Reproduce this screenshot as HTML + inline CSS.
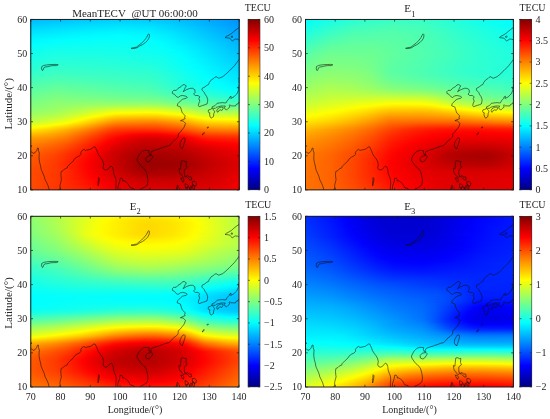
<!DOCTYPE html><html><head><meta charset="utf-8"><style>
html,body{margin:0;padding:0;background:#fff}
body{width:550px;height:419px;overflow:hidden;position:relative}
.f{position:absolute}.f i{display:block;height:1px}
svg{position:absolute;left:0;top:0}
text{font-family:"Liberation Serif","Times New Roman",serif;font-size:10px;fill:#262626}
</style></head><body>
<div class="f" style="left:30px;top:19px;width:210px;height:171px"><i style="background:linear-gradient(90deg,#00b8ff,#00c5ff 52px,#00ccff 91px,#00c9ff 120px,#00b3ff 165px,#0091ff)"></i><i style="background:linear-gradient(90deg,#00bcff,#00c9ff 52px,#00d0ff 91px,#00ccff 120px,#00c3ff 142px,#00adff 176px,#0092ff)"></i><i style="background:linear-gradient(90deg,#00bfff,#00cdff 52px,#00d4ff 91px,#00d0ff 120px,#00b8ff 165px,#0094ff)"></i><i style="background:linear-gradient(90deg,#00c3ff,#00d1ff 52px,#00d7ff 91px,#00d3ff 120px,#00c9ff 142px,#0095ff)"></i><i style="background:linear-gradient(90deg,#00c6ff,#00d4ff 52px,#00dbff 91px,#00d7ff 120px,#00bcff 165px,#0097ff)"></i><i style="background:linear-gradient(90deg,#00caff,#00d8ff 52px,#00deff 91px,#00daff 120px,#00cfff 142px,#0098ff)"></i><i style="background:linear-gradient(90deg,#00cdff,#00dbff 52px,#00e2ff 91px,#00ddff 120px,#00d2ff 142px,#009aff)"></i><i style="background:linear-gradient(90deg,#00d1ff,#00deff 52px,#00e5ff 91px,#00e1ff 120px,#00c3ff 165px,#009bff)"></i><i style="background:linear-gradient(90deg,#00d4ff,#00e2ff 52px,#00e8ff 91px,#00e4ff 120px,#00c5ff 165px,#009dff)"></i><i style="background:linear-gradient(90deg,#00d7ff,#00e5ff 52px,#00ebff 91px,#00e7ff 120px,#00c7ff 165px,#009eff)"></i><i style="background:linear-gradient(90deg,#00daff,#00e8ff 52px,#00eeff 91px,#00eaff 120px,#00c9ff 165px,#00a0ff)"></i><i style="background:linear-gradient(90deg,#00deff,#00ebff 52px,#00f1ff 91px,#00ecff 120px,#00dfff 142px,#00a1ff)"></i><i style="background:linear-gradient(90deg,#00e1ff,#00eeff 52px,#00f4ff 91px,#00efff 120px,#00e1ff 142px,#00a3ff)"></i><i style="background:linear-gradient(90deg,#00e3ff,#00f1ff 52px,#00f6ff 91px,#00f1ff 120px,#00e3ff 142px,#00a4ff)"></i><i style="background:linear-gradient(90deg,#00e6ff,#00f3ff 52px,#00f9ff 91px,#00f4ff 120px,#00e5ff 142px,#00a6ff)"></i><i style="background:linear-gradient(90deg,#00e9ff,#00f6ff 52px,#00fbff 91px,#00f6ff 120px,#00e8ff 142px,#00a7ff)"></i><i style="background:linear-gradient(90deg,#00ecff,#00f8ff 52px,#00fdff 91px,#00f8ff 120px,#00e9ff 142px,#00a9ff)"></i><i style="background:linear-gradient(90deg,#00eeff,#00faff 52px,#00ffff 91px,#00faff 120px,#00ebff 142px,#00aaff)"></i><i style="background:linear-gradient(90deg,#00f0ff,#00fdff 52px,#02fffd 91px,#00fbff 120px,#00edff 142px,#00acff)"></i><i style="background:linear-gradient(90deg,#00f3ff,#00ffff 52px,#03fffc 91px,#00fdff 120px,#00efff 142px,#00adff)"></i><i style="background:linear-gradient(90deg,#00f5ff,#00fdff 26px,#04fffb 72px,#03fffc 106px,#00ffff 119px,#00f1ff 141px,#00afff)"></i><i style="background:linear-gradient(90deg,#00f7ff,#00ffff 26px,#06fff9 72px,#04fffb 106px,#01fffe 119px,#00f3ff 141px,#00b0ff)"></i><i style="background:linear-gradient(90deg,#00f9ff,#02fffd 26px,#07fff8 72px,#06fff9 106px,#03fffc 119px,#00fdff 130px,#00daff 170px,#00b2ff)"></i><i style="background:linear-gradient(90deg,#00fbff,#04fffb 26px,#09fff6 72px,#07fff8 106px,#00fdff 132px,#00daff 171px,#00b3ff)"></i><i style="background:linear-gradient(90deg,#00fdff,#09fff6 52px,#0afff5 91px,#05fffa 120px,#00ffff 131px,#00ddff 170px,#00b5ff)"></i><i style="background:linear-gradient(90deg,#00ffff,#08fff7 26px,#0cfff3 72px,#09fff6 106px,#00ffff 132px,#00deff 171px,#00b6ff)"></i><i style="background:linear-gradient(90deg,#02fffd,#0afff5 26px,#0dfff2 72px,#0afff5 106px,#01fffe 132px,#00f3ff 151px,#00b8ff)"></i><i style="background:linear-gradient(90deg,#04fffb,#0cfff3 26px,#0ffff0 72px,#0cfff3 106px,#03fffc 132px,#00f4ff 151px,#00b9ff)"></i><i style="background:linear-gradient(90deg,#06fff9,#0efff1 26px,#10ffef 72px,#0dfff2 106px,#04fffb 132px,#00f6ff 151px,#00bbff)"></i><i style="background:linear-gradient(90deg,#08fff7,#10ffef 26px,#11ffee 72px,#0efff1 106px,#05fffa 132px,#00feff 141px,#00dfff 175px,#00bcff)"></i><i style="background:linear-gradient(90deg,#0afff5,#12ffed 26px,#13ffec 72px,#0ffff0 106px,#06fff9 132px,#01fffe 141px,#00e1ff 175px,#00beff)"></i><i style="background:linear-gradient(90deg,#0bfff4,#14ffeb 26px,#14ffeb 72px,#10ffef 106px,#08fff7 132px,#02fffd 141px,#00f4ff 158px,#00bfff)"></i><i style="background:linear-gradient(90deg,#0dfff2,#16ffe9 26px,#16ffe9 72px,#11ffee 106px,#09fff6 132px,#00fbff 151px,#00c1ff)"></i><i style="background:linear-gradient(90deg,#0ffff0,#17ffe8 26px,#17ffe8 72px,#12ffed 106px,#0afff5 132px,#00fcff 151px,#00c2ff)"></i><i style="background:linear-gradient(90deg,#11ffee,#19ffe6 26px,#19ffe6 72px,#14ffeb 106px,#0bfff4 132px,#00feff 151px,#00c3ff)"></i><i style="background:linear-gradient(90deg,#13ffec,#1bffe4 26px,#1affe5 72px,#15ffea 106px,#0dfff2 132px,#00ffff 151px,#00c5ff)"></i><i style="background:linear-gradient(90deg,#14ffeb,#1dffe2 26px,#1cffe3 72px,#16ffe9 106px,#0efff1 132px,#01fffe 151px,#00c6ff)"></i><i style="background:linear-gradient(90deg,#16ffe9,#1effe1 26px,#1dffe2 72px,#18ffe7 106px,#0ffff0 132px,#02fffd 151px,#00c7ff)"></i><i style="background:linear-gradient(90deg,#18ffe7,#20ffdf 26px,#1effe1 72px,#19ffe6 106px,#11ffee 132px,#03fffc 151px,#00f5ff 165px,#00c9ff)"></i><i style="background:linear-gradient(90deg,#19ffe6,#22ffdd 26px,#20ffdf 72px,#1affe5 106px,#12ffed 132px,#04fffb 151px,#00fdff 158px,#00caff)"></i><i style="background:linear-gradient(90deg,#1bffe4,#23ffdc 26px,#21ffde 72px,#1cffe3 106px,#13ffec 132px,#05fffa 151px,#00feff 158px,#00cbff)"></i><i style="background:linear-gradient(90deg,#1dffe2,#25ffda 26px,#23ffdc 72px,#1dffe2 106px,#15ffea 132px,#06fff9 151px,#00ffff 158px,#00ccff)"></i><i style="background:linear-gradient(90deg,#1effe1,#26ffd9 26px,#24ffdb 72px,#1fffe0 106px,#16ffe9 132px,#06fff9 151px,#01fffe 158px,#00ceff)"></i><i style="background:linear-gradient(90deg,#20ffdf,#28ffd7 26px,#26ffd9 72px,#20ffdf 106px,#17ffe8 132px,#07fff8 151px,#01fffe 158px,#00cfff)"></i><i style="background:linear-gradient(90deg,#22ffdd,#2affd5 26px,#27ffd8 72px,#21ffde 106px,#19ffe6 132px,#08fff7 151px,#00fbff 165px,#00d0ff)"></i><i style="background:linear-gradient(90deg,#23ffdc,#2bffd4 26px,#29ffd6 72px,#23ffdc 106px,#1affe5 132px,#09fff6 151px,#00fcff 165px,#00d1ff)"></i><i style="background:linear-gradient(90deg,#25ffda,#2dffd2 26px,#2affd5 72px,#24ffdb 106px,#23ffdc 119px,#00feff 164px,#00d3ff)"></i><i style="background:linear-gradient(90deg,#26ffd9,#2fffd0 26px,#2cffd3 72px,#26ffd9 106px,#24ffdb 119px,#14ffeb 141px,#05fffa 158px,#00f9ff 171px,#00d4ff)"></i><i style="background:linear-gradient(90deg,#28ffd7,#30ffcf 26px,#2dffd2 72px,#27ffd8 106px,#26ffd9 119px,#15ffea 141px,#06fff9 158px,#00faff 171px,#00d5ff)"></i><i style="background:linear-gradient(90deg,#2affd5,#32ffcd 26px,#2fffd0 72px,#29ffd6 106px,#27ffd8 119px,#16ffe9 141px,#07fff8 158px,#00fbff 171px,#00d7ff)"></i><i style="background:linear-gradient(90deg,#2cffd3,#34ffcb 26px,#30ffcf 72px,#2affd5 106px,#29ffd6 119px,#18ffe7 141px,#08fff7 158px,#00fcff 171px,#00d8ff)"></i><i style="background:linear-gradient(90deg,#2effd1,#36ffc9 26px,#32ffcd 72px,#2cffd3 106px,#2affd5 119px,#24ffdb 130px,#00feff 170px,#00d9ff)"></i><i style="background:linear-gradient(90deg,#30ffcf,#38ffc7 26px,#34ffcb 72px,#2effd1 106px,#2cffd3 119px,#1affe5 141px,#0bfff4 158px,#00ffff 171px,#00dbff)"></i><i style="background:linear-gradient(90deg,#32ffcd,#3affc5 26px,#36ffc9 72px,#2fffd0 106px,#2effd1 119px,#07fff8 164px,#00fcff 175px,#00dcff)"></i><i style="background:linear-gradient(90deg,#34ffcb,#3dffc2 26px,#2fffd0 118px,#29ffd6 129px,#04fffb 169px,#00faff 179px,#00deff)"></i><i style="background:linear-gradient(90deg,#36ffc9,#3fffc0 26px,#31ffce 118px,#2bffd4 129px,#05fffa 169px,#00fbff 179px,#00dfff)"></i><i style="background:linear-gradient(90deg,#38ffc7,#41ffbe 26px,#3bffc4 72px,#34ffcb 106px,#32ffcd 119px,#2bffd4 130px,#05fffa 170px,#00fcff 180px,#00e0ff)"></i><i style="background:linear-gradient(90deg,#3affc5,#44ffbb 26px,#34ffcb 118px,#2effd1 129px,#07fff8 169px,#00feff 179px,#00e2ff)"></i><i style="background:linear-gradient(90deg,#3dffc2,#47ffb8 26px,#36ffc9 118px,#22ffdd 141px,#04fffb 175px,#00fbff 183px,#00e3ff)"></i><i style="background:linear-gradient(90deg,#3fffc0,#49ffb6 26px,#37ffc8 118px,#31ffce 129px,#0afff5 169px,#01fffe 179px,#00e5ff)"></i><i style="background:linear-gradient(90deg,#41ffbe,#4cffb3 26px,#39ffc6 118px,#32ffcd 129px,#0bfff4 169px,#03fffc 179px,#00e6ff)"></i><i style="background:linear-gradient(90deg,#44ffbb,#4fffb0 26px,#3bffc4 118px,#34ffcb 129px,#1effe1 149px,#04fffb 179px,#00f6ff 194px,#00e8ff)"></i><i style="background:linear-gradient(90deg,#46ffb9,#51ffae 26px,#4effb1 49px,#42ffbd 89px,#3cffc3 119px,#12ffed 164px,#00fdff 187px,#00eaff)"></i><i style="background:linear-gradient(90deg,#49ffb6,#54ffab 26px,#3effc1 118px,#37ffc8 129px,#10ffef 169px,#00fdff 189px,#00ebff)"></i><i style="background:linear-gradient(90deg,#4bffb4,#57ffa8 26px,#40ffbf 118px,#39ffc6 129px,#11ffee 169px,#00ffff 189px,#00edff)"></i><i style="background:linear-gradient(90deg,#4dffb2,#5affa5 26px,#42ffbd 118px,#3bffc4 129px,#13ffec 169px,#02fffd 189px,#00efff)"></i><i style="background:linear-gradient(90deg,#50ffaf,#5dffa2 26px,#45ffba 118px,#19ffe6 164px,#05fffa 187px,#00fbff 198px,#00f1ff)"></i><i style="background:linear-gradient(90deg,#52ffad,#5fffa0 26px,#5bffa4 49px,#4dffb2 89px,#46ffb9 119px,#1bffe4 164px,#07fff8 187px,#00fdff 198px,#00f4ff)"></i><i style="background:linear-gradient(90deg,#55ffaa,#62ff9d 26px,#49ffb6 118px,#42ffbd 129px,#2affd5 149px,#11ffee 179px,#04fffb 194px,#00f6ff)"></i><i style="background:linear-gradient(90deg,#57ffa8,#65ff9a 26px,#4cffb3 118px,#20ffdf 164px,#0cfff3 187px,#03fffc 198px,#00f9ff)"></i><i style="background:linear-gradient(90deg,#5affa5,#67ff98 26px,#63ff9c 49px,#55ffaa 89px,#4effb1 119px,#22ffdd 164px,#0ffff0 187px,#06fff9 198px,#00fcff)"></i><i style="background:linear-gradient(90deg,#5cffa3,#6aff95 26px,#51ffae 118px,#4affb5 129px,#32ffcd 149px,#01fffe)"></i><i style="background:linear-gradient(90deg,#5effa1,#6dff92 26px,#54ffab 118px,#4dffb2 129px,#24ffdb 169px,#05fffa)"></i><i style="background:linear-gradient(90deg,#61ff9e,#70ff8f 26px,#58ffa7 118px,#2cffd3 164px,#09fff6)"></i><i style="background:linear-gradient(90deg,#63ff9c,#6dff92 13px,#72ff8d 37px,#63ff9c 80px,#5cffa3 112px,#58ffa7 124px,#2effd1 167px,#0efff1)"></i><i style="background:linear-gradient(90deg,#66ff99,#75ff8a 26px,#6aff95 72px,#61ff9e 106px,#5fffa0 119px,#35ffca 164px,#13ffec)"></i><i style="background:linear-gradient(90deg,#68ff97,#78ff87 26px,#6dff92 72px,#64ff9b 106px,#63ff9c 119px,#39ffc6 164px,#18ffe7)"></i><i style="background:linear-gradient(90deg,#6bff94,#7bff84 26px,#70ff8f 72px,#68ff97 106px,#67ff98 119px,#60ff9f 130px,#39ffc6 170px,#1effe1)"></i><i style="background:linear-gradient(90deg,#6eff91,#7dff82 26px,#74ff8b 72px,#6dff92 106px,#6bff94 119px,#65ff9a 130px,#3effc1 170px,#23ffdc)"></i><i style="background:linear-gradient(90deg,#70ff8f,#80ff7f 26px,#78ff87 72px,#71ff8e 106px,#70ff8f 119px,#6aff95 130px,#43ffbc 170px,#2affd5)"></i><i style="background:linear-gradient(90deg,#73ff8c,#83ff7c 26px,#7dff82 72px,#77ff88 89px,#75ff8a 119px,#70ff8f 130px,#49ffb6 170px,#30ffcf)"></i><i style="background:linear-gradient(90deg,#75ff8a,#86ff79 26px,#81ff7e 72px,#7bff84 106px,#7bff84 119px,#75ff8a 130px,#4fffb0 170px,#36ffc9)"></i><i style="background:linear-gradient(90deg,#78ff87,#88ff77 26px,#86ff79 72px,#81ff7e 89px,#81ff7e 119px,#7cff83 130px,#55ffaa 170px,#3dffc2)"></i><i style="background:linear-gradient(90deg,#7aff85,#8bff74 26px,#8cff73 72px,#88ff77 106px,#88ff77 119px,#83ff7c 130px,#5cffa3 170px,#4effb1 190px,#45ffba)"></i><i style="background:linear-gradient(90deg,#7cff83,#8dff72 26px,#93ff6c 72px,#91ff6e 106px,#91ff6e 119px,#8cff73 130px,#63ff9c 170px,#4dffb2)"></i><i style="background:linear-gradient(90deg,#7eff81,#8fff70 26px,#9aff65 72px,#9bff64 106px,#9cff63 119px,#97ff68 130px,#6cff93 170px,#5effa1 190px,#56ffa9)"></i><i style="background:linear-gradient(90deg,#81ff7e,#91ff6e 26px,#a2ff5d 72px,#a6ff59 106px,#a7ff58 119px,#a2ff5d 130px,#75ff8a 170px,#67ff98 190px,#60ff9f)"></i><i style="background:linear-gradient(90deg,#83ff7c,#a1ff5e 52px,#b1ff4e 91px,#b3ff4c 120px,#adff52 131px,#99ff66 150px,#76ff89 180px,#6bff94)"></i><i style="background:linear-gradient(90deg,#85ff7a,#a6ff59 52px,#b4ff4b 71px,#bcff43 88px,#c0ff3f 118px,#bcff43 129px,#a7ff58 149px,#92ff6d 164px,#84ff7b 175px,#75ff8a)"></i><i style="background:linear-gradient(90deg,#88ff77,#acff53 52px,#bdff42 71px,#c9ff36 88px,#cdff32 118px,#c9ff36 129px,#b4ff4b 149px,#9dff62 164px,#8eff71 175px,#85ff7a 192px,#81ff7e)"></i><i style="background:linear-gradient(90deg,#8aff75,#9bff64 26px,#c7ff38 72px,#d6ff29 89px,#daff25 119px,#d5ff2a 130px,#c0ff3f 150px,#a7ff58 165px,#97ff68 176px,#8cff73)"></i><i style="background:linear-gradient(90deg,#8dff72,#9eff61 26px,#b5ff4a 49px,#cdff32 69px,#e1ff1e 86px,#e7ff18 117px,#e4ff1b 128px,#cfff30 148px,#b6ff49 163px,#a4ff5b 174px,#9aff65 192px,#97ff68)"></i><i style="background:linear-gradient(90deg,#91ff6e,#a1ff5e 26px,#bbff44 49px,#d6ff29 69px,#ecff13 86px,#f3ff0c 117px,#f0ff0f 128px,#dbff24 148px,#c1ff3e 163px,#aeff51 174px,#a5ff5a 192px,#a2ff5d)"></i><i style="background:linear-gradient(90deg,#94ff6b,#a5ff5a 26px,#c1ff3e 49px,#dfff20 69px,#f8ff07 86px,#ffff00 117px,#fcff03 128px,#e7ff18 148px,#cdff32 163px,#b9ff46 174px,#afff50 192px,#acff53)"></i><i style="background:linear-gradient(90deg,#98ff67,#aaff55 26px,#c8ff37 49px,#e9ff16 69px,#f8ff07 77px,#fffb00 85px,#fff200 116px,#fff400 127px,#fffd00 137px,#e9ff16 155px,#ceff31 168px,#c0ff3f 178px,#b8ff47)"></i><i style="background:linear-gradient(90deg,#9cff63,#afff50 26px,#d0ff2f 49px,#f3ff0c 69px,#fffb00 77px,#ffef00 85px,#ffe500 116px,#ffe700 127px,#fffc00 147px,#f8ff07 154px,#daff25 168px,#cbff34 178px,#c3ff3c)"></i><i style="background:linear-gradient(90deg,#a0ff5f,#b4ff4b 26px,#d7ff28 49px,#feff01 69px,#ffe100 86px,#ffd800 117px,#ffdb00 128px,#fff000 148px,#fffb00 155px,#f6ff09 161px,#ddff22 173px,#d1ff2e 191px,#cfff30)"></i><i style="background:linear-gradient(90deg,#a5ff5a,#baff45 26px,#c9ff36 37px,#f1ff0e 58px,#f9ff06 62px,#fffc00 66px,#ffd700 84px,#ffce00 99px,#ffcc00 126px,#ffe200 147px,#ffec00 154px,#fffb00 161px,#f4ff0b 167px,#e3ff1c 177px,#daff25)"></i><i style="background:linear-gradient(90deg,#aaff55,#c1ff3e 26px,#d0ff2f 37px,#fbff04 58px,#fffb00 62px,#ffd100 80px,#ffc600 88px,#ffbd00 118px,#ffc100 129px,#ffd700 149px,#fff600 164px,#fcff03 169px,#eeff11 179px,#e6ff19)"></i><i style="background:linear-gradient(90deg,#b0ff4f,#c7ff38 26px,#d8ff27 37px,#edff12 47px,#f8ff07 52px,#fffd00 56px,#ffd000 75px,#ffbf00 83px,#ffb400 98px,#ffb200 126px,#ffc700 147px,#ffe400 162px,#ffff00 174px,#f5ff0a 192px,#f2ff0d)"></i><i style="background:linear-gradient(90deg,#b5ff4a,#bfff40 13px,#e0ff1f 37px,#f5ff0a 47px,#fffd00 52px,#ffcf00 71px,#ffbb00 79px,#ffad00 87px,#ffa300 117px,#ffa600 128px,#ffbc00 148px,#ffda00 163px,#fff300 174px,#fffd00 192px,#feff01)"></i><i style="background:linear-gradient(90deg,#bcff43,#c6ff39 13px,#e8ff17 37px,#ffff00 47px,#ffcf00 67px,#ffa500 84px,#ff9b00 99px,#ff9700 112px,#ff9800 124px,#ffab00 145px,#ffb600 153px,#ffd800 167px,#ffea00 177px,#fff400)"></i><i style="background:linear-gradient(90deg,#c2ff3d,#cdff32 13px,#f0ff0f 37px,#fcff03 42px,#fff600 47px,#ffc400 67px,#ff9900 84px,#ff8f00 99px,#ff8c00 126px,#ffa200 147px,#ffac00 154px,#ffce00 168px,#ffdf00 178px,#ffe800)"></i><i style="background:linear-gradient(90deg,#c9ff36,#d5ff2a 13px,#f9ff06 37px,#fff900 42px,#ffc400 63px,#ff9300 81px,#ff8800 89px,#ff7f00 119px,#ff8300 130px,#ff9a00 150px,#ffbb00 165px,#ffd100 176px,#ffda00 193px,#ffdc00)"></i><i style="background:linear-gradient(90deg,#d2ff2d,#deff21 13px,#efff10 25px,#fffc00 36px,#ffc800 57px,#ff9400 76px,#ff8200 84px,#ff7700 99px,#ff7500 126px,#ff8b00 147px,#ff9500 154px,#ffb700 168px,#ffc700 178px,#ffd000)"></i><i style="background:linear-gradient(90deg,#dbff24,#fbff04 26px,#fffb00 31px,#ffc600 53px,#ff9300 72px,#ff7e00 80px,#ff7100 88px,#ff6800 118px,#ff6c00 129px,#ff8200 149px,#ffa100 164px,#ffb800 175px,#ffc100 192px,#ffc400)"></i><i style="background:linear-gradient(90deg,#e6ff19,#f4ff0b 13px,#fcff03 19px,#fff000 30px,#ffbd00 52px,#ff8a00 71px,#ff7400 79px,#ff6600 87px,#ff5d00 117px,#ff6000 128px,#ff7600 148px,#ff8100 155px,#ff9f00 168px,#ffaf00 178px,#ffb800)"></i><i style="background:linear-gradient(90deg,#f1ff0e,#ffff00 13px,#ffd600 37px,#ffa200 58px,#ff6e00 77px,#ff5d00 85px,#ff5500 100px,#ff5500 127px,#ff6a00 147px,#ff7400 154px,#ff9400 168px,#ffa300 178px,#ffac00)"></i><i style="background:linear-gradient(90deg,#fcff03,#fff300 13px,#ffca00 37px,#ff9700 58px,#ff6300 77px,#ff5200 85px,#ff4a00 100px,#ff4a00 127px,#ff5f00 147px,#ff7a00 162px,#ff9300 174px,#ff9d00 192px,#ffa000)"></i><i style="background:linear-gradient(90deg,#fff700,#ffe800 13px,#ffbe00 37px,#ff8c00 58px,#ff5800 77px,#ff4800 85px,#ff4000 100px,#ff3f00 127px,#ff5400 147px,#ff6f00 162px,#ff8700 174px,#ff9100 192px,#ff9400)"></i><i style="background:linear-gradient(90deg,#ffed00,#ffc900 26px,#ff9800 49px,#ff6500 69px,#ff4f00 77px,#ff3e00 85px,#ff3600 100px,#ff3300 113px,#ff3400 125px,#ff4800 146px,#ff6400 162px,#ff7b00 174px,#ff8500 192px,#ff8800)"></i><i style="background:linear-gradient(90deg,#ffe300,#ffc000 26px,#ff8f00 49px,#ff5c00 69px,#ff4600 77px,#ff3600 85px,#ff2c00 100px,#ff2800 113px,#ff2900 125px,#ff3e00 146px,#ff4800 154px,#ff6500 168px,#ff7400 178px,#ff7d00)"></i><i style="background:linear-gradient(90deg,#ffd900,#ffcb00 13px,#ffa300 37px,#ff7100 58px,#ff3e00 77px,#ff2e00 85px,#ff2200 100px,#ff1d00 113px,#ff1e00 125px,#ff3200 146px,#ff3d00 154px,#ff5a00 168px,#ff6800 178px,#ff7100)"></i><i style="background:linear-gradient(90deg,#ffcf00,#ffc200 13px,#ff9c00 37px,#ff3000 80px,#ff2200 88px,#ff1700 103px,#ff1100 116px,#ff1300 127px,#ff2700 147px,#ff3000 154px,#ff4d00 168px,#ff5c00 178px,#ff6400)"></i><i style="background:linear-gradient(90deg,#ffc500,#ffb900 13px,#ff9500 37px,#ff2900 80px,#ff1b00 88px,#ff0d00 103px,#ff0600 116px,#ff0800 127px,#ff1a00 147px,#ff2300 154px,#ff4100 168px,#ff5000 178px,#ff5800)"></i><i style="background:linear-gradient(90deg,#ffbb00,#ffb100 13px,#ff8e00 37px,#ff2200 80px,#ff0a00 96px,#fc0000 110px,#f90000 122px,#ff0000 133px,#ff1400 152px,#ff3100 166px,#ff4300 177px,#ff4c00)"></i><i style="background:linear-gradient(90deg,#ffb200,#ffa900 13px,#ff9b00 25px,#ff8900 36px,#ff1e00 79px,#ff0400 95px,#fa0000 102px,#ef0000 115px,#f00000 126px,#ff0200 147px,#ff0b00 154px,#ff2a00 168px,#ff3800 178px,#ff4000)"></i><i style="background:linear-gradient(90deg,#ffa900,#ffa100 13px,#ff9400 25px,#ff8300 36px,#ff1800 79px,#ff0800 87px,#fd0000 94px,#eb0000 108px,#e40000 120px,#f10000 142px,#f90000 150px,#ff0400 156px,#ff2100 169px,#ff2e00 179px,#ff3600)"></i><i style="background:linear-gradient(90deg,#ffa100,#ff9a00 13px,#ff8d00 25px,#ff7d00 36px,#ff1300 79px,#ff0200 87px,#eb0000 102px,#dd0000 115px,#dd0000 126px,#ed0000 147px,#f50000 154px,#ff0300 160px,#ff1d00 172px,#ff2500 181px,#ff2c00)"></i><i style="background:linear-gradient(90deg,#ff9b00,#ff9400 13px,#ff8700 25px,#ff7700 36px,#ff0e00 79px,#fc0000 87px,#e50000 102px,#d70000 115px,#d70000 126px,#e50000 147px,#ee0000 154px,#fc0000 161px,#ff1500 173px,#ff2100 191px,#ff2400)"></i><i style="background:linear-gradient(90deg,#ff9500,#ff8e00 13px,#ff7000 37px,#ff0600 80px,#f90000 86px,#e10000 101px,#d30000 114px,#d20000 126px,#e00000 147px,#e70000 154px,#f50000 161px,#ff0300 167px,#ff1300 177px,#ff1d00)"></i><i style="background:linear-gradient(90deg,#ff9000,#ff8900 13px,#ff6a00 37px,#ff0200 80px,#e40000 96px,#d20000 110px,#ce0000 122px,#d80000 144px,#df0000 152px,#f90000 166px,#ff0300 171px,#ff0d00 180px,#ff1700)"></i><i style="background:linear-gradient(90deg,#ff8c00,#ff8400 13px,#ff6500 37px,#ff3300 58px,#ff0400 77px,#f10000 85px,#da0000 100px,#cc0000 113px,#cb0000 125px,#d60000 146px,#dd0000 154px,#f60000 168px,#ff0000 173px,#ff0c00 191px,#ff1100)"></i><i style="background:linear-gradient(90deg,#ff8800,#ff7f00 13px,#ff5f00 37px,#ff2f00 58px,#ff0000 77px,#e00000 93px,#ce0000 107px,#c70000 119px,#cf0000 141px,#de0000 158px,#f50000 171px,#ff0000 180px,#ff0b00)"></i><i style="background:linear-gradient(90deg,#ff8400,#ff6b00 26px,#ff5a00 37px,#ff2b00 58px,#ff1500 67px,#ff0000 75px,#df0000 91px,#cd0000 105px,#c50000 118px,#cb0000 141px,#da0000 158px,#ef0000 171px,#f90000 180px,#ff0200 195px,#ff0600)"></i><i style="background:linear-gradient(90deg,#ff8000,#ff6600 26px,#ff5500 37px,#ff2700 58px,#ff1200 67px,#fc0000 75px,#db0000 91px,#ca0000 105px,#c20000 118px,#c80000 141px,#d60000 158px,#ea0000 171px,#fa0000 190px,#ff0200)"></i><i style="background:linear-gradient(90deg,#ff7d00,#ff6200 26px,#ff5100 37px,#ff2300 58px,#ff0e00 67px,#fb0000 74px,#e70000 82px,#cf0000 98px,#c20000 112px,#c30000 136px,#cd0000 154px,#e10000 168px,#ed0000 178px,#f70000 194px,#fc0000)"></i><i style="background:linear-gradient(90deg,#ff7a00,#ff5e00 26px,#ff4d00 37px,#ff2000 58px,#ff0b00 67px,#fd0000 72px,#e80000 80px,#d90000 88px,#c70000 103px,#be0000 116px,#c20000 139px,#cc0000 156px,#de0000 169px,#f00000 189px,#f90000)"></i><i style="background:linear-gradient(90deg,#ff7600,#ff5a00 26px,#ff4900 37px,#ff1d00 58px,#ff0800 67px,#fc0000 71px,#d60000 88px,#c40000 103px,#bb0000 116px,#bf0000 139px,#c80000 156px,#da0000 169px,#ec0000 189px,#f60000)"></i><i style="background:linear-gradient(90deg,#ff7300,#ff5600 26px,#ff4500 37px,#ff1a00 58px,#ff0500 67px,#f90000 71px,#d30000 88px,#c10000 103px,#b80000 116px,#bc0000 139px,#c50000 156px,#e40000 183px,#f30000)"></i><i style="background:linear-gradient(90deg,#ff6f00,#ff5300 26px,#ff2a00 49px,#fc0000 69px,#d40000 86px,#c10000 101px,#b60000 114px,#b80000 138px,#c20000 156px,#e00000 183px,#f10000)"></i><i style="background:linear-gradient(90deg,#ff6c00,#ff4f00 26px,#ff3e00 37px,#ff1300 58px,#fe0000 67px,#d50000 84px,#c00000 99px,#b40000 112px,#b50000 136px,#bd0000 154px,#dc0000 182px,#ef0000)"></i><i style="background:linear-gradient(90deg,#ff6800,#ff4c00 26px,#ff2300 49px,#ff0e00 59px,#ff0600 63px,#fb0000 67px,#d30000 84px,#be0000 99px,#b10000 112px,#b20000 136px,#ba0000 154px,#d90000 182px,#ec0000)"></i><i style="background:linear-gradient(90deg,#ff6500,#ff4900 26px,#ff2100 49px,#ff0c00 59px,#ff0300 63px,#ed0000 72px,#d90000 80px,#bf0000 96px,#b00000 110px,#ac0000 122px,#b20000 144px,#be0000 160px,#d90000 185px,#eb0000)"></i><i style="background:linear-gradient(90deg,#ff6200,#ff4600 26px,#ff1e00 49px,#ff0900 59px,#ff0100 63px,#d50000 81px,#bc0000 97px,#ad0000 111px,#aa0000 123px,#b00000 144px,#bb0000 160px,#d60000 185px,#e90000)"></i><i style="background:linear-gradient(90deg,#ff6000,#ff4400 26px,#ff1c00 49px,#ff0700 59px,#fe0000 63px,#d40000 81px,#ba0000 97px,#ab0000 111px,#a70000 123px,#ae0000 144px,#b90000 160px,#d40000 185px,#e70000)"></i><i style="background:linear-gradient(90deg,#ff5e00,#ff4200 26px,#ff1a00 49px,#ff0500 59px,#fc0000 63px,#d30000 81px,#b90000 97px,#a90000 111px,#a60000 123px,#ac0000 144px,#b70000 160px,#d20000 185px,#e60000)"></i><i style="background:linear-gradient(90deg,#ff5d00,#ff4000 26px,#ff1800 49px,#ff0400 59px,#fb0000 63px,#d20000 81px,#b80000 97px,#a80000 111px,#a40000 123px,#aa0000 144px,#b50000 160px,#d10000 185px,#e50000)"></i><i style="background:linear-gradient(90deg,#ff5b00,#ff3f00 26px,#ff1700 49px,#ff0300 59px,#ee0000 68px,#ca0000 85px,#b30000 100px,#a50000 113px,#a30000 125px,#a90000 146px,#b50000 162px,#d00000 186px,#e30000)"></i><i style="background:linear-gradient(90deg,#ff5a00,#ff3d00 26px,#ff2d00 37px,#ff0300 58px,#d90000 77px,#bd0000 93px,#a90000 107px,#a10000 119px,#a50000 141px,#af0000 158px,#cd0000 184px,#e20000)"></i><i style="background:linear-gradient(90deg,#ff5900,#ff3c00 26px,#ff1400 49px,#ff0000 59px,#d80000 77px,#bc0000 93px,#a80000 107px,#a00000 119px,#a40000 141px,#ad0000 158px,#cc0000 184px,#e10000)"></i><i style="background:linear-gradient(90deg,#ff5800,#ff3b00 26px,#ff1300 49px,#fe0000 59px,#d80000 77px,#bc0000 93px,#a70000 107px,#9f0000 119px,#a20000 141px,#ac0000 158px,#cb0000 184px,#df0000)"></i><i style="background:linear-gradient(90deg,#ff5800,#ff3a00 26px,#ff1200 49px,#fd0000 59px,#d70000 77px,#bb0000 93px,#a60000 107px,#9e0000 119px,#a10000 141px,#aa0000 158px,#ca0000 184px,#de0000)"></i><i style="background:linear-gradient(90deg,#ff5700,#ff3900 26px,#ff1100 49px,#fc0000 59px,#d70000 77px,#a20000 110px,#9d0000 122px,#a10000 144px,#a40000 152px,#c60000 181px,#de0000)"></i><i style="background:linear-gradient(90deg,#ff5600,#ff3900 26px,#ff1100 49px,#ff0700 54px,#fe0000 58px,#d70000 77px,#a20000 110px,#9d0000 122px,#a00000 144px,#ab0000 160px,#ca0000 185px,#dd0000)"></i><i style="background:linear-gradient(90deg,#ff5500,#ff3900 26px,#ff1100 49px,#ff0600 54px,#fd0000 58px,#d70000 77px,#bb0000 93px,#a50000 107px,#9c0000 119px,#9f0000 141px,#a80000 158px,#c80000 184px,#dd0000)"></i><i style="background:linear-gradient(90deg,#ff5400,#ff3800 26px,#ff1100 49px,#ff0700 54px,#fe0000 58px,#d70000 77px,#a20000 110px,#9d0000 122px,#a10000 144px,#ab0000 160px,#ca0000 185px,#dd0000)"></i><i style="background:linear-gradient(90deg,#ff5200,#ff3800 26px,#ff1100 49px,#fc0000 59px,#d80000 77px,#a30000 110px,#9e0000 122px,#a20000 144px,#ac0000 160px,#ca0000 185px,#de0000)"></i><i style="background:linear-gradient(90deg,#ff5100,#ff3800 26px,#ff2800 37px,#fe0000 58px,#b80000 96px,#a40000 110px,#9f0000 122px,#a30000 144px,#ae0000 160px,#cb0000 185px,#df0000)"></i><i style="background:linear-gradient(90deg,#ff5000,#ff3800 26px,#ff1200 49px,#fd0000 59px,#da0000 77px,#a60000 110px,#a10000 122px,#a50000 144px,#b00000 160px,#cc0000 185px,#e00000)"></i><i style="background:linear-gradient(90deg,#ff4f00,#ff3800 26px,#ff2900 37px,#ff0100 58px,#bc0000 96px,#a80000 110px,#a30000 122px,#a80000 144px,#b20000 160px,#ce0000 185px,#e10000)"></i><i style="background:linear-gradient(90deg,#ff4e00,#ff3800 26px,#ff2900 37px,#ff0100 58px,#be0000 96px,#aa0000 110px,#a50000 122px,#aa0000 144px,#b50000 160px,#cf0000 185px,#e30000)"></i><i style="background:linear-gradient(90deg,#ff4d00,#ff3800 26px,#ff2900 37px,#ff0200 58px,#c00000 96px,#ac0000 110px,#a70000 122px,#ad0000 144px,#b70000 160px,#e40000)"></i><i style="background:linear-gradient(90deg,#ff4d00,#ff3800 26px,#ff1400 49px,#ff0100 59px,#c20000 96px,#ae0000 110px,#a90000 122px,#af0000 144px,#b90000 160px,#e50000)"></i><i style="background:linear-gradient(90deg,#ff4c00,#ff3800 26px,#ff2a00 37px,#ff0400 58px,#fc0000 62px,#bf0000 99px,#af0000 112px,#af0000 136px,#b70000 154px,#e60000)"></i><i style="background:linear-gradient(90deg,#ff4c00,#ff3700 26px,#ff2a00 37px,#ff0500 58px,#fd0000 62px,#de0000 80px,#b20000 112px,#b20000 136px,#b90000 154px,#e70000)"></i><i style="background:linear-gradient(90deg,#ff4c00,#ff3700 26px,#ff1600 49px,#ff0400 59px,#f40000 68px,#d80000 85px,#c40000 100px,#b50000 113px,#b60000 137px,#bd0000 155px,#e80000)"></i><i style="background:linear-gradient(90deg,#ff4c00,#ff3700 26px,#ff1700 49px,#ff0600 59px,#fe0000 63px,#c80000 99px,#ba0000 112px,#ba0000 136px,#bf0000 154px,#e90000)"></i><i style="background:linear-gradient(90deg,#ff4c00,#ff3700 26px,#ff1700 49px,#ff0700 59px,#ff0100 63px,#e20000 81px,#be0000 113px,#be0000 137px,#cc0000 173px,#ea0000)"></i><i style="background:linear-gradient(90deg,#ff4c00,#ff3700 26px,#ff1800 49px,#ff0900 59px,#ff0300 63px,#cf0000 99px,#c30000 112px,#c20000 136px,#c50000 154px,#d30000 182px,#eb0000)"></i><i style="background:linear-gradient(90deg,#ff4c00,#ff3700 26px,#ff1900 49px,#ff0a00 59px,#ff0400 63px,#fd0000 67px,#e30000 84px,#d20000 99px,#c80000 112px,#c60000 136px,#c80000 154px,#d40000 182px,#ec0000)"></i><i style="background:linear-gradient(90deg,#ff4c00,#ff3700 26px,#ff1a00 49px,#fc0000 69px,#e20000 86px,#d30000 101px,#ca0000 114px,#cc0000 162px,#d80000 186px,#ed0000)"></i><i style="background:linear-gradient(90deg,#ff4c00,#ff3700 26px,#ff1b00 49px,#fd0000 69px,#e40000 86px,#d60000 101px,#cd0000 114px,#ce0000 162px,#d90000 186px,#ee0000)"></i><i style="background:linear-gradient(90deg,#ff4c00,#ff3700 26px,#ff1c00 49px,#ff0000 69px,#e60000 86px,#d80000 101px,#d00000 114px,#d00000 162px,#da0000 186px,#ef0000)"></i><i style="background:linear-gradient(90deg,#ff4c00,#ff3700 26px,#fc0000 72px,#e50000 89px,#d80000 104px,#d20000 117px,#d30000 163px,#db0000 186px,#f00000)"></i><i style="background:linear-gradient(90deg,#ff4c00,#ff3700 26px,#fe0000 72px,#e70000 89px,#da0000 104px,#d40000 117px,#d50000 163px,#dd0000 186px,#f10000)"></i><i style="background:linear-gradient(90deg,#ff4c00,#ff3700 26px,#ff1f00 49px,#ff0500 69px,#f90000 76px,#e60000 92px,#db0000 106px,#d60000 119px,#d70000 164px,#df0000 187px,#f20000)"></i><i style="background:linear-gradient(90deg,#ff4c00,#ff1d00 52px,#ff0400 71px,#f60000 79px,#e50000 95px,#db0000 109px,#d80000 159px,#e00000 184px,#f30000)"></i><i style="background:linear-gradient(90deg,#ff4c00,#ff1e00 52px,#ff0500 71px,#f80000 79px,#e60000 95px,#dd0000 109px,#da0000 159px,#e20000 184px,#f40000)"></i><i style="background:linear-gradient(90deg,#ff4c00,#ff1f00 52px,#ff0700 71px,#f90000 79px,#e80000 95px,#de0000 109px,#dc0000 159px,#e40000 184px,#f50000)"></i><i style="background:linear-gradient(90deg,#ff4c00,#ff2100 52px,#ff0900 71px,#fb0000 79px,#e90000 95px,#df0000 109px,#de0000 159px,#e70000 184px,#f60000)"></i></div>
<div class="f" style="left:305px;top:19px;width:209px;height:171px"><i style="background:linear-gradient(90deg,#00ffff,#2affd5 52px,#33ffcc 71px,#38ffc7 88px,#36ffc9 118px,#2affd5 140px,#0ffff0 174px,#00ffff)"></i><i style="background:linear-gradient(90deg,#02fffd,#2dffd2 52px,#3bffc4 91px,#37ffc8 120px,#19ffe6 164px,#0afff5 186px,#01fffe)"></i><i style="background:linear-gradient(90deg,#05fffa,#30ffcf 52px,#3dffc2 91px,#39ffc6 120px,#1affe5 164px,#0bfff4 186px,#02fffd)"></i><i style="background:linear-gradient(90deg,#07fff8,#33ffcc 52px,#3fffc0 91px,#3bffc4 120px,#1cffe3 164px,#0dfff2 186px,#03fffc)"></i><i style="background:linear-gradient(90deg,#09fff6,#22ffdd 26px,#34ffcb 48px,#42ffbd 88px,#3dffc2 118px,#30ffcf 140px,#15ffea 174px,#04fffb)"></i><i style="background:linear-gradient(90deg,#0cfff3,#39ffc6 52px,#44ffbb 91px,#3effc1 120px,#1fffe0 164px,#0ffff0 186px,#05fffa)"></i><i style="background:linear-gradient(90deg,#0efff1,#28ffd7 26px,#39ffc6 48px,#46ffb9 88px,#40ffbf 118px,#33ffcc 140px,#18ffe7 174px,#05fffa)"></i><i style="background:linear-gradient(90deg,#11ffee,#2affd5 26px,#3cffc3 48px,#48ffb7 88px,#42ffbd 118px,#22ffdd 163px,#06fff9)"></i><i style="background:linear-gradient(90deg,#13ffec,#2dffd2 26px,#3fffc0 48px,#4affb5 88px,#44ffbb 118px,#24ffdb 163px,#13ffec 186px,#07fff8)"></i><i style="background:linear-gradient(90deg,#15ffea,#30ffcf 26px,#41ffbe 48px,#4cffb3 88px,#45ffba 118px,#25ffda 163px,#08fff7)"></i><i style="background:linear-gradient(90deg,#18ffe7,#32ffcd 26px,#44ffbb 48px,#4effb1 88px,#46ffb9 118px,#26ffd9 163px,#09fff6)"></i><i style="background:linear-gradient(90deg,#1affe5,#35ffca 26px,#46ffb9 48px,#4fffb0 88px,#48ffb7 118px,#27ffd8 163px,#0afff5)"></i><i style="background:linear-gradient(90deg,#1dffe2,#38ffc7 26px,#49ffb6 48px,#51ffae 88px,#49ffb6 118px,#28ffd7 163px,#0bfff4)"></i><i style="background:linear-gradient(90deg,#1fffe0,#3affc5 26px,#4bffb4 48px,#52ffad 88px,#4affb5 118px,#29ffd6 163px,#0cfff3)"></i><i style="background:linear-gradient(90deg,#21ffde,#3dffc2 26px,#4dffb2 48px,#54ffab 88px,#4bffb4 118px,#2affd5 163px,#0dfff2)"></i><i style="background:linear-gradient(90deg,#24ffdb,#40ffbf 26px,#4fffb0 48px,#55ffaa 88px,#4cffb3 118px,#2bffd4 163px,#0efff1)"></i><i style="background:linear-gradient(90deg,#26ffd9,#42ffbd 26px,#52ffad 48px,#56ffa9 88px,#4cffb3 118px,#2cffd3 163px,#0efff1)"></i><i style="background:linear-gradient(90deg,#29ffd6,#45ffba 26px,#54ffab 48px,#57ffa8 88px,#4dffb2 118px,#2dffd2 163px,#0ffff0)"></i><i style="background:linear-gradient(90deg,#2bffd4,#47ffb8 26px,#55ffaa 48px,#57ffa8 88px,#4dffb2 118px,#2dffd2 163px,#10ffef)"></i><i style="background:linear-gradient(90deg,#2effd1,#4affb5 26px,#57ffa8 48px,#58ffa7 88px,#4effb1 118px,#2effd1 163px,#11ffee)"></i><i style="background:linear-gradient(90deg,#30ffcf,#4cffb3 26px,#59ffa6 48px,#59ffa6 88px,#4effb1 118px,#2fffd0 163px,#12ffed)"></i><i style="background:linear-gradient(90deg,#33ffcc,#4fffb0 26px,#5bffa4 48px,#5affa5 88px,#4fffb0 118px,#30ffcf 163px,#13ffec)"></i><i style="background:linear-gradient(90deg,#36ffc9,#51ffae 26px,#5cffa3 48px,#5effa1 68px,#56ffa9 103px,#49ffb6 129px,#2cffd3 169px,#14ffeb)"></i><i style="background:linear-gradient(90deg,#38ffc7,#54ffab 26px,#5effa1 48px,#5fffa0 68px,#56ffa9 103px,#49ffb6 129px,#2cffd3 169px,#15ffea)"></i><i style="background:linear-gradient(90deg,#3bffc4,#57ffa8 26px,#5fffa0 48px,#61ff9e 68px,#57ffa8 103px,#37ffc8 156px,#16ffe9)"></i><i style="background:linear-gradient(90deg,#3dffc2,#4effb1 13px,#58ffa7 25px,#61ff9e 48px,#62ff9d 68px,#57ffa8 103px,#38ffc7 156px,#25ffda 182px,#17ffe8)"></i><i style="background:linear-gradient(90deg,#40ffbf,#5cffa3 26px,#62ff9d 48px,#63ff9c 68px,#57ffa8 103px,#4bffb4 129px,#2effd1 169px,#18ffe7)"></i><i style="background:linear-gradient(90deg,#43ffbc,#5effa1 26px,#64ff9b 48px,#64ff9b 68px,#58ffa7 103px,#19ffe6)"></i><i style="background:linear-gradient(90deg,#45ffba,#56ffa9 13px,#60ff9f 25px,#65ff9a 48px,#65ff9a 68px,#58ffa7 103px,#39ffc6 156px,#27ffd8 182px,#1affe5)"></i><i style="background:linear-gradient(90deg,#48ffb7,#63ff9c 26px,#66ff99 71px,#44ffbb 140px,#2dffd2 174px,#1bffe4)"></i><i style="background:linear-gradient(90deg,#4affb5,#5bffa4 13px,#64ff9b 25px,#68ff97 48px,#68ff97 68px,#46ffb9 138px,#2effd1 173px,#1cffe3)"></i><i style="background:linear-gradient(90deg,#4dffb2,#67ff98 26px,#67ff98 71px,#45ffba 140px,#2dffd2 174px,#1dffe2)"></i><i style="background:linear-gradient(90deg,#4fffb0,#69ff96 26px,#68ff97 71px,#45ffba 140px,#2effd1 174px,#1dffe2)"></i><i style="background:linear-gradient(90deg,#52ffad,#62ff9d 13px,#6bff94 25px,#69ff96 71px,#45ffba 140px,#2effd1 174px,#1effe1)"></i><i style="background:linear-gradient(90deg,#54ffab,#64ff9b 13px,#6dff92 25px,#6eff91 48px,#6bff94 68px,#46ffb9 138px,#2effd1 173px,#1fffe0)"></i><i style="background:linear-gradient(90deg,#56ffa9,#66ff99 13px,#6eff91 25px,#6fff90 48px,#6cff93 68px,#46ffb9 138px,#2effd1 173px,#1fffe0)"></i><i style="background:linear-gradient(90deg,#59ffa6,#68ff97 13px,#70ff8f 25px,#70ff8f 48px,#6dff92 68px,#58ffa7 103px,#4cffb3 129px,#31ffce 169px,#1fffe0)"></i><i style="background:linear-gradient(90deg,#5bffa4,#6aff95 13px,#72ff8d 25px,#72ff8d 48px,#6eff91 68px,#60ff9f 85px,#53ffac 116px,#36ffc9 162px,#28ffd7 185px,#20ffdf)"></i><i style="background:linear-gradient(90deg,#5dffa2,#6bff94 13px,#73ff8c 25px,#73ff8c 48px,#6eff91 68px,#60ff9f 85px,#40ffbf 147px,#2bffd4 178px,#20ffdf)"></i><i style="background:linear-gradient(90deg,#5fffa0,#6dff92 13px,#75ff8a 25px,#74ff8b 48px,#6fff90 68px,#60ff9f 85px,#3fffc0 147px,#2bffd4 178px,#20ffdf)"></i><i style="background:linear-gradient(90deg,#61ff9e,#6fff90 13px,#76ff89 25px,#75ff8a 48px,#6fff90 68px,#60ff9f 85px,#3fffc0 147px,#2bffd4 178px,#20ffdf)"></i><i style="background:linear-gradient(90deg,#63ff9c,#71ff8e 13px,#78ff87 25px,#77ff88 48px,#70ff8f 68px,#5fffa0 85px,#51ffae 116px,#34ffcb 162px,#21ffde)"></i><i style="background:linear-gradient(90deg,#65ff9a,#72ff8d 13px,#79ff86 25px,#78ff87 48px,#71ff8e 68px,#5fffa0 85px,#51ffae 116px,#34ffcb 162px,#21ffde)"></i><i style="background:linear-gradient(90deg,#67ff98,#74ff8b 13px,#7bff84 25px,#79ff86 48px,#71ff8e 68px,#5fffa0 85px,#3dffc2 147px,#2bffd4 178px,#21ffde)"></i><i style="background:linear-gradient(90deg,#6aff95,#7cff83 26px,#7aff85 48px,#72ff8d 68px,#5effa1 85px,#50ffaf 116px,#33ffcc 162px,#21ffde)"></i><i style="background:linear-gradient(90deg,#6cff93,#7eff81 26px,#7bff84 48px,#72ff8d 68px,#5effa1 85px,#4fffb0 116px,#33ffcc 162px,#22ffdd)"></i><i style="background:linear-gradient(90deg,#6eff91,#7fff80 26px,#7dff82 48px,#73ff8c 68px,#5effa1 85px,#4fffb0 116px,#33ffcc 162px,#22ffdd)"></i><i style="background:linear-gradient(90deg,#70ff8f,#80ff7f 26px,#7eff81 48px,#74ff8b 68px,#5effa1 85px,#4fffb0 116px,#32ffcd 162px,#22ffdd)"></i><i style="background:linear-gradient(90deg,#72ff8d,#82ff7d 26px,#7fff80 48px,#7cff83 58px,#76ff89 67px,#5effa1 84px,#4fffb0 115px,#32ffcd 162px,#22ffdd)"></i><i style="background:linear-gradient(90deg,#74ff8b,#83ff7c 26px,#81ff7e 48px,#7dff82 58px,#76ff89 67px,#5effa1 84px,#4fffb0 115px,#32ffcd 162px,#23ffdc)"></i><i style="background:linear-gradient(90deg,#76ff89,#85ff7a 26px,#82ff7d 48px,#7fff80 58px,#77ff88 67px,#5effa1 84px,#4effb1 115px,#32ffcd 162px,#23ffdc)"></i><i style="background:linear-gradient(90deg,#78ff87,#87ff78 26px,#84ff7b 48px,#80ff7f 58px,#78ff87 67px,#5effa1 84px,#4effb1 115px,#32ffcd 162px,#24ffdb)"></i><i style="background:linear-gradient(90deg,#7aff85,#88ff77 26px,#85ff7a 48px,#81ff7e 58px,#79ff86 67px,#5effa1 84px,#4effb1 115px,#32ffcd 162px,#24ffdb)"></i><i style="background:linear-gradient(90deg,#7cff83,#8aff75 26px,#87ff78 48px,#83ff7c 58px,#7bff84 67px,#5fffa0 84px,#4fffb0 115px,#32ffcd 162px,#25ffda)"></i><i style="background:linear-gradient(90deg,#7eff81,#8cff73 26px,#88ff77 48px,#84ff7b 58px,#7cff83 67px,#60ff9f 84px,#56ffa9 99px,#49ffb6 126px,#31ffce 167px,#26ffd9)"></i><i style="background:linear-gradient(90deg,#7fff80,#89ff76 13px,#8eff71 25px,#8aff75 48px,#86ff79 58px,#7dff82 67px,#61ff9e 84px,#51ffae 115px,#34ffcb 162px,#27ffd8)"></i><i style="background:linear-gradient(90deg,#81ff7e,#8bff74 13px,#90ff6f 25px,#8cff73 48px,#87ff78 58px,#7eff81 67px,#62ff9d 84px,#52ffad 115px,#36ffc9 162px,#28ffd7)"></i><i style="background:linear-gradient(90deg,#83ff7c,#8dff72 13px,#92ff6d 25px,#8dff72 48px,#89ff76 58px,#80ff7f 67px,#64ff9b 84px,#40ffbf 146px,#31ffce 177px,#2affd5)"></i><i style="background:linear-gradient(90deg,#85ff7a,#8fff70 13px,#94ff6b 25px,#8fff70 48px,#8aff75 58px,#82ff7d 67px,#66ff99 84px,#42ffbd 146px,#33ffcc 177px,#2bffd4)"></i><i style="background:linear-gradient(90deg,#87ff78,#91ff6e 13px,#96ff69 25px,#91ff6e 48px,#82ff7d 68px,#67ff98 85px,#58ffa7 116px,#3cffc3 162px,#2dffd2)"></i><i style="background:linear-gradient(90deg,#89ff76,#93ff6c 13px,#98ff67 25px,#93ff6c 48px,#84ff7b 68px,#69ff96 85px,#5affa5 116px,#3effc1 162px,#2effd1)"></i><i style="background:linear-gradient(90deg,#8aff75,#95ff6a 13px,#9aff65 25px,#95ff6a 48px,#8fff70 58px,#87ff78 67px,#6dff92 84px,#5dffa2 115px,#41ffbe 162px,#30ffcf)"></i><i style="background:linear-gradient(90deg,#8cff73,#97ff68 13px,#9cff63 25px,#97ff68 48px,#87ff78 68px,#6fff90 85px,#4cffb3 147px,#3cffc3 178px,#32ffcd)"></i><i style="background:linear-gradient(90deg,#8eff71,#99ff66 13px,#9eff61 25px,#99ff66 48px,#8aff75 68px,#72ff8d 85px,#4fffb0 147px,#3effc1 178px,#34ffcb)"></i><i style="background:linear-gradient(90deg,#90ff6f,#9cff63 13px,#a0ff5f 37px,#95ff6a 58px,#80ff7f 76px,#70ff8f 92px,#63ff9c 121px,#47ffb8 165px,#36ffc9)"></i><i style="background:linear-gradient(90deg,#92ff6d,#9eff61 13px,#a3ff5c 25px,#9dff62 48px,#8eff71 68px,#78ff87 85px,#69ff96 116px,#4cffb3 162px,#39ffc6)"></i><i style="background:linear-gradient(90deg,#94ff6b,#a0ff5f 13px,#a5ff5a 25px,#a0ff5f 48px,#91ff6e 68px,#7bff84 85px,#6dff92 116px,#4fffb0 162px,#3bffc4)"></i><i style="background:linear-gradient(90deg,#96ff69,#a2ff5d 13px,#a8ff57 25px,#a2ff5d 48px,#93ff6c 68px,#7fff80 85px,#70ff8f 116px,#52ffad 162px,#3dffc2)"></i><i style="background:linear-gradient(90deg,#99ff66,#a5ff5a 13px,#aaff55 25px,#a5ff5a 48px,#96ff69 68px,#82ff7d 85px,#74ff8b 116px,#55ffaa 162px,#3fffc0)"></i><i style="background:linear-gradient(90deg,#9bff64,#a7ff58 13px,#acff53 25px,#a7ff58 48px,#99ff66 68px,#86ff79 85px,#78ff87 116px,#59ffa6 162px,#42ffbd)"></i><i style="background:linear-gradient(90deg,#9dff62,#a9ff56 13px,#afff50 25px,#aaff55 48px,#9dff62 68px,#8bff74 85px,#7dff82 116px,#5cffa3 162px,#45ffba)"></i><i style="background:linear-gradient(90deg,#a0ff5f,#b2ff4d 26px,#aeff51 48px,#a1ff5e 68px,#91ff6e 85px,#84ff7b 116px,#60ff9f 162px,#47ffb8)"></i><i style="background:linear-gradient(90deg,#a3ff5c,#aeff51 13px,#b4ff4b 25px,#b1ff4e 48px,#a6ff59 68px,#98ff67 85px,#8bff74 116px,#64ff9b 162px,#4bffb4)"></i><i style="background:linear-gradient(90deg,#a5ff5a,#b1ff4e 13px,#b8ff47 37px,#b1ff4e 58px,#9aff65 95px,#8fff70 123px,#66ff99 166px,#4effb1)"></i><i style="background:linear-gradient(90deg,#a8ff57,#baff45 26px,#b8ff47 48px,#a5ff5a 88px,#9bff64 118px,#6dff92 163px,#5cffa3 186px,#52ffad)"></i><i style="background:linear-gradient(90deg,#abff54,#bdff42 26px,#bcff43 48px,#aeff51 88px,#a4ff5b 118px,#9bff64 129px,#80ff7f 149px,#65ff9a 179px,#55ffaa)"></i><i style="background:linear-gradient(90deg,#aeff51,#c0ff3f 26px,#bcff43 71px,#b3ff4c 105px,#aeff51 118px,#a4ff5b 129px,#87ff78 149px,#6aff95 179px,#5affa5)"></i><i style="background:linear-gradient(90deg,#b0ff4f,#c3ff3c 26px,#c3ff3c 71px,#bcff43 105px,#b8ff47 118px,#adff52 129px,#8dff72 149px,#6fff90 179px,#5effa1)"></i><i style="background:linear-gradient(90deg,#b3ff4c,#c6ff39 26px,#caff35 71px,#c6ff39 105px,#c2ff3d 118px,#b7ff48 129px,#95ff6a 149px,#74ff8b 179px,#63ff9c)"></i><i style="background:linear-gradient(90deg,#b7ff48,#c9ff36 26px,#d1ff2e 71px,#d0ff2f 105px,#ccff33 118px,#c0ff3f 129px,#9cff63 149px,#7aff85 179px,#68ff97)"></i><i style="background:linear-gradient(90deg,#baff45,#ccff33 26px,#d8ff27 71px,#d9ff26 105px,#d6ff29 118px,#caff35 129px,#a4ff5b 149px,#80ff7f 179px,#6dff92)"></i><i style="background:linear-gradient(90deg,#bdff42,#cfff30 26px,#dfff20 71px,#e4ff1b 88px,#dfff20 118px,#d3ff2c 129px,#acff53 149px,#86ff79 179px,#73ff8c)"></i><i style="background:linear-gradient(90deg,#c0ff3f,#d3ff2c 26px,#e5ff1a 71px,#ecff13 88px,#e8ff17 118px,#dcff23 129px,#b4ff4b 149px,#8dff72 179px,#79ff86)"></i><i style="background:linear-gradient(90deg,#c3ff3c,#d6ff29 26px,#ecff13 71px,#f5ff0a 88px,#f1ff0e 118px,#e5ff1a 129px,#bdff42 149px,#95ff6a 179px,#81ff7e)"></i><i style="background:linear-gradient(90deg,#c7ff38,#daff25 26px,#f3ff0c 71px,#fdff02 88px,#faff05 118px,#eeff11 129px,#c7ff38 149px,#9fff60 179px,#8bff74)"></i><i style="background:linear-gradient(90deg,#caff35,#deff21 26px,#fbff04 71px,#fff800 88px,#fffb00 118px,#fffe00 123px,#f1ff0e 133px,#ceff31 152px,#a9ff56 180px,#96ff69)"></i><i style="background:linear-gradient(90deg,#ceff31,#f2ff0d 52px,#fffc00 71px,#ffef00 88px,#fff200 118px,#fffc00 129px,#f0ff0f 139px,#d4ff2b 156px,#b3ff4c 182px,#a2ff5d)"></i><i style="background:linear-gradient(90deg,#d1ff2e,#f8ff07 52px,#ffff00 61px,#ffec00 79px,#ffe700 95px,#ffeb00 123px,#fff800 133px,#ffff00 137px,#c8ff37 173px,#b8ff47 191px,#afff50)"></i><i style="background:linear-gradient(90deg,#d5ff2a,#feff01 52px,#ffed00 71px,#ffde00 88px,#ffe000 118px,#ffe800 129px,#fff800 139px,#faff05 147px,#d0ff2f 178px,#c4ff3b 193px,#bdff42)"></i><i style="background:linear-gradient(90deg,#d9ff26,#eeff11 26px,#fffd00 48px,#ffe900 68px,#ffd700 85px,#ffd700 116px,#ffdc00 127px,#fff800 147px,#fdff02 154px,#dbff24 181px,#caff35)"></i><i style="background:linear-gradient(90deg,#ddff22,#f3ff0c 26px,#fcff03 37px,#ffee00 58px,#ffd700 76px,#ffcf00 84px,#ffce00 115px,#ffd100 126px,#ffea00 146px,#fffe00 161px,#e5ff1a 185px,#d8ff27)"></i><i style="background:linear-gradient(90deg,#e1ff1e,#f7ff08 26px,#fffd00 37px,#ffe800 58px,#ffcf00 76px,#ffc700 84px,#ffc500 115px,#ffc800 126px,#fffa00 167px,#f9ff06 177px,#edff12 193px,#e6ff19)"></i><i style="background:linear-gradient(90deg,#e6ff19,#fcff03 26px,#fff800 37px,#ffe200 58px,#ffc800 76px,#ffbf00 84px,#ffbd00 115px,#ffbf00 126px,#ffd400 146px,#fff900 177px,#f9ff06 193px,#f2ff0d)"></i><i style="background:linear-gradient(90deg,#eaff15,#fffe00 26px,#ffe700 48px,#ffce00 68px,#ffb600 85px,#ffb400 116px,#ffb700 127px,#ffca00 147px,#ffee00 178px,#ffff00)"></i><i style="background:linear-gradient(90deg,#efff10,#f9ff06 13px,#fffa00 25px,#ffe200 48px,#ffc700 68px,#ffae00 85px,#ffac00 116px,#ffaf00 127px,#ffbf00 147px,#ffe100 178px,#fff300)"></i><i style="background:linear-gradient(90deg,#f3ff0c,#feff01 13px,#ffe900 37px,#ffd000 58px,#ffb200 76px,#ffa800 84px,#ffa400 115px,#ffae00 138px,#ffd100 173px,#ffe600)"></i><i style="background:linear-gradient(90deg,#f8ff07,#fffc00 13px,#ffe400 37px,#ffca00 58px,#ffab00 76px,#ffa000 84px,#ff9d00 115px,#ffa500 138px,#ffb100 155px,#ffcb00 182px,#ffda00)"></i><i style="background:linear-gradient(90deg,#fdff02,#ffeb00 26px,#ffd100 48px,#ffb300 68px,#ffa400 76px,#ff9800 84px,#ff9500 115px,#ff9c00 138px,#ffa600 155px,#ffbf00 182px,#ffcd00)"></i><i style="background:linear-gradient(90deg,#fffc00,#ffe600 26px,#ffcc00 48px,#ffad00 68px,#ff9000 85px,#ff8d00 116px,#ff9300 139px,#ff9c00 156px,#ffb200 182px,#ffc100)"></i><i style="background:linear-gradient(90deg,#fff600,#ffe100 26px,#ffc600 48px,#ffa700 68px,#ff9600 76px,#ff8a00 84px,#ff8600 115px,#ff8a00 138px,#ff9000 155px,#ffa600 182px,#ffb400)"></i><i style="background:linear-gradient(90deg,#fff100,#ffdc00 26px,#ffc100 48px,#ffa000 68px,#ff8200 85px,#ff7e00 116px,#ff8100 139px,#ff8600 156px,#ff9900 182px,#ffa700)"></i><i style="background:linear-gradient(90deg,#ffec00,#ffd600 26px,#ffbb00 48px,#ff9a00 68px,#ff7b00 85px,#ff7500 116px,#ff7700 139px,#ff7a00 156px,#ff9a00)"></i><i style="background:linear-gradient(90deg,#ffe700,#ffd100 26px,#ffb600 48px,#ff9400 68px,#ff7400 85px,#ff6d00 116px,#ff6d00 139px,#ff6f00 156px,#ff8d00)"></i><i style="background:linear-gradient(90deg,#ffe100,#ffcb00 26px,#ffb000 48px,#ff8e00 68px,#ff6e00 85px,#ff6400 116px,#ff6300 139px,#ff6400 156px,#ff7f00)"></i><i style="background:linear-gradient(90deg,#ffdc00,#ffc500 26px,#ffaa00 48px,#ff8800 68px,#ff6700 85px,#ff5a00 116px,#ff5700 139px,#ff5700 156px,#ff7000)"></i><i style="background:linear-gradient(90deg,#ffd600,#ffbf00 26px,#ffa300 48px,#ff8200 68px,#ff6100 85px,#ff4f00 116px,#ff4a00 139px,#ff4a00 156px,#ff6000)"></i><i style="background:linear-gradient(90deg,#ffd000,#ffb800 26px,#ff9d00 48px,#ff7c00 68px,#ff5b00 85px,#ff4400 116px,#ff3e00 139px,#ff3d00 156px,#ff4f00)"></i><i style="background:linear-gradient(90deg,#ffcb00,#ffb200 26px,#ff9700 48px,#ff7600 68px,#ff5500 85px,#ff3900 116px,#ff3100 139px,#ff3400 174px,#ff4000)"></i><i style="background:linear-gradient(90deg,#ffc500,#ffab00 26px,#ff9000 48px,#ff7000 68px,#ff4f00 85px,#ff2f00 116px,#ff2600 139px,#ff2700 174px,#ff3100)"></i><i style="background:linear-gradient(90deg,#ffc000,#ffa600 26px,#ff8b00 48px,#ff6b00 68px,#ff4900 85px,#ff3600 100px,#ff2900 113px,#ff1c00 137px,#ff1b00 173px,#ff2400)"></i><i style="background:linear-gradient(90deg,#ffbb00,#ff8100 52px,#ff3b00 91px,#ff2a00 105px,#ff1700 131px,#ff1200 150px,#ff1200 179px,#ff1a00)"></i><i style="background:linear-gradient(90deg,#ffb600,#ff9c00 26px,#ff8200 48px,#ff6200 68px,#ff4000 85px,#ff2b00 100px,#ff1300 127px,#ff0b00 147px,#ff0b00 178px,#ff1300)"></i><i style="background:linear-gradient(90deg,#ffb200,#ff9800 26px,#ff7e00 48px,#ff5e00 68px,#ff3c00 85px,#ff2700 100px,#ff1900 113px,#ff0900 137px,#ff0600 173px,#ff0d00)"></i><i style="background:linear-gradient(90deg,#ffae00,#ff9500 26px,#ff7b00 48px,#ff5b00 68px,#ff3800 85px,#ff2300 100px,#ff0b00 127px,#ff0300 147px,#ff0100 178px,#ff0800)"></i><i style="background:linear-gradient(90deg,#ffaa00,#ff9200 26px,#ff7800 48px,#ff5800 68px,#ff3500 85px,#ff2000 100px,#ff0800 127px,#fe0000 147px,#ff0300)"></i><i style="background:linear-gradient(90deg,#ffa700,#ff8f00 26px,#ff7500 48px,#ff5500 68px,#ff3100 85px,#ff1c00 100px,#ff0500 127px,#fb0000 147px,#f90000 178px,#fe0000)"></i><i style="background:linear-gradient(90deg,#ffa300,#ff8c00 26px,#ff7200 48px,#ff5200 68px,#ff2e00 85px,#ff1a00 100px,#ff0200 127px,#f80000 147px,#f60000 178px,#fb0000)"></i><i style="background:linear-gradient(90deg,#ffa000,#ff8900 26px,#ff6f00 48px,#ff4f00 68px,#ff2b00 85px,#ff1700 100px,#ff0000 127px,#f50000 147px,#f30000 178px,#f70000)"></i><i style="background:linear-gradient(90deg,#ff9d00,#ff8600 26px,#ff6d00 48px,#ff4c00 68px,#ff2800 85px,#ff1400 100px,#ff0800 113px,#fe0000 125px,#f20000 146px,#ef0000 177px,#f40000)"></i><i style="background:linear-gradient(90deg,#ff9a00,#ff8400 26px,#ff6a00 48px,#ff4a00 68px,#ff2600 85px,#ff1200 100px,#ff0500 113px,#fb0000 125px,#ef0000 146px,#ec0000 177px,#f10000)"></i><i style="background:linear-gradient(90deg,#ff9700,#ff8100 26px,#ff6800 48px,#ff4700 68px,#ff2300 85px,#ff0000 116px,#ee0000 139px,#e80000 174px,#ed0000)"></i><i style="background:linear-gradient(90deg,#ff9500,#ff7f00 26px,#ff6600 48px,#ff4500 68px,#ff2100 85px,#ff0d00 100px,#ff0100 113px,#ec0000 137px,#e50000 155px,#e40000 182px,#ea0000)"></i><i style="background:linear-gradient(90deg,#ff9200,#ff7d00 26px,#ff6300 48px,#ff4300 68px,#ff1e00 85px,#ff0b00 100px,#fe0000 113px,#e80000 137px,#df0000 173px,#e70000)"></i><i style="background:linear-gradient(90deg,#ff9000,#ff7b00 26px,#ff6100 48px,#ff4100 68px,#ff1c00 85px,#ff0900 100px,#fc0000 113px,#e50000 137px,#dd0000 155px,#db0000 182px,#e40000)"></i><i style="background:linear-gradient(90deg,#ff8e00,#ff7900 26px,#ff5f00 48px,#ff3e00 68px,#ff1a00 85px,#ff0700 100px,#ff0100 106px,#e70000 131px,#da0000 150px,#d70000 179px,#e20000)"></i><i style="background:linear-gradient(90deg,#ff8c00,#ff7700 26px,#ff5d00 48px,#ff3c00 68px,#ff1800 85px,#ff0500 100px,#fe0000 106px,#e50000 131px,#db0000 140px,#d20000 174px,#d50000 191px,#df0000)"></i><i style="background:linear-gradient(90deg,#ff8a00,#ff7500 26px,#ff5b00 48px,#ff3b00 68px,#ff1600 85px,#ff0300 100px,#f60000 113px,#db0000 137px,#d10000 155px,#ce0000 182px,#dd0000)"></i><i style="background:linear-gradient(90deg,#ff8900,#ff7300 26px,#ff5900 48px,#ff3900 68px,#ff1500 85px,#ff0200 100px,#e50000 127px,#cf0000 147px,#ca0000 178px,#cf0000 193px,#da0000)"></i><i style="background:linear-gradient(90deg,#ff8700,#ff7100 26px,#ff5800 48px,#ff3700 68px,#ff1300 85px,#ff0000 100px,#e20000 127px,#cc0000 147px,#c60000 178px,#cb0000 193px,#d80000)"></i><i style="background:linear-gradient(90deg,#ff8500,#ff6f00 26px,#ff5600 48px,#ff3500 68px,#ff1100 85px,#fd0000 100px,#e00000 127px,#c80000 147px,#c20000 178px,#c80000 193px,#d60000)"></i><i style="background:linear-gradient(90deg,#ff8300,#ff6d00 26px,#ff5400 48px,#ff3300 68px,#ff0f00 85px,#ff0500 92px,#fc0000 99px,#df0000 126px,#c50000 146px,#bd0000 177px,#c40000 193px,#d40000)"></i><i style="background:linear-gradient(90deg,#ff8200,#ff6c00 26px,#ff5200 48px,#ff3100 68px,#ff0d00 85px,#ff0300 92px,#e40000 121px,#c40000 143px,#b80000 176px,#bf0000 192px,#d20000)"></i><i style="background:linear-gradient(90deg,#ff8000,#ff6a00 26px,#ff5000 48px,#ff2f00 68px,#ff0c00 85px,#ff0200 92px,#e30000 121px,#c00000 143px,#b70000 159px,#b50000 184px,#d00000)"></i><i style="background:linear-gradient(90deg,#ff7e00,#ff6800 26px,#ff4e00 48px,#ff2d00 68px,#ff0a00 85px,#ff0000 92px,#e10000 121px,#bd0000 143px,#b40000 159px,#b10000 184px,#bc0000 196px,#cf0000)"></i><i style="background:linear-gradient(90deg,#ff7d00,#ff6700 26px,#ff4c00 48px,#ff2b00 68px,#ff0900 85px,#fe0000 92px,#df0000 121px,#ba0000 143px,#b10000 159px,#ad0000 171px,#ac0000 180px,#b70000 194px,#cd0000)"></i><i style="background:linear-gradient(90deg,#ff7c00,#ff6600 26px,#ff4b00 48px,#ff2a00 68px,#ff0800 85px,#fd0000 92px,#de0000 121px,#b90000 143px,#ae0000 159px,#ab0000 184px,#b80000 196px,#cc0000)"></i><i style="background:linear-gradient(90deg,#ff7b00,#ff6500 26px,#ff4a00 48px,#ff2800 68px,#ff0600 85px,#fc0000 92px,#de0000 121px,#b80000 143px,#ad0000 159px,#aa0000 184px,#b70000 196px,#cc0000)"></i><i style="background:linear-gradient(90deg,#ff7a00,#ff6400 26px,#ff4900 48px,#ff2800 68px,#ff0600 85px,#fb0000 92px,#dd0000 121px,#b80000 143px,#ad0000 159px,#aa0000 184px,#b70000 196px,#cc0000)"></i><i style="background:linear-gradient(90deg,#ff7900,#ff6400 26px,#ff4800 48px,#ff2700 68px,#ff0500 85px,#fa0000 92px,#dd0000 121px,#b80000 143px,#ae0000 159px,#aa0000 171px,#a90000 180px,#b50000 194px,#cc0000)"></i><i style="background:linear-gradient(90deg,#ff7800,#ff6300 26px,#ff4800 48px,#fe0000 88px,#e00000 118px,#bd0000 140px,#b00000 157px,#ac0000 183px,#b90000 196px,#cd0000)"></i><i style="background:linear-gradient(90deg,#ff7800,#ff6300 26px,#ff4700 48px,#fd0000 88px,#e00000 118px,#be0000 140px,#b20000 157px,#ad0000 183px,#ba0000 196px,#cd0000)"></i><i style="background:linear-gradient(90deg,#ff7700,#ff6300 26px,#ff4700 48px,#ff2400 68px,#ff0200 85px,#e10000 116px,#c10000 139px,#b40000 156px,#af0000 182px,#ba0000 195px,#ce0000)"></i><i style="background:linear-gradient(90deg,#ff7700,#ff6200 26px,#ff4600 48px,#ff2400 68px,#ff0200 85px,#e10000 116px,#c20000 139px,#b60000 156px,#b10000 182px,#bc0000 195px,#cf0000)"></i><i style="background:linear-gradient(90deg,#ff7600,#ff6200 26px,#ff4600 48px,#ff2300 68px,#ff0100 85px,#e10000 116px,#c40000 139px,#b80000 156px,#b40000 182px,#be0000 195px,#cf0000)"></i><i style="background:linear-gradient(90deg,#ff7600,#ff6200 26px,#ff4600 48px,#ff2300 68px,#ff0100 85px,#be0000 147px,#b60000 178px,#bd0000 193px,#d00000)"></i><i style="background:linear-gradient(90deg,#ff7500,#ff6200 26px,#ff4600 48px,#ff2300 68px,#ff0100 85px,#c00000 147px,#b80000 178px,#bf0000 193px,#d10000)"></i><i style="background:linear-gradient(90deg,#ff7500,#ff6200 26px,#ff4600 48px,#ff2300 68px,#ff0100 85px,#c30000 147px,#bb0000 178px,#c20000 193px,#d30000)"></i><i style="background:linear-gradient(90deg,#ff7400,#ff6200 26px,#ff4600 48px,#ff2300 68px,#ff0100 85px,#e10000 116px,#cc0000 139px,#c40000 156px,#c00000 182px,#d40000)"></i><i style="background:linear-gradient(90deg,#ff7400,#ff6200 26px,#ff4600 48px,#ff2300 68px,#ff0200 85px,#e20000 116px,#cf0000 139px,#c50000 174px,#c80000 191px,#d70000)"></i><i style="background:linear-gradient(90deg,#ff7400,#ff6200 26px,#ff4600 48px,#ff2300 68px,#ff0200 85px,#e30000 116px,#d20000 139px,#ca0000 174px,#cd0000 191px,#d90000)"></i><i style="background:linear-gradient(90deg,#ff7300,#ff6200 26px,#ff4600 48px,#fe0000 88px,#e20000 118px,#d50000 140px,#ce0000 174px,#d10000 191px,#db0000)"></i><i style="background:linear-gradient(90deg,#ff7300,#ff6200 26px,#ff4600 48px,#fe0000 88px,#e40000 118px,#d90000 140px,#d30000 174px,#d50000 191px,#dd0000)"></i><i style="background:linear-gradient(90deg,#ff7300,#ff6200 26px,#ff4600 48px,#ff0000 88px,#e50000 118px,#db0000 140px,#d60000 174px,#df0000)"></i><i style="background:linear-gradient(90deg,#ff7300,#ff6200 26px,#ff4600 48px,#ff0100 88px,#e60000 118px,#dd0000 140px,#d80000 174px,#e00000)"></i><i style="background:linear-gradient(90deg,#ff7300,#ff6200 26px,#ff4600 48px,#ff0200 88px,#e60000 118px,#dd0000 140px,#d90000 174px,#e10000)"></i><i style="background:linear-gradient(90deg,#ff7300,#ff6200 26px,#ff4600 48px,#ff0300 88px,#e70000 118px,#de0000 140px,#da0000 174px,#e10000)"></i><i style="background:linear-gradient(90deg,#ff7300,#ff6200 26px,#ff4600 48px,#ff0400 88px,#fb0000 95px,#ee0000 109px,#e10000 134px,#db0000 171px,#e20000)"></i><i style="background:linear-gradient(90deg,#ff7300,#ff6200 26px,#ff4600 48px,#ff0400 88px,#f40000 103px,#e40000 129px,#dd0000 149px,#dc0000 179px,#e20000)"></i><i style="background:linear-gradient(90deg,#ff7300,#ff6200 26px,#ff4600 48px,#ff0500 88px,#fd0000 95px,#ef0000 109px,#e20000 134px,#dc0000 171px,#e30000)"></i><i style="background:linear-gradient(90deg,#ff7300,#ff6200 26px,#ff4700 48px,#ff0600 88px,#fe0000 95px,#f00000 109px,#e30000 134px,#de0000 152px,#dd0000 180px,#e30000)"></i><i style="background:linear-gradient(90deg,#ff7300,#ff6200 26px,#ff4700 48px,#ff0800 88px,#ff0000 95px,#f10000 109px,#e30000 134px,#de0000 171px,#e30000)"></i><i style="background:linear-gradient(90deg,#ff7300,#ff6200 26px,#ff4800 48px,#ff0900 88px,#ff0100 95px,#ea0000 123px,#e00000 144px,#de0000 176px,#e40000)"></i><i style="background:linear-gradient(90deg,#ff7300,#ff6200 26px,#ff4800 48px,#ff0a00 88px,#ff0200 95px,#ea0000 123px,#e00000 144px,#df0000 176px,#e40000)"></i><i style="background:linear-gradient(90deg,#ff7300,#ff6200 26px,#ff4900 48px,#ff0b00 88px,#ff0300 95px,#eb0000 123px,#e00000 144px,#df0000 176px,#e40000)"></i><i style="background:linear-gradient(90deg,#ff7300,#ff6300 26px,#ff4900 48px,#ff0c00 88px,#ff0400 95px,#f50000 109px,#e50000 134px,#e00000 152px,#df0000 180px,#e50000)"></i><i style="background:linear-gradient(90deg,#ff7300,#ff6300 26px,#ff4a00 48px,#ff0e00 88px,#fc0000 103px,#e90000 129px,#e00000 149px,#e00000 179px,#e50000)"></i><i style="background:linear-gradient(90deg,#ff7300,#ff6300 26px,#ff4b00 48px,#ff0f00 88px,#fd0000 103px,#e90000 129px,#e00000 149px,#e00000 179px,#e50000)"></i><i style="background:linear-gradient(90deg,#ff7300,#ff6300 26px,#ff4b00 48px,#ff1100 88px,#fe0000 103px,#e90000 129px,#e00000 149px,#e50000)"></i><i style="background:linear-gradient(90deg,#ff7300,#ff6300 26px,#ff4c00 48px,#ff1200 88px,#ff0000 103px,#ea0000 129px,#e00000 149px,#e50000)"></i><i style="background:linear-gradient(90deg,#ff7300,#ff6300 26px,#ff4d00 48px,#ff1400 88px,#ff0100 103px,#ea0000 129px,#e00000 149px,#e50000)"></i><i style="background:linear-gradient(90deg,#ff7300,#ff6400 26px,#ff4e00 48px,#ff1500 88px,#ff0300 103px,#ea0000 129px,#e00000 149px,#e50000)"></i></div>
<div class="f" style="left:30px;top:216px;width:209px;height:171px"><i style="background:linear-gradient(90deg,#8cff73,#dbff24 52px,#f5ff0a 71px,#feff01 79px,#ffee00 111px,#fff000 135px,#fff900 153px,#feff01 160px,#dfff20 184px,#b8ff47)"></i><i style="background:linear-gradient(90deg,#8cff73,#b1ff4e 26px,#d5ff2a 48px,#f2ff0d 68px,#fdff02 76px,#ffeb00 109px,#ffec00 134px,#fff600 152px,#fffd00 159px,#e0ff1f 184px,#b8ff47)"></i><i style="background:linear-gradient(90deg,#8bff74,#b0ff4f 26px,#f8ff07 71px,#fffc00 79px,#ffe700 111px,#ffe600 123px,#ffee00 144px,#fffc00 160px,#fbff04 166px,#b8ff47)"></i><i style="background:linear-gradient(90deg,#8bff74,#b0ff4f 26px,#f9ff06 71px,#fffb00 79px,#ffed00 95px,#ffe500 109px,#ffe200 121px,#ffeb00 143px,#fff800 159px,#feff01 165px,#b8ff47)"></i><i style="background:linear-gradient(90deg,#8aff75,#afff50 26px,#d6ff29 48px,#f6ff09 68px,#fffd00 76px,#ffed00 92px,#ffe300 106px,#ffdf00 118px,#ffe700 140px,#fff400 157px,#fffc00 163px,#f2ff0d 174px,#b8ff47)"></i><i style="background:linear-gradient(90deg,#89ff76,#aeff51 26px,#d6ff29 48px,#f7ff08 68px,#fffc00 76px,#ffeb00 92px,#ffe100 106px,#ffdd00 118px,#ffe500 140px,#fff300 157px,#fffa00 163px,#fcff03 168px,#b8ff47)"></i><i style="background:linear-gradient(90deg,#89ff76,#aeff51 26px,#d7ff28 48px,#f8ff07 68px,#fffb00 76px,#ffea00 92px,#ffdf00 106px,#ffdb00 118px,#ffe300 140px,#fff100 157px,#fff900 163px,#fdff02 168px,#b8ff47)"></i><i style="background:linear-gradient(90deg,#88ff77,#adff52 26px,#d7ff28 48px,#f9ff06 68px,#fffa00 76px,#ffe900 92px,#ffde00 106px,#ffda00 118px,#ffe200 140px,#fff000 157px,#fff900 163px,#feff01 168px,#b8ff47)"></i><i style="background:linear-gradient(90deg,#87ff78,#acff53 26px,#d7ff28 48px,#f9ff06 68px,#fff900 76px,#ffdc00 109px,#ffd900 121px,#ffe400 143px,#fff300 159px,#fffb00 165px,#fbff04 170px,#b8ff47)"></i><i style="background:linear-gradient(90deg,#87ff78,#abff54 26px,#d7ff28 48px,#faff05 68px,#fff900 76px,#ffdc00 109px,#ffd900 121px,#ffe400 143px,#fff300 159px,#fffb00 165px,#fbff04 170px,#b8ff47)"></i><i style="background:linear-gradient(90deg,#86ff79,#abff54 26px,#d7ff28 48px,#faff05 68px,#fffa00 75px,#ffdc00 108px,#ffd900 120px,#ffe300 142px,#fff100 158px,#fbff04 170px,#b7ff48)"></i><i style="background:linear-gradient(90deg,#85ff7a,#aaff55 26px,#d7ff28 48px,#fbff04 68px,#fff900 76px,#ffdc00 109px,#ffd900 121px,#ffe400 143px,#fff300 159px,#fffb00 165px,#f1ff0e 176px,#b6ff49)"></i><i style="background:linear-gradient(90deg,#84ff7b,#a9ff56 26px,#d7ff28 48px,#fbff04 68px,#fff800 76px,#ffdc00 109px,#ffd900 121px,#ffe400 143px,#fff300 159px,#fffc00 165px,#f1ff0e 176px,#b6ff49)"></i><i style="background:linear-gradient(90deg,#83ff7c,#a8ff57 26px,#d7ff28 48px,#ecff13 58px,#faff05 67px,#fff900 75px,#ffdc00 108px,#ffd900 120px,#ffe300 142px,#fff200 158px,#fffb00 164px,#fcff03 169px,#dbff24 189px,#b5ff4a)"></i><i style="background:linear-gradient(90deg,#82ff7d,#a7ff58 26px,#d7ff28 48px,#ecff13 58px,#faff05 67px,#fff900 75px,#ffdc00 108px,#ffd900 120px,#ffe400 142px,#fff300 158px,#fffb00 164px,#fbff04 169px,#dbff24 189px,#b4ff4b)"></i><i style="background:linear-gradient(90deg,#81ff7e,#a6ff59 26px,#d6ff29 48px,#edff12 58px,#faff05 67px,#fff900 75px,#ffdc00 108px,#ffd900 120px,#ffe400 142px,#fff300 158px,#fffb00 164px,#fbff04 169px,#daff25 189px,#b3ff4c)"></i><i style="background:linear-gradient(90deg,#80ff7f,#a5ff5a 26px,#bbff44 37px,#edff12 58px,#faff05 67px,#fffa00 74px,#ffdd00 107px,#ffd900 119px,#ffe400 141px,#fff400 158px,#fffc00 164px,#f1ff0e 175px,#b3ff4c)"></i><i style="background:linear-gradient(90deg,#7fff80,#a4ff5b 26px,#baff45 37px,#edff12 58px,#faff05 67px,#fffa00 74px,#ffdd00 107px,#ffd900 119px,#ffe400 141px,#fff400 158px,#fffc00 164px,#deff21 186px,#b3ff4c)"></i><i style="background:linear-gradient(90deg,#7eff81,#a2ff5d 26px,#b8ff47 37px,#ecff13 58px,#faff05 67px,#fffa00 75px,#ffdd00 108px,#ffda00 120px,#ffe600 142px,#fff500 158px,#fffd00 164px,#deff21 186px,#b3ff4c)"></i><i style="background:linear-gradient(90deg,#7dff82,#a0ff5f 26px,#b6ff49 37px,#eaff15 58px,#f8ff07 67px,#fffb00 75px,#ffdf00 108px,#ffdc00 120px,#ffe700 142px,#fff600 158px,#ffff00 164px,#ddff22 186px,#b3ff4c)"></i><i style="background:linear-gradient(90deg,#7bff84,#9eff61 26px,#b4ff4b 37px,#e8ff17 58px,#f6ff09 67px,#fffd00 75px,#ffed00 91px,#ffde00 120px,#ffe900 142px,#fff800 158px,#feff01 164px,#b4ff4b)"></i><i style="background:linear-gradient(90deg,#7aff85,#9cff63 26px,#b2ff4d 37px,#e5ff1a 58px,#fffe00 76px,#ffef00 92px,#ffe600 106px,#ffe200 118px,#ffeb00 140px,#fff900 157px,#fdff02 163px,#b5ff4a)"></i><i style="background:linear-gradient(90deg,#78ff87,#9aff65 26px,#afff50 37px,#e2ff1d 58px,#fdff02 76px,#ffe800 109px,#ffe600 121px,#fff000 143px,#fffe00 159px,#b6ff49)"></i><i style="background:linear-gradient(90deg,#77ff88,#85ff7a 13px,#adff52 37px,#deff21 58px,#faff05 76px,#fffa00 84px,#ffea00 115px,#fff000 138px,#fffb00 155px,#fcff03 161px,#b7ff48)"></i><i style="background:linear-gradient(90deg,#75ff8a,#96ff69 26px,#aaff55 37px,#daff25 58px,#f7ff08 76px,#fffd00 84px,#ffee00 115px,#fff300 138px,#fffe00 155px,#b7ff48)"></i><i style="background:linear-gradient(90deg,#73ff8c,#93ff6c 26px,#c1ff3e 48px,#e8ff17 68px,#ffff00 85px,#fff100 116px,#fff600 139px,#fdff02 156px,#b8ff47)"></i><i style="background:linear-gradient(90deg,#72ff8d,#91ff6e 26px,#beff41 48px,#e5ff1a 68px,#fdff02 85px,#fff400 116px,#fff900 139px,#fbff04 156px,#b7ff48)"></i><i style="background:linear-gradient(90deg,#70ff8f,#8fff70 26px,#e7ff18 71px,#fcff03 88px,#fff700 118px,#fffc00 140px,#feff01 148px,#f0ff0f 163px,#b7ff48)"></i><i style="background:linear-gradient(90deg,#6fff90,#8dff72 26px,#e3ff1c 71px,#f9ff06 88px,#fffd00 103px,#fffb00 129px,#fbff04 149px,#ecff13 164px,#b5ff4a)"></i><i style="background:linear-gradient(90deg,#6eff91,#8bff74 26px,#dfff20 71px,#f6ff09 88px,#feff01 103px,#fffe00 129px,#f9ff06 149px,#b3ff4c)"></i><i style="background:linear-gradient(90deg,#6cff93,#89ff76 26px,#9aff65 37px,#c5ff3a 58px,#e4ff1b 76px,#f5ff0a 92px,#fcff03 106px,#fdff02 131px,#f6ff09 150px,#b0ff4f)"></i><i style="background:linear-gradient(90deg,#6bff94,#87ff78 26px,#adff52 48px,#d2ff2d 68px,#ecff13 85px,#f6ff09 100px,#fbff04 127px,#f4ff0b 147px,#e7ff18 162px,#c9ff36 185px,#aeff51)"></i><i style="background:linear-gradient(90deg,#69ff96,#84ff7b 26px,#aaff55 48px,#ceff31 68px,#e9ff16 85px,#f8ff07 116px,#f5ff0a 139px,#ebff14 156px,#c9ff36 182px,#abff54)"></i><i style="background:linear-gradient(90deg,#68ff97,#82ff7d 26px,#a6ff59 48px,#caff35 68px,#e5ff1a 85px,#f5ff0a 116px,#f2ff0d 139px,#e8ff17 156px,#c6ff39 182px,#a8ff57)"></i><i style="background:linear-gradient(90deg,#66ff99,#7fff80 26px,#a2ff5d 48px,#c6ff39 68px,#e1ff1e 85px,#f2ff0d 116px,#eeff11 139px,#e5ff1a 156px,#c3ff3c 182px,#a6ff59)"></i><i style="background:linear-gradient(90deg,#64ff9b,#7dff82 26px,#9fff60 48px,#c2ff3d 68px,#ddff22 85px,#e8ff17 100px,#eeff11 113px,#ecff13 137px,#e3ff1c 155px,#c0ff3f 182px,#a3ff5c)"></i><i style="background:linear-gradient(90deg,#62ff9d,#7aff85 26px,#9bff64 48px,#beff41 68px,#daff25 85px,#ebff14 116px,#e7ff18 139px,#deff21 156px,#bdff42 182px,#a1ff5e)"></i><i style="background:linear-gradient(90deg,#5fffa0,#77ff88 26px,#97ff68 48px,#baff45 68px,#d6ff29 85px,#e1ff1e 100px,#e7ff18 113px,#e4ff1b 137px,#dcff23 155px,#baff45 182px,#9eff61)"></i><i style="background:linear-gradient(90deg,#5dffa2,#74ff8b 26px,#94ff6b 48px,#b6ff49 68px,#d2ff2d 85px,#e4ff1b 116px,#e0ff1f 139px,#d7ff28 156px,#b7ff48 182px,#9cff63)"></i><i style="background:linear-gradient(90deg,#5affa5,#71ff8e 26px,#90ff6f 48px,#b2ff4d 68px,#ceff31 85px,#daff25 100px,#dfff20 113px,#dcff23 137px,#d4ff2b 155px,#b3ff4c 182px,#99ff66)"></i><i style="background:linear-gradient(90deg,#57ffa8,#6dff92 26px,#8cff73 48px,#aeff51 68px,#caff35 85px,#d6ff29 100px,#dbff24 113px,#d8ff27 137px,#cfff30 155px,#b0ff4f 182px,#97ff68)"></i><i style="background:linear-gradient(90deg,#55ffaa,#6aff95 26px,#88ff77 48px,#caff35 88px,#d8ff27 118px,#d3ff2c 140px,#c9ff36 157px,#94ff6b)"></i><i style="background:linear-gradient(90deg,#52ffad,#66ff99 26px,#84ff7b 48px,#a6ff59 68px,#c2ff3d 85px,#ceff31 100px,#d3ff2c 113px,#d0ff2f 137px,#c6ff39 155px,#91ff6e)"></i><i style="background:linear-gradient(90deg,#4fffb0,#63ff9c 26px,#80ff7f 48px,#a2ff5d 68px,#beff41 85px,#caff35 100px,#cfff30 113px,#ccff33 137px,#c2ff3d 155px,#8eff71)"></i><i style="background:linear-gradient(90deg,#4cffb3,#60ff9f 26px,#7dff82 48px,#9eff61 68px,#baff45 85px,#ccff33 116px,#c6ff39 139px,#bcff43 156px,#8bff74)"></i><i style="background:linear-gradient(90deg,#49ffb6,#5cffa3 26px,#79ff86 48px,#b9ff46 88px,#c3ff3c 103px,#c6ff39 129px,#bcff43 149px,#88ff77)"></i><i style="background:linear-gradient(90deg,#46ffb9,#59ffa6 26px,#75ff8a 48px,#b5ff4a 88px,#c3ff3c 118px,#bcff43 140px,#b2ff4d 157px,#85ff7a)"></i><i style="background:linear-gradient(90deg,#43ffbc,#55ffaa 26px,#71ff8e 48px,#91ff6e 68px,#adff52 85px,#b8ff47 100px,#beff41 113px,#b9ff46 137px,#aeff51 155px,#82ff7d)"></i><i style="background:linear-gradient(90deg,#40ffbf,#52ffad 26px,#6dff92 48px,#8dff72 68px,#a8ff57 85px,#b3ff4c 100px,#b9ff46 113px,#b4ff4b 137px,#9aff65 173px,#7eff81)"></i><i style="background:linear-gradient(90deg,#3dffc2,#4fffb0 26px,#6aff95 48px,#a7ff58 88px,#b5ff4a 118px,#aeff51 140px,#7bff84)"></i><i style="background:linear-gradient(90deg,#3bffc4,#4cffb3 26px,#66ff99 48px,#a2ff5d 88px,#b0ff4f 118px,#a8ff57 140px,#77ff88)"></i><i style="background:linear-gradient(90deg,#38ffc7,#49ffb6 26px,#62ff9d 48px,#9dff62 88px,#abff54 118px,#a3ff5c 140px,#73ff8c)"></i><i style="background:linear-gradient(90deg,#36ffc9,#46ffb9 26px,#5fffa0 48px,#98ff67 88px,#a5ff5a 118px,#9eff61 140px,#6eff91)"></i><i style="background:linear-gradient(90deg,#33ffcc,#43ffbc 26px,#5bffa4 48px,#92ff6d 88px,#a0ff5f 118px,#98ff67 140px,#69ff96)"></i><i style="background:linear-gradient(90deg,#31ffce,#40ffbf 26px,#57ffa8 48px,#8cff73 88px,#99ff66 118px,#92ff6d 140px,#63ff9c)"></i><i style="background:linear-gradient(90deg,#2effd1,#3effc1 26px,#53ffac 48px,#86ff79 88px,#92ff6d 118px,#8cff73 140px,#5dffa2)"></i><i style="background:linear-gradient(90deg,#2cffd3,#3bffc4 26px,#50ffaf 48px,#7fff80 88px,#8bff74 118px,#86ff79 140px,#56ffa9)"></i><i style="background:linear-gradient(90deg,#29ffd6,#38ffc7 26px,#66ff99 71px,#79ff86 88px,#84ff7b 118px,#7fff80 140px,#77ff88 157px,#60ff9f 183px,#4fffb0)"></i><i style="background:linear-gradient(90deg,#27ffd8,#35ffca 26px,#61ff9e 71px,#72ff8d 88px,#7dff82 118px,#78ff87 140px,#70ff8f 157px,#59ffa6 183px,#48ffb7)"></i><i style="background:linear-gradient(90deg,#25ffda,#33ffcc 26px,#5bffa4 71px,#6bff94 88px,#75ff8a 118px,#71ff8e 140px,#6aff95 157px,#52ffad 183px,#40ffbf)"></i><i style="background:linear-gradient(90deg,#22ffdd,#30ffcf 26px,#56ffa9 71px,#64ff9b 88px,#6eff91 118px,#6aff95 140px,#64ff9b 157px,#4bffb4 183px,#39ffc6)"></i><i style="background:linear-gradient(90deg,#20ffdf,#2dffd2 26px,#50ffaf 71px,#5dffa2 88px,#66ff99 118px,#64ff9b 140px,#5effa1 157px,#44ffbb 183px,#31ffce)"></i><i style="background:linear-gradient(90deg,#1effe1,#2bffd4 26px,#4bffb4 71px,#5cffa3 105px,#5effa1 131px,#5bffa4 150px,#29ffd6)"></i><i style="background:linear-gradient(90deg,#1bffe4,#3affc5 52px,#51ffae 91px,#58ffa7 120px,#56ffa9 142px,#50ffaf 158px,#36ffc9 183px,#22ffdd)"></i><i style="background:linear-gradient(90deg,#19ffe6,#36ffc9 52px,#4affb5 91px,#51ffae 120px,#50ffaf 142px,#4affb5 158px,#2fffd0 183px,#1affe5)"></i><i style="background:linear-gradient(90deg,#17ffe8,#32ffcd 52px,#44ffbb 91px,#4affb5 120px,#49ffb6 142px,#44ffbb 158px,#28ffd7 183px,#13ffec)"></i><i style="background:linear-gradient(90deg,#15ffea,#2fffd0 52px,#3effc1 91px,#44ffbb 120px,#43ffbc 142px,#43ffbc 150px,#38ffc7 164px,#1fffe0 186px,#0dfff2)"></i><i style="background:linear-gradient(90deg,#14ffeb,#2cffd3 52px,#39ffc6 91px,#3effc1 120px,#3effc1 142px,#39ffc6 158px,#1cffe3 183px,#06fff9)"></i><i style="background:linear-gradient(90deg,#12ffed,#29ffd6 52px,#34ffcb 91px,#39ffc6 120px,#39ffc6 142px,#34ffcb 158px,#16ffe9 183px,#00ffff)"></i><i style="background:linear-gradient(90deg,#10ffef,#26ffd9 52px,#2fffd0 91px,#33ffcc 150px,#27ffd8 164px,#0efff1 186px,#04fffb 197px,#00faff)"></i><i style="background:linear-gradient(90deg,#0ffff0,#22ffdd 52px,#2effd1 130px,#2effd1 149px,#21ffde 164px,#08fff7 186px,#00fdff 197px,#00f4ff)"></i><i style="background:linear-gradient(90deg,#0dfff2,#1fffe0 52px,#28ffd7 130px,#28ffd7 149px,#1bffe4 164px,#02fffd 186px,#00eeff)"></i><i style="background:linear-gradient(90deg,#0bfff4,#1bffe4 52px,#23ffdc 130px,#22ffdd 149px,#15ffea 164px,#06fff9 175px,#00fdff 183px,#00e7ff)"></i><i style="background:linear-gradient(90deg,#09fff6,#18ffe7 52px,#1dffe2 130px,#1cffe3 149px,#0ffff0 164px,#00ffff 175px,#00e1ff)"></i><i style="background:linear-gradient(90deg,#08fff7,#15ffea 52px,#18ffe7 130px,#16ffe9 149px,#09fff6 164px,#02fffd 169px,#00dbff)"></i><i style="background:linear-gradient(90deg,#06fff9,#11ffee 52px,#13ffec 130px,#10ffef 149px,#03fffc 164px,#00d5ff)"></i><i style="background:linear-gradient(90deg,#05fffa,#0efff1 52px,#0efff1 130px,#0bfff4 149px,#00fdff 164px,#00e3ff 186px,#00d0ff)"></i><i style="background:linear-gradient(90deg,#03fffc,#0cfff3 52px,#0afff5 130px,#06fff9 149px,#02fffd 156px,#00e2ff 182px,#00cbff)"></i><i style="background:linear-gradient(90deg,#02fffd,#09fff6 52px,#06fff9 130px,#02fffd 149px,#00fdff 156px,#00deff 182px,#00c7ff)"></i><i style="background:linear-gradient(90deg,#01fffe,#07fff8 52px,#03fffc 130px,#00feff 149px,#00f0ff 164px,#00d7ff 186px,#00c4ff)"></i><i style="background:linear-gradient(90deg,#00ffff,#06fff9 26px,#02fffd 117px,#00feff 140px,#00f6ff 157px,#00d7ff 183px,#00c1ff)"></i><i style="background:linear-gradient(90deg,#00ffff,#05fffa 52px,#00ffff 130px,#00faff 149px,#00ecff 164px,#00d2ff 186px,#00c0ff)"></i><i style="background:linear-gradient(90deg,#00ffff,#05fffa 52px,#00feff 130px,#00faff 149px,#00ecff 164px,#00d2ff 186px,#00bfff)"></i><i style="background:linear-gradient(90deg,#00ffff,#05fffa 52px,#00ffff 130px,#00faff 149px,#00ecff 164px,#00d2ff 186px,#00bfff)"></i><i style="background:linear-gradient(90deg,#00ffff,#06fff9 52px,#01fffe 130px,#00fbff 149px,#00ecff 164px,#00d1ff 186px,#00bfff)"></i><i style="background:linear-gradient(90deg,#01fffe,#07fff8 52px,#03fffc 130px,#00fcff 149px,#00ecff 164px,#00d1ff 186px,#00bfff)"></i><i style="background:linear-gradient(90deg,#01fffe,#08fff7 52px,#05fffa 130px,#00feff 149px,#00edff 164px,#00d1ff 186px,#00bfff)"></i><i style="background:linear-gradient(90deg,#01fffe,#09fff6 52px,#08fff7 130px,#00ffff 149px,#00eeff 164px,#00d1ff 186px,#00bfff)"></i><i style="background:linear-gradient(90deg,#02fffd,#0bfff4 52px,#0bfff4 130px,#02fffd 149px,#00fbff 156px,#00d5ff 182px,#00bfff)"></i><i style="background:linear-gradient(90deg,#03fffc,#0cfff3 52px,#11ffee 91px,#11ffee 120px,#09fff6 142px,#04fffb 150px,#00fbff 157px,#00d4ff 183px,#00bfff)"></i><i style="background:linear-gradient(90deg,#03fffc,#0efff1 52px,#16ffe9 91px,#16ffe9 120px,#0cfff3 142px,#06fff9 150px,#00fdff 157px,#00e6ff 170px,#00ceff 189px,#00bfff)"></i><i style="background:linear-gradient(90deg,#04fffb,#10ffef 52px,#1affe5 91px,#1affe5 120px,#0ffff0 142px,#00fdff 158px,#00e6ff 170px,#00ceff 189px,#00bfff)"></i><i style="background:linear-gradient(90deg,#05fffa,#12ffed 52px,#1fffe0 91px,#1fffe0 120px,#13ffec 142px,#00ffff 158px,#00e7ff 170px,#00d8ff 179px,#00bfff)"></i><i style="background:linear-gradient(90deg,#07fff8,#16ffe9 52px,#24ffdb 91px,#25ffda 120px,#18ffe7 142px,#03fffc 158px,#00e9ff 170px,#00daff 179px,#00caff 194px,#00c1ff)"></i><i style="background:linear-gradient(90deg,#0bfff4,#1bffe4 52px,#2cffd3 91px,#2cffd3 120px,#28ffd7 131px,#16ffe9 150px,#0bfff4 157px,#00fcff 163px,#00e5ff 174px,#00d0ff 191px,#00c4ff)"></i><i style="background:linear-gradient(90deg,#10ffef,#22ffdd 52px,#35ffca 91px,#36ffc9 120px,#27ffd8 142px,#10ffef 158px,#02fffd 164px,#00e9ff 175px,#00d5ff 192px,#00c9ff)"></i><i style="background:linear-gradient(90deg,#16ffe9,#2bffd4 52px,#40ffbf 91px,#41ffbe 120px,#31ffce 142px,#27ffd8 150px,#0afff5 164px,#00fcff 169px,#00eaff 179px,#00daff 194px,#00d0ff)"></i><i style="background:linear-gradient(90deg,#1dffe2,#34ffcb 52px,#41ffbe 71px,#4bffb4 88px,#4dffb2 118px,#49ffb6 129px,#33ffcc 149px,#13ffec 164px,#06fff9 169px,#00faff 174px,#00e5ff 191px,#00d9ff)"></i><i style="background:linear-gradient(90deg,#25ffda,#3effc1 52px,#4cffb3 71px,#57ffa8 88px,#59ffa6 118px,#55ffaa 129px,#3fffc0 149px,#1dffe2 164px,#02fffd 175px,#00edff 192px,#00e2ff)"></i><i style="background:linear-gradient(90deg,#2dffd2,#49ffb6 52px,#58ffa7 71px,#63ff9c 88px,#67ff98 118px,#62ff9d 129px,#4bffb4 149px,#28ffd7 164px,#0cfff3 175px,#01fffe 183px,#00f2ff 196px,#00ecff)"></i><i style="background:linear-gradient(90deg,#35ffca,#54ffab 52px,#64ff9b 71px,#70ff8f 88px,#74ff8b 118px,#70ff8f 129px,#57ffa8 149px,#49ffb6 156px,#25ffda 169px,#10ffef 179px,#00feff 194px,#00f6ff)"></i><i style="background:linear-gradient(90deg,#3effc1,#4cffb3 26px,#70ff8f 71px,#7dff82 88px,#81ff7e 118px,#7dff82 129px,#64ff9b 149px,#55ffaa 156px,#30ffcf 169px,#1affe5 179px,#09fff6 194px,#01fffe)"></i><i style="background:linear-gradient(90deg,#46ffb9,#55ffaa 26px,#7bff84 71px,#89ff76 88px,#8fff70 118px,#8aff75 129px,#70ff8f 149px,#61ff9e 156px,#3affc5 169px,#24ffdb 179px,#12ffed 194px,#0bfff4)"></i><i style="background:linear-gradient(90deg,#4effb1,#5dffa2 26px,#87ff78 71px,#95ff6a 88px,#9bff64 118px,#97ff68 129px,#7dff82 149px,#6dff92 156px,#44ffbb 169px,#2dffd2 179px,#1cffe3 194px,#14ffeb)"></i><i style="background:linear-gradient(90deg,#57ffa8,#67ff98 26px,#92ff6d 71px,#a2ff5d 88px,#a9ff56 118px,#a4ff5b 129px,#8aff75 149px,#7aff85 156px,#4fffb0 169px,#38ffc7 179px,#26ffd9 194px,#1fffe0)"></i><i style="background:linear-gradient(90deg,#60ff9f,#71ff8e 26px,#9fff60 71px,#afff50 88px,#b6ff49 118px,#b2ff4d 129px,#98ff67 149px,#88ff77 156px,#5cffa3 169px,#43ffbc 179px,#32ffcd 194px,#2affd5)"></i><i style="background:linear-gradient(90deg,#6aff95,#7bff84 26px,#abff54 71px,#bcff43 88px,#c5ff3a 118px,#c0ff3f 129px,#a7ff58 149px,#97ff68 156px,#68ff97 169px,#4fffb0 179px,#3effc1 194px,#36ffc9)"></i><i style="background:linear-gradient(90deg,#74ff8b,#86ff79 26px,#b8ff47 71px,#caff35 88px,#d3ff2c 118px,#cfff30 129px,#b7ff48 149px,#a6ff59 156px,#76ff89 169px,#66ff99 174px,#58ffa7 182px,#49ffb6 195px,#43ffbc)"></i><i style="background:linear-gradient(90deg,#7eff81,#91ff6e 26px,#c5ff3a 71px,#d7ff28 88px,#e2ff1d 118px,#deff21 129px,#c6ff39 149px,#b5ff4a 156px,#83ff7c 169px,#68ff97 179px,#57ffa8 194px,#50ffaf)"></i><i style="background:linear-gradient(90deg,#88ff77,#9cff63 26px,#d2ff2d 71px,#e5ff1a 88px,#f1ff0e 118px,#edff12 129px,#d6ff29 149px,#c5ff3a 156px,#91ff6e 169px,#80ff7f 174px,#71ff8e 182px,#63ff9c 195px,#5dffa2)"></i><i style="background:linear-gradient(90deg,#92ff6d,#a7ff58 26px,#dfff20 71px,#f3ff0c 88px,#fcff03 103px,#fdff02 129px,#e6ff19 149px,#d4ff2b 156px,#9fff60 169px,#8dff72 174px,#7eff81 182px,#70ff8f 195px,#69ff96)"></i><i style="background:linear-gradient(90deg,#9bff64,#b1ff4e 26px,#ecff13 71px,#f8ff07 79px,#fffd00 87px,#ffef00 117px,#fff100 128px,#fffa00 138px,#faff05 146px,#eeff11 153px,#b5ff4a 167px,#92ff6d 177px,#7eff81 193px,#76ff89)"></i><i style="background:linear-gradient(90deg,#a4ff5b,#bbff44 26px,#d7ff28 48px,#f4ff0b 68px,#fffd00 76px,#ffeb00 92px,#ffe200 106px,#ffdf00 118px,#ffe200 129px,#fff800 149px,#faff05 154px,#c3ff3c 167px,#aeff51 172px,#a1ff5e 176px,#8cff73 192px,#82ff7d)"></i><i style="background:linear-gradient(90deg,#adff52,#c5ff3a 26px,#e2ff1d 48px,#fffe00 68px,#ffe300 85px,#ffd600 100px,#ffcf00 113px,#ffcf00 125px,#ffe300 146px,#fff000 153px,#ffff00 157px,#c3ff3c 170px,#b4ff4b 174px,#a4ff5b 182px,#95ff6a 195px,#8fff70)"></i><i style="background:linear-gradient(90deg,#b5ff4a,#cfff30 26px,#ecff13 48px,#fcff03 58px,#fff300 67px,#ffd600 84px,#ffc700 99px,#ffbf00 112px,#ffbe00 124px,#ffd200 145px,#ffe000 153px,#fffc00 160px,#c9ff36 172px,#bcff43 176px,#a5ff5a 192px,#9bff64)"></i><i style="background:linear-gradient(90deg,#bdff42,#d9ff26 26px,#f7ff08 48px,#ffff00 53px,#ffdd00 72px,#ffc100 89px,#ffb300 104px,#ffad00 117px,#ffaf00 128px,#ffc500 148px,#ffd700 155px,#fff200 161px,#fdff02 164px,#e4ff1b 169px,#cfff30 174px,#beff41 182px,#afff50 195px,#a8ff57)"></i><i style="background:linear-gradient(90deg,#c6ff39,#e3ff1c 26px,#fffc00 48px,#ffb300 88px,#ffa400 103px,#ff9c00 116px,#ff9e00 127px,#ffb300 147px,#ffbf00 153px,#fcff03 167px,#e5ff1a 172px,#d6ff29 176px,#bfff40 192px,#b5ff4a)"></i><i style="background:linear-gradient(90deg,#cfff30,#edff12 26px,#fcff03 37px,#fff200 47px,#ffce00 67px,#ffaa00 84px,#ff8b00 115px,#ff8c00 126px,#ffa100 146px,#ffaf00 153px,#ffcd00 160px,#ffee00 166px,#fcff03 170px,#ebff14 174px,#d9ff26 182px,#c9ff36 195px,#c2ff3d)"></i><i style="background:linear-gradient(90deg,#d8ff27,#f7ff08 26px,#feff01 31px,#ffdc00 53px,#ffb500 72px,#ff9400 89px,#ff8300 104px,#ff7b00 117px,#ff7d00 128px,#ff9300 148px,#ffa200 154px,#ffbd00 160px,#fffd00 172px,#e9ff16 181px,#d6ff29 195px,#cfff30)"></i><i style="background:linear-gradient(90deg,#e2ff1d,#f1ff0e 13px,#fffd00 25px,#ffd900 48px,#ffb100 68px,#ff8b00 85px,#ff7700 100px,#ff6c00 113px,#ff6c00 125px,#ff8000 146px,#ff8e00 153px,#ffad00 160px,#ffee00 172px,#fffd00 176px,#e7ff18 192px,#e0ff1f 200px,#ddff22)"></i><i style="background:linear-gradient(90deg,#eeff11,#fdff02 13px,#ffdf00 37px,#ffb900 58px,#ff8f00 76px,#ff7d00 84px,#ff6900 99px,#ff5d00 112px,#ff5c00 124px,#ff6e00 145px,#ff7d00 153px,#ff9d00 160px,#ffde00 172px,#ffed00 176px,#fffd00 184px,#f1ff0e 196px,#eaff15)"></i><i style="background:linear-gradient(90deg,#fbff04,#fffd00 6px,#ffda00 31px,#ffb300 53px,#ff8900 72px,#ff7500 80px,#ff5c00 96px,#ff4e00 110px,#ff4b00 122px,#ff5000 132px,#ff6600 151px,#ff8100 158px,#ffc300 170px,#ffd600 174px,#ffea00 182px,#fffd00 195px,#f8ff07)"></i><i style="background:linear-gradient(90deg,#fff500,#ffd300 26px,#ffad00 48px,#ff5500 88px,#ff4400 103px,#ff3b00 116px,#ff3c00 127px,#ff4e00 147px,#ff5d00 154px,#ff7900 160px,#ffbb00 172px,#ffcb00 176px,#ffe900 192px,#fff300 200px,#fff700)"></i><i style="background:linear-gradient(90deg,#ffe600,#ffc400 26px,#ff9d00 48px,#ff4400 88px,#ff3300 103px,#ff2a00 116px,#ff2c00 127px,#ff3c00 147px,#ff4a00 154px,#ff6600 160px,#ffa900 172px,#ffba00 176px,#ffd900 192px,#ffe300 200px,#ffe800)"></i><i style="background:linear-gradient(90deg,#ffd700,#ffb500 26px,#ff8d00 48px,#ff6000 68px,#ff3800 85px,#ff2600 100px,#ff1c00 113px,#ff1b00 125px,#ff2900 146px,#ff3500 153px,#ff5400 160px,#ff9700 172px,#ffa800 176px,#ffc900 192px,#ffda00)"></i><i style="background:linear-gradient(90deg,#ffc800,#ffa700 26px,#ff7e00 48px,#ff5000 68px,#ff2900 85px,#ff1700 100px,#ff0d00 113px,#ff0c00 125px,#ff1900 146px,#ff2400 153px,#ff4300 160px,#ff8500 172px,#ff9600 176px,#ffb900 192px,#ffc500 200px,#ffcb00)"></i><i style="background:linear-gradient(90deg,#ffba00,#ff9a00 26px,#ff6f00 48px,#ff4200 68px,#ff1a00 85px,#ff0900 100px,#ff0000 113px,#ff0400 137px,#ff0b00 146px,#ff1600 153px,#ff3400 160px,#ff7500 172px,#ff8500 176px,#ffaa00 192px,#ffb600 200px,#ffbd00)"></i><i style="background:linear-gradient(90deg,#ffae00,#ff8e00 26px,#ff6300 48px,#ff3500 68px,#ff0e00 85px,#fc0000 100px,#f30000 113px,#f30000 125px,#ff0000 146px,#ff0a00 153px,#ff2600 160px,#ff6500 172px,#ff7600 176px,#ff9b00 192px,#ffa800 200px,#ffb000)"></i><i style="background:linear-gradient(90deg,#ffa400,#ff8400 26px,#ff5900 48px,#ff2b00 68px,#ff0500 85px,#fb0000 92px,#ee0000 106px,#e90000 118px,#f10000 140px,#f80000 148px,#ff0400 154px,#ff1c00 160px,#ff5800 172px,#ff6800 176px,#ff8e00 192px,#ff9b00 200px,#ffa400)"></i><i style="background:linear-gradient(90deg,#ff9b00,#ff7c00 26px,#ff6900 37px,#ff0600 80px,#fa0000 86px,#ea0000 101px,#e20000 114px,#e20000 125px,#ef0000 146px,#f90000 153px,#ff0600 157px,#ff4200 170px,#ff6300 179px,#ff8400 194px,#ff9700)"></i><i style="background:linear-gradient(90deg,#ff9300,#ff7400 26px,#ff4700 48px,#ff1900 68px,#ff0600 76px,#f90000 82px,#e60000 97px,#db0000 111px,#da0000 123px,#e60000 144px,#ef0000 152px,#ff0200 158px,#ff3600 170px,#ff5500 179px,#ff7500 194px,#ff8900)"></i><i style="background:linear-gradient(90deg,#ff8a00,#ff7e00 13px,#ff5900 37px,#ff2800 58px,#fd0000 76px,#ee0000 84px,#dd0000 99px,#d30000 112px,#d20000 124px,#e00000 145px,#eb0000 153px,#ff0100 160px,#ff3100 172px,#ff4b00 181px,#ff6800 195px,#ff7c00)"></i><i style="background:linear-gradient(90deg,#ff8300,#ff6500 26px,#ff5100 37px,#ff2000 58px,#ff0c00 67px,#fb0000 74px,#df0000 90px,#d20000 104px,#cb0000 117px,#d50000 140px,#dd0000 148px,#e90000 155px,#fc0000 161px,#ff0f00 166px,#ff3100 176px,#ff5400 192px,#ff6f00)"></i><i style="background:linear-gradient(90deg,#ff7c00,#ff7000 13px,#ff4b00 37px,#ff1900 58px,#ff0600 67px,#f70000 73px,#e60000 81px,#d20000 97px,#c70000 111px,#c50000 123px,#d40000 144px,#de0000 152px,#ee0000 159px,#ff0300 165px,#ff2500 176px,#ff4800 192px,#ff6300)"></i><i style="background:linear-gradient(90deg,#ff7600,#ff6a00 13px,#ff4500 37px,#ff1300 58px,#ff0000 67px,#dc0000 84px,#cb0000 99px,#c20000 112px,#c10000 124px,#d10000 145px,#db0000 153px,#ff0200 167px,#ff1e00 177px,#ff3f00 193px,#ff5900)"></i><i style="background:linear-gradient(90deg,#ff7100,#ff5300 26px,#ff4000 37px,#ff0e00 58px,#ff0600 62px,#fc0000 66px,#d90000 83px,#c80000 98px,#bf0000 111px,#bd0000 123px,#cd0000 144px,#d70000 152px,#f80000 166px,#ff0400 170px,#ff2f00 189px,#ff5100)"></i><i style="background:linear-gradient(90deg,#ff6c00,#ff6000 13px,#ff3c00 37px,#ff0a00 58px,#ff0200 62px,#da0000 80px,#c70000 96px,#bd0000 110px,#bb0000 122px,#ca0000 143px,#d40000 151px,#f20000 165px,#ff0000 170px,#ff2a00 189px,#ff4d00)"></i><i style="background:linear-gradient(90deg,#ff6900,#ff5d00 13px,#ff3800 37px,#ff0700 58px,#fd0000 62px,#d80000 80px,#c50000 96px,#bc0000 110px,#ba0000 122px,#ca0000 143px,#d40000 151px,#f10000 165px,#fe0000 170px,#ff2800 189px,#ff4c00)"></i><i style="background:linear-gradient(90deg,#ff6600,#ff4800 26px,#ff3500 37px,#ff0400 58px,#fa0000 62px,#d50000 80px,#c30000 96px,#bb0000 110px,#ba0000 122px,#bf0000 132px,#d40000 151px,#f00000 165px,#fd0000 170px,#ff4b00)"></i><i style="background:linear-gradient(90deg,#ff6300,#ff4500 26px,#ff1800 48px,#ff0100 58px,#da0000 76px,#cc0000 84px,#c00000 99px,#ba0000 112px,#ba0000 124px,#cc0000 145px,#d70000 153px,#f50000 167px,#ff0200 172px,#ff4a00)"></i><i style="background:linear-gradient(90deg,#ff6000,#ff4200 26px,#ff1500 48px,#fd0000 58px,#d70000 76px,#ca0000 84px,#be0000 99px,#b90000 112px,#b90000 124px,#cc0000 145px,#e60000 161px,#ff0300 173px,#ff4900)"></i><i style="background:linear-gradient(90deg,#ff5e00,#ff3f00 26px,#ff2b00 37px,#ff1500 47px,#fd0000 57px,#d50000 76px,#c80000 84px,#bd0000 99px,#b90000 112px,#b90000 124px,#cc0000 145px,#e60000 161px,#ff0200 173px,#ff4900)"></i><i style="background:linear-gradient(90deg,#ff5c00,#ff3d00 26px,#ff1000 48px,#ff0400 53px,#fb0000 57px,#d30000 76px,#c60000 84px,#bd0000 99px,#b90000 112px,#b90000 124px,#cc0000 145px,#e60000 161px,#ff0200 173px,#ff4800)"></i><i style="background:linear-gradient(90deg,#ff5a00,#ff3b00 26px,#ff0e00 48px,#ff0300 53px,#da0000 72px,#cb0000 80px,#c10000 88px,#b80000 118px,#bc0000 129px,#d10000 149px,#ec0000 164px,#f70000 169px,#ff0300 174px,#ff4800)"></i><i style="background:linear-gradient(90deg,#ff5a00,#ff3a00 26px,#ff0d00 48px,#ff0200 53px,#d90000 72px,#ca0000 80px,#c00000 88px,#b80000 118px,#bb0000 129px,#d10000 149px,#ec0000 164px,#f70000 169px,#ff0300 174px,#ff4700)"></i><i style="background:linear-gradient(90deg,#ff5900,#ff4c00 13px,#ff2600 37px,#ff0f00 47px,#ff0400 52px,#fa0000 56px,#d30000 75px,#c50000 83px,#bc0000 98px,#b90000 125px,#cd0000 146px,#e50000 161px,#ff0100 173px,#ff4700)"></i><i style="background:linear-gradient(90deg,#ff5900,#ff4c00 13px,#ff2600 37px,#ff1000 47px,#ff0400 52px,#fa0000 56px,#d30000 75px,#c60000 83px,#bc0000 98px,#b90000 125px,#ce0000 146px,#e60000 161px,#ff0100 173px,#ff4800)"></i><i style="background:linear-gradient(90deg,#ff5900,#ff3a00 26px,#ff2700 37px,#ff1000 47px,#ff0500 52px,#fb0000 56px,#d40000 75px,#c70000 83px,#bd0000 98px,#bb0000 125px,#cf0000 146px,#e70000 161px,#ff0300 173px,#ff4900)"></i><i style="background:linear-gradient(90deg,#ff5900,#ff3a00 26px,#ff0f00 48px,#ff0300 53px,#dc0000 72px,#cd0000 80px,#c30000 88px,#bb0000 118px,#bf0000 129px,#d50000 149px,#f00000 164px,#fb0000 169px,#ff0700 174px,#ff4b00)"></i><i style="background:linear-gradient(90deg,#ff5900,#ff3b00 26px,#ff1000 48px,#ff0500 53px,#fb0000 57px,#d60000 76px,#c90000 84px,#bd0000 115px,#bf0000 126px,#d40000 146px,#ec0000 161px,#f90000 167px,#ff0500 172px,#ff4d00)"></i><i style="background:linear-gradient(90deg,#ff5900,#ff3b00 26px,#ff2900 37px,#ff1300 47px,#fd0000 57px,#d80000 76px,#cc0000 84px,#c40000 99px,#c00000 112px,#c10000 124px,#d60000 145px,#ef0000 161px,#fc0000 167px,#ff4f00)"></i><i style="background:linear-gradient(90deg,#ff5900,#ff3c00 26px,#ff1300 48px,#fd0000 58px,#db0000 76px,#cf0000 84px,#c60000 99px,#c50000 126px,#da0000 146px,#f20000 161px,#ff0000 167px,#ff5100)"></i><i style="background:linear-gradient(90deg,#ff5900,#ff3d00 26px,#ff1400 48px,#ff0000 58px,#dd0000 76px,#d10000 84px,#c60000 115px,#c80000 126px,#dd0000 146px,#f50000 161px,#ff0300 167px,#ff5400)"></i><i style="background:linear-gradient(90deg,#ff5900,#ff3d00 26px,#ff2c00 37px,#ff0200 58px,#e00000 76px,#d40000 84px,#c80000 115px,#ca0000 126px,#e00000 146px,#f80000 161px,#ff0600 167px,#ff5600)"></i><i style="background:linear-gradient(90deg,#ff5900,#ff3e00 26px,#ff1800 48px,#ff0400 58px,#f30000 67px,#d70000 84px,#cb0000 115px,#cd0000 126px,#e30000 146px,#fb0000 161px,#ff0800 167px,#ff5800)"></i><i style="background:linear-gradient(90deg,#ff5a00,#ff4000 26px,#ff1a00 48px,#ff0700 58px,#ff0000 62px,#e00000 80px,#d70000 88px,#ce0000 118px,#d30000 129px,#ea0000 149px,#f40000 156px,#ff0000 162px,#ff5900)"></i><i style="background:linear-gradient(90deg,#ff5b00,#ff4200 26px,#ff1d00 48px,#ff0a00 58px,#ff0300 62px,#f20000 71px,#db0000 88px,#d20000 118px,#d60000 129px,#ed0000 149px,#f70000 156px,#ff0300 162px,#ff5b00)"></i><i style="background:linear-gradient(90deg,#ff5d00,#ff4400 26px,#ff2000 48px,#ff0e00 58px,#fd0000 67px,#e20000 84px,#d60000 115px,#d80000 126px,#ec0000 146px,#f50000 153px,#ff0200 160px,#ff5d00)"></i><i style="background:linear-gradient(90deg,#ff5e00,#ff4600 26px,#ff3700 37px,#ff1100 58px,#ff0200 67px,#e70000 84px,#da0000 115px,#db0000 126px,#ef0000 146px,#f80000 153px,#ff0400 160px,#ff5f00)"></i><i style="background:linear-gradient(90deg,#ff6000,#ff4900 26px,#ff2700 48px,#ff0500 68px,#fa0000 74px,#ee0000 82px,#e30000 97px,#df0000 125px,#f20000 146px,#fa0000 153px,#ff0700 160px,#ff6100)"></i><i style="background:linear-gradient(90deg,#ff6200,#ff4c00 26px,#ff2b00 48px,#ff0900 68px,#fb0000 76px,#ea0000 92px,#e20000 121px,#f20000 143px,#fb0000 151px,#ff0600 158px,#ff6200)"></i><i style="background:linear-gradient(90deg,#ff6400,#ff4e00 26px,#ff2e00 48px,#ff0e00 68px,#ff0000 76px,#ef0000 92px,#e70000 121px,#ec0000 132px,#fe0000 151px,#ff1600 165px,#ff6400)"></i><i style="background:linear-gradient(90deg,#ff6600,#ff5100 26px,#ff3200 48px,#ff1200 68px,#ff0500 76px,#f90000 84px,#eb0000 115px,#ec0000 126px,#fc0000 146px,#ff0500 153px,#ff6600)"></i><i style="background:linear-gradient(90deg,#ff6800,#ff5400 26px,#ff3500 48px,#ff1600 68px,#fd0000 85px,#ef0000 116px,#f10000 127px,#ff0200 147px,#ff1600 162px,#ff4000 185px,#ff6800)"></i><i style="background:linear-gradient(90deg,#ff6a00,#ff5600 26px,#ff3900 48px,#ff1a00 68px,#ff0300 85px,#f40000 116px,#f50000 127px,#fc0000 137px,#ff0400 146px,#ff1800 161px,#ff6a00)"></i><i style="background:linear-gradient(90deg,#ff6c00,#ff5900 26px,#ff3c00 48px,#ff1f00 68px,#ff0800 85px,#fe0000 100px,#f90000 113px,#f90000 125px,#fe0000 135px,#ff0f00 153px,#ff6c00)"></i><i style="background:linear-gradient(90deg,#ff6e00,#ff5c00 26px,#ff4000 48px,#ff2300 68px,#ff0d00 85px,#ff0300 100px,#fe0000 127px,#ff0d00 147px,#ff2000 162px,#ff6e00)"></i><i style="background:linear-gradient(90deg,#ff7000,#ff5f00 26px,#ff4400 48px,#ff0f00 88px,#ff0300 118px,#ff0c00 140px,#ff1c00 157px,#ff7000)"></i><i style="background:linear-gradient(90deg,#ff7200,#ff6200 26px,#ff4800 48px,#ff2c00 68px,#ff1700 85px,#ff0800 116px,#ff0f00 139px,#ff1e00 156px,#ff7200)"></i><i style="background:linear-gradient(90deg,#ff7400,#ff6500 26px,#ff4b00 48px,#ff1a00 88px,#ff0d00 118px,#ff1500 140px,#ff2300 157px,#ff7500)"></i><i style="background:linear-gradient(90deg,#ff7700,#ff6800 26px,#ff3200 71px,#ff1f00 88px,#ff1200 118px,#ff1900 140px,#ff2700 157px,#ff7700)"></i></div>
<div class="f" style="left:305px;top:216px;width:209px;height:171px"><i style="background:linear-gradient(90deg,#002eff,#0014ff 26px,#0005ff 37px,#0000fb 42px,#0000df 62px,#0000d0 80px,#0000cd 112px,#0000ce 124px,#0000f9 166px,#0003ff 176px,#0015ff)"></i><i style="background:linear-gradient(90deg,#002fff,#0014ff 26px,#0005ff 37px,#0000fc 42px,#0000eb 52px,#0000d7 71px,#0000cd 88px,#0000cd 118px,#0000d2 129px,#0000fc 169px,#0016ff)"></i><i style="background:linear-gradient(90deg,#002fff,#0014ff 26px,#0005ff 37px,#0000fc 42px,#0000e0 62px,#0000d0 80px,#0000cd 112px,#0000cf 124px,#0000f9 166px,#0004ff 176px,#0016ff)"></i><i style="background:linear-gradient(90deg,#0030ff,#0015ff 26px,#0006ff 37px,#0000fc 42px,#0000e1 62px,#0000d0 80px,#0000ce 112px,#0000cf 124px,#0000f9 166px,#0004ff 176px,#0016ff)"></i><i style="background:linear-gradient(90deg,#0031ff,#0015ff 26px,#0006ff 37px,#0000fd 42px,#0000e1 62px,#0000d1 80px,#0000ce 112px,#0000cf 124px,#0000fa 166px,#0005ff 176px,#0016ff)"></i><i style="background:linear-gradient(90deg,#0032ff,#0015ff 26px,#0006ff 37px,#0000fd 42px,#0000e2 62px,#0000d1 80px,#0000ce 112px,#0000d0 124px,#0000fa 166px,#0005ff 176px,#0016ff)"></i><i style="background:linear-gradient(90deg,#0032ff,#0016ff 26px,#0007ff 37px,#0000fe 42px,#0000e3 62px,#0000d2 80px,#0000cf 112px,#0000d0 124px,#0000fa 166px,#0005ff 176px,#0017ff)"></i><i style="background:linear-gradient(90deg,#0033ff,#0017ff 26px,#0008ff 37px,#0000ff 42px,#0000e3 62px,#0000d2 80px,#0000cf 112px,#0000d1 124px,#0000fb 166px,#0006ff 176px,#0017ff)"></i><i style="background:linear-gradient(90deg,#0034ff,#0017ff 26px,#0008ff 37px,#0000ff 42px,#0000e4 62px,#0000d3 80px,#0000d0 112px,#0000d1 124px,#0000fb 166px,#0006ff 176px,#0017ff)"></i><i style="background:linear-gradient(90deg,#0035ff,#0018ff 26px,#0009ff 37px,#0001ff 42px,#0000e5 62px,#0000d3 80px,#0000d0 112px,#0000d1 124px,#0000fb 166px,#0007ff 176px,#0017ff)"></i><i style="background:linear-gradient(90deg,#0036ff,#0019ff 26px,#000aff 37px,#0002ff 42px,#0000e6 62px,#0000d4 80px,#0000d1 112px,#0000d2 124px,#0000fc 166px,#000eff 187px,#0018ff)"></i><i style="background:linear-gradient(90deg,#0037ff,#0019ff 26px,#000aff 37px,#0003ff 42px,#0000e7 62px,#0000d5 80px,#0000d1 96px,#0000d3 124px,#0000fc 166px,#000fff 187px,#0018ff)"></i><i style="background:linear-gradient(90deg,#0038ff,#001aff 26px,#000bff 37px,#0000fb 47px,#0000e2 67px,#0000d3 84px,#0000d2 115px,#0000d4 126px,#0000fe 167px,#0010ff 188px,#0018ff)"></i><i style="background:linear-gradient(90deg,#0038ff,#001bff 26px,#000cff 37px,#0000fc 47px,#0000e3 67px,#0000d4 84px,#0000d3 115px,#0000d5 126px,#0000fe 167px,#0010ff 188px,#0018ff)"></i><i style="background:linear-gradient(90deg,#0039ff,#001cff 26px,#000dff 37px,#0000fd 47px,#0000e4 67px,#0000d4 84px,#0000d3 115px,#0000d5 126px,#0000ff 167px,#0010ff 188px,#0019ff)"></i><i style="background:linear-gradient(90deg,#003aff,#001dff 26px,#0000fc 48px,#0000e4 68px,#0000d5 85px,#0000d4 116px,#0000d7 127px,#0001ff 168px,#0011ff 188px,#0019ff)"></i><i style="background:linear-gradient(90deg,#003bff,#001dff 26px,#0000fd 48px,#0000e5 68px,#0000d5 85px,#0000d5 116px,#0000d7 127px,#0002ff 168px,#0011ff 188px,#0019ff)"></i><i style="background:linear-gradient(90deg,#003cff,#001eff 26px,#0000ff 48px,#0000e6 68px,#0000d6 85px,#0000d5 116px,#0000d8 127px,#0002ff 168px,#0011ff 188px,#001aff)"></i><i style="background:linear-gradient(90deg,#003dff,#001fff 26px,#0001ff 48px,#0000e7 68px,#0000d7 85px,#0000d6 116px,#0000d9 127px,#0003ff 168px,#0012ff 188px,#001aff)"></i><i style="background:linear-gradient(90deg,#003eff,#0020ff 26px,#0002ff 48px,#0000e8 68px,#0000d8 85px,#0000d7 116px,#0000da 127px,#0003ff 168px,#0012ff 188px,#001aff)"></i><i style="background:linear-gradient(90deg,#003fff,#0000fd 52px,#0000e5 71px,#0000d8 88px,#0000d8 118px,#0000dc 129px,#0000ee 149px,#0000fe 164px,#0011ff 186px,#001aff)"></i><i style="background:linear-gradient(90deg,#0041ff,#0000fe 52px,#0000e7 71px,#0000d9 88px,#0000d9 118px,#0000dd 129px,#0000ef 149px,#0000ff 164px,#0012ff 186px,#001bff)"></i><i style="background:linear-gradient(90deg,#0042ff,#0024ff 26px,#0006ff 48px,#0000f8 58px,#0000e2 76px,#0000da 92px,#0000da 121px,#0000ea 143px,#0000f9 159px,#0001ff 165px,#0013ff 187px,#001bff)"></i><i style="background:linear-gradient(90deg,#0043ff,#0026ff 26px,#0008ff 48px,#0001ff 53px,#0000e8 72px,#0000db 89px,#0000db 119px,#0000df 130px,#0000f0 149px,#0001ff 164px,#0013ff 186px,#001bff)"></i><i style="background:linear-gradient(90deg,#0044ff,#0027ff 26px,#0009ff 48px,#0000fb 58px,#0000e5 76px,#0000dc 92px,#0000dc 121px,#0000ec 143px,#0000fb 159px,#0009ff 171px,#001cff)"></i><i style="background:linear-gradient(90deg,#0045ff,#0029ff 26px,#000bff 48px,#0000fd 58px,#0000e6 76px,#0000de 92px,#0000dd 121px,#0003ff 165px,#0014ff 187px,#001cff)"></i><i style="background:linear-gradient(90deg,#0047ff,#002bff 26px,#000dff 48px,#0000fe 58px,#0000e8 76px,#0000df 92px,#0000df 121px,#0000ed 143px,#0000fc 159px,#0013ff 184px,#001dff)"></i><i style="background:linear-gradient(90deg,#0048ff,#002cff 26px,#000eff 48px,#0001ff 58px,#0000e9 76px,#0000e1 92px,#0000e0 121px,#0000ee 143px,#0000fd 159px,#0013ff 184px,#001dff)"></i><i style="background:linear-gradient(90deg,#0049ff,#002eff 26px,#0010ff 48px,#0003ff 58px,#0000eb 76px,#0000e2 92px,#0000e1 121px,#0000ef 143px,#0000fe 159px,#0014ff 184px,#001dff)"></i><i style="background:linear-gradient(90deg,#004aff,#0030ff 26px,#0012ff 48px,#0004ff 58px,#0000f8 67px,#0000e6 84px,#0000e2 115px,#0000ec 138px,#0000fa 155px,#0001ff 161px,#0015ff 185px,#001eff)"></i><i style="background:linear-gradient(90deg,#004cff,#0032ff 26px,#0014ff 48px,#0006ff 58px,#0000fa 67px,#0000e7 84px,#0000e4 115px,#0000e6 126px,#0000f4 146px,#0002ff 161px,#0015ff 185px,#001eff)"></i><i style="background:linear-gradient(90deg,#004dff,#0033ff 26px,#0015ff 48px,#0008ff 58px,#0000fb 67px,#0000e9 84px,#0000e5 115px,#0000e7 126px,#0000f5 146px,#0003ff 161px,#0016ff 185px,#001eff)"></i><i style="background:linear-gradient(90deg,#004eff,#0035ff 26px,#0017ff 48px,#0000fc 68px,#0000ea 85px,#0000e7 116px,#0000e9 127px,#0000f7 147px,#0000fc 154px,#0014ff 181px,#001fff)"></i><i style="background:linear-gradient(90deg,#004fff,#0037ff 26px,#0019ff 48px,#0000fd 68px,#0000eb 85px,#0000e8 116px,#0000f2 139px,#0000ff 156px,#0015ff 182px,#001fff)"></i><i style="background:linear-gradient(90deg,#0051ff,#0038ff 26px,#001bff 48px,#0000ff 68px,#0000ed 85px,#0000ea 116px,#0000ec 127px,#0000f9 147px,#0000fe 154px,#0015ff 181px,#0020ff)"></i><i style="background:linear-gradient(90deg,#0052ff,#003aff 26px,#0000fd 71px,#0000ee 88px,#0000eb 118px,#0000f5 140px,#0003ff 157px,#0017ff 183px,#0020ff)"></i><i style="background:linear-gradient(90deg,#0053ff,#003bff 26px,#0000ff 71px,#0000ef 88px,#0000ed 118px,#0000f6 140px,#0000fc 148px,#0009ff 163px,#0019ff 186px,#0021ff)"></i><i style="background:linear-gradient(90deg,#0054ff,#003dff 26px,#0002ff 71px,#0000f1 88px,#0000ee 118px,#0000f8 140px,#0000fd 148px,#0015ff 178px,#0021ff)"></i><i style="background:linear-gradient(90deg,#0055ff,#003eff 26px,#0003ff 71px,#0000f3 88px,#0000f0 118px,#0000f9 140px,#0000fe 148px,#0016ff 178px,#0022ff)"></i><i style="background:linear-gradient(90deg,#0056ff,#0040ff 26px,#0005ff 71px,#0000fb 79px,#0000f3 95px,#0000f2 123px,#0000fd 144px,#0016ff 176px,#0022ff)"></i><i style="background:linear-gradient(90deg,#0057ff,#0042ff 26px,#0007ff 71px,#0000fd 79px,#0000f5 95px,#0000f4 123px,#0000ff 144px,#0017ff 176px,#0023ff)"></i><i style="background:linear-gradient(90deg,#0059ff,#0043ff 26px,#0009ff 71px,#0000ff 79px,#0000f7 95px,#0000f6 123px,#0001ff 144px,#0018ff 176px,#0024ff)"></i><i style="background:linear-gradient(90deg,#005aff,#0045ff 26px,#000bff 71px,#0002ff 79px,#0000f7 111px,#0000fd 135px,#0008ff 153px,#001bff 181px,#0024ff)"></i><i style="background:linear-gradient(90deg,#005bff,#0046ff 26px,#000dff 71px,#0004ff 79px,#0000fb 95px,#0000fa 123px,#0004ff 144px,#0019ff 176px,#0025ff)"></i><i style="background:linear-gradient(90deg,#005cff,#0048ff 26px,#000fff 71px,#0000fe 88px,#0000fb 118px,#0004ff 140px,#0019ff 174px,#0025ff)"></i><i style="background:linear-gradient(90deg,#005dff,#0049ff 26px,#0012ff 71px,#0002ff 88px,#0000fd 118px,#0005ff 140px,#001aff 174px,#0026ff)"></i><i style="background:linear-gradient(90deg,#005eff,#004bff 26px,#0014ff 71px,#0004ff 88px,#0000ff 118px,#0007ff 140px,#001bff 174px,#0027ff)"></i><i style="background:linear-gradient(90deg,#0060ff,#004dff 26px,#0016ff 71px,#0006ff 88px,#0002ff 118px,#0015ff 163px,#0021ff 186px,#0027ff)"></i><i style="background:linear-gradient(90deg,#0061ff,#004eff 26px,#0018ff 71px,#0008ff 88px,#0004ff 118px,#0016ff 163px,#0021ff 186px,#0027ff)"></i><i style="background:linear-gradient(90deg,#0062ff,#0050ff 26px,#001bff 71px,#000bff 88px,#0007ff 118px,#0017ff 163px,#0028ff)"></i><i style="background:linear-gradient(90deg,#0064ff,#0052ff 26px,#001dff 71px,#000dff 88px,#0009ff 118px,#0028ff)"></i><i style="background:linear-gradient(90deg,#0065ff,#0054ff 26px,#001fff 71px,#0010ff 88px,#000bff 118px,#0028ff)"></i><i style="background:linear-gradient(90deg,#0066ff,#0056ff 26px,#0022ff 71px,#0012ff 88px,#000eff 118px,#0028ff)"></i><i style="background:linear-gradient(90deg,#0068ff,#0057ff 26px,#0025ff 71px,#0015ff 88px,#0010ff 118px,#0028ff)"></i><i style="background:linear-gradient(90deg,#006aff,#0059ff 26px,#0028ff 71px,#0018ff 88px,#0013ff 118px,#0028ff)"></i><i style="background:linear-gradient(90deg,#006cff,#005bff 26px,#002bff 71px,#001cff 88px,#0016ff 118px,#0027ff)"></i><i style="background:linear-gradient(90deg,#006dff,#005dff 26px,#002eff 71px,#001fff 88px,#0019ff 118px,#0027ff)"></i><i style="background:linear-gradient(90deg,#006fff,#005fff 26px,#0031ff 71px,#0022ff 88px,#001cff 118px,#0027ff)"></i><i style="background:linear-gradient(90deg,#0071ff,#0061ff 26px,#0034ff 71px,#0026ff 88px,#001fff 118px,#0027ff)"></i><i style="background:linear-gradient(90deg,#0073ff,#0064ff 26px,#0037ff 71px,#002aff 88px,#0023ff 118px,#0023ff 163px,#0027ff)"></i><i style="background:linear-gradient(90deg,#0075ff,#0066ff 26px,#003bff 71px,#002dff 88px,#0026ff 118px,#0024ff 163px,#0026ff)"></i><i style="background:linear-gradient(90deg,#0077ff,#0068ff 26px,#003eff 71px,#0031ff 88px,#0026ff 148px,#0026ff)"></i><i style="background:linear-gradient(90deg,#0079ff,#006aff 26px,#0041ff 71px,#0035ff 88px,#0028ff 148px,#0023ff 178px,#0026ff)"></i><i style="background:linear-gradient(90deg,#007bff,#006cff 26px,#0045ff 71px,#0038ff 88px,#002aff 148px,#0023ff 178px,#0025ff)"></i><i style="background:linear-gradient(90deg,#007dff,#006eff 26px,#0048ff 71px,#003cff 88px,#002cff 148px,#0023ff 178px,#0025ff)"></i><i style="background:linear-gradient(90deg,#007fff,#0071ff 26px,#004bff 71px,#003fff 88px,#002dff 148px,#0024ff 178px,#0025ff)"></i><i style="background:linear-gradient(90deg,#0081ff,#0073ff 26px,#004eff 71px,#003dff 105px,#002bff 157px,#0024ff 183px,#0024ff)"></i><i style="background:linear-gradient(90deg,#0083ff,#0075ff 26px,#0051ff 71px,#0040ff 105px,#002cff 157px,#0026ff 170px,#0024ff)"></i><i style="background:linear-gradient(90deg,#0085ff,#0078ff 26px,#0054ff 71px,#0042ff 105px,#002dff 157px,#0026ff 170px,#0024ff)"></i><i style="background:linear-gradient(90deg,#0087ff,#007aff 26px,#0056ff 71px,#0045ff 105px,#002eff 157px,#0026ff 170px,#0023ff)"></i><i style="background:linear-gradient(90deg,#0089ff,#007cff 26px,#0059ff 71px,#0048ff 105px,#002fff 157px,#0025ff 170px,#0023ff)"></i><i style="background:linear-gradient(90deg,#008cff,#007fff 26px,#005cff 71px,#004aff 105px,#0040ff 131px,#0025ff 170px,#0022ff)"></i><i style="background:linear-gradient(90deg,#008eff,#0081ff 26px,#005eff 71px,#004dff 105px,#0043ff 131px,#0025ff 170px,#0022ff)"></i><i style="background:linear-gradient(90deg,#0090ff,#0084ff 26px,#0061ff 71px,#004fff 105px,#0046ff 131px,#0025ff 170px,#0021ff)"></i><i style="background:linear-gradient(90deg,#0092ff,#0086ff 26px,#0063ff 71px,#0042ff 140px,#0022ff 174px,#0021ff)"></i><i style="background:linear-gradient(90deg,#0094ff,#0089ff 26px,#0066ff 71px,#0054ff 105px,#004aff 131px,#003bff 150px,#0029ff 164px,#0021ff 175px,#0020ff)"></i><i style="background:linear-gradient(90deg,#0096ff,#008bff 26px,#0068ff 71px,#0057ff 105px,#004dff 131px,#003dff 150px,#0029ff 164px,#0020ff 175px,#001fff)"></i><i style="background:linear-gradient(90deg,#0098ff,#008eff 26px,#006bff 71px,#005fff 88px,#0054ff 118px,#0047ff 140px,#0020ff 174px,#001eff)"></i><i style="background:linear-gradient(90deg,#009aff,#0090ff 26px,#006dff 71px,#005bff 105px,#0050ff 131px,#003fff 150px,#0029ff 164px,#001fff 175px,#001dff)"></i><i style="background:linear-gradient(90deg,#009cff,#0093ff 26px,#006fff 71px,#005dff 105px,#0052ff 131px,#0040ff 150px,#0029ff 164px,#001eff 175px,#001cff)"></i><i style="background:linear-gradient(90deg,#009eff,#0095ff 26px,#0072ff 71px,#0066ff 88px,#005aff 118px,#004bff 140px,#001dff 174px,#001bff)"></i><i style="background:linear-gradient(90deg,#00a1ff,#0098ff 26px,#0074ff 71px,#0061ff 105px,#0054ff 131px,#0040ff 150px,#0029ff 164px,#001bff 175px,#001aff)"></i><i style="background:linear-gradient(90deg,#00a3ff,#009aff 26px,#0077ff 71px,#006aff 88px,#005eff 118px,#004bff 140px,#0035ff 157px,#001fff 170px,#0019ff 179px,#0019ff)"></i><i style="background:linear-gradient(90deg,#00a5ff,#009dff 26px,#0079ff 71px,#0065ff 105px,#005fff 118px,#004bff 140px,#0035ff 157px,#001dff 170px,#0017ff 179px,#0017ff)"></i><i style="background:linear-gradient(90deg,#00a7ff,#00a0ff 26px,#007cff 71px,#006eff 88px,#0061ff 118px,#004aff 140px,#0033ff 157px,#001bff 170px,#0014ff 179px,#0015ff)"></i><i style="background:linear-gradient(90deg,#00a9ff,#00a2ff 26px,#0092ff 48px,#0071ff 88px,#0062ff 118px,#0049ff 140px,#0031ff 157px,#0018ff 170px,#0011ff 179px,#0013ff)"></i><i style="background:linear-gradient(90deg,#00abff,#00a5ff 26px,#0095ff 48px,#0073ff 88px,#0063ff 118px,#0048ff 140px,#002eff 157px,#0014ff 170px,#000dff 179px,#0010ff)"></i><i style="background:linear-gradient(90deg,#00aeff,#00a7ff 26px,#0098ff 48px,#0075ff 88px,#0064ff 118px,#0058ff 129px,#003aff 149px,#001cff 164px,#000aff 175px,#000dff)"></i><i style="background:linear-gradient(90deg,#00b0ff,#00aaff 26px,#009bff 48px,#0076ff 88px,#0066ff 118px,#0058ff 129px,#0037ff 149px,#0018ff 164px,#0006ff 175px,#0009ff)"></i><i style="background:linear-gradient(90deg,#00b2ff,#00adff 26px,#009dff 48px,#0078ff 88px,#0067ff 118px,#0059ff 129px,#0034ff 149px,#0014ff 164px,#0002ff 175px,#0001ff 192px,#0006ff)"></i><i style="background:linear-gradient(90deg,#00b4ff,#00afff 26px,#00a0ff 48px,#007aff 88px,#0068ff 118px,#0059ff 129px,#0006ff 169px,#0000fe 174px,#0000fc 191px,#0004ff)"></i><i style="background:linear-gradient(90deg,#00b6ff,#00b1ff 26px,#00a3ff 48px,#007cff 88px,#0069ff 118px,#0059ff 129px,#0002ff 169px,#0000f8 179px,#0001ff)"></i><i style="background:linear-gradient(90deg,#00b9ff,#00b4ff 26px,#00a5ff 48px,#007eff 88px,#006aff 118px,#0059ff 129px,#0000ff 169px,#0000f6 179px,#0000f7 194px,#0000fe)"></i><i style="background:linear-gradient(90deg,#00bbff,#00b6ff 26px,#00a7ff 48px,#0080ff 88px,#006bff 118px,#0059ff 129px,#002bff 149px,#0007ff 164px,#0000fc 169px,#0000f4 179px,#0000f5 194px,#0000fc)"></i><i style="background:linear-gradient(90deg,#00bdff,#00b8ff 26px,#00aaff 48px,#0082ff 88px,#006cff 118px,#0059ff 129px,#0028ff 149px,#0005ff 164px,#0000fa 169px,#0000f1 179px,#0000f3 194px,#0000fa)"></i><i style="background:linear-gradient(90deg,#00bfff,#00baff 26px,#00acff 48px,#0085ff 88px,#006cff 118px,#0059ff 129px,#0026ff 149px,#0002ff 164px,#0000f0 175px,#0000f0 192px,#0000f8)"></i><i style="background:linear-gradient(90deg,#00c1ff,#00bcff 26px,#00aeff 48px,#0087ff 88px,#006dff 118px,#0058ff 129px,#0023ff 149px,#0000ff 164px,#0000ee 175px,#0000ee 192px,#0000f6)"></i><i style="background:linear-gradient(90deg,#00c4ff,#00beff 26px,#00b0ff 48px,#0089ff 88px,#006eff 118px,#0058ff 129px,#0020ff 149px,#0000fc 164px,#0000ec 175px,#0000ec 192px,#0000f5)"></i><i style="background:linear-gradient(90deg,#00c6ff,#00c0ff 26px,#00b2ff 48px,#008bff 88px,#006eff 118px,#0058ff 129px,#001eff 149px,#000eff 156px,#0000ff 162px,#0000ec 173px,#0000ea 191px,#0000f3)"></i><i style="background:linear-gradient(90deg,#00c8ff,#00c2ff 26px,#00b5ff 48px,#008dff 88px,#006fff 118px,#0058ff 129px,#001cff 149px,#000cff 156px,#0000fd 162px,#0000ea 173px,#0000e9 191px,#0000f2)"></i><i style="background:linear-gradient(90deg,#00caff,#00c4ff 26px,#00b7ff 48px,#008fff 88px,#0070ff 118px,#0057ff 129px,#001aff 149px,#000aff 156px,#0000fb 162px,#0000e9 173px,#0000e7 191px,#0000f1)"></i><i style="background:linear-gradient(90deg,#00ccff,#00c6ff 26px,#00b9ff 48px,#0091ff 88px,#0071ff 118px,#0057ff 129px,#0035ff 139px,#0009ff 156px,#0000fc 161px,#0000e8 173px,#0000e7 191px,#0000f0)"></i><i style="background:linear-gradient(90deg,#00cfff,#00c8ff 26px,#00bbff 48px,#0093ff 88px,#0072ff 118px,#0057ff 129px,#0035ff 139px,#001dff 147px,#000dff 154px,#0000fe 160px,#0000e9 172px,#0000e6 190px,#0000f0)"></i><i style="background:linear-gradient(90deg,#00d1ff,#00caff 26px,#00beff 48px,#0095ff 88px,#0074ff 118px,#0058ff 129px,#0035ff 139px,#001dff 147px,#000dff 154px,#0000ff 160px,#0000ea 172px,#0000e6 181px,#0000e8 195px,#0000f0)"></i><i style="background:linear-gradient(90deg,#00d3ff,#00ccff 26px,#00c0ff 48px,#00aeff 68px,#0088ff 103px,#0079ff 116px,#0060ff 127px,#001fff 147px,#000fff 154px,#0001ff 160px,#0000ec 172px,#0000e8 181px,#0000ea 195px,#0000f2)"></i><i style="background:linear-gradient(90deg,#00d5ff,#00cfff 26px,#00c2ff 48px,#00b0ff 68px,#008aff 103px,#007bff 116px,#0073ff 121px,#002cff 143px,#0006ff 159px,#0000f9 165px,#0000ec 176px,#0000ec 192px,#0000f4)"></i><i style="background:linear-gradient(90deg,#00d7ff,#00d1ff 26px,#00c5ff 48px,#00b3ff 68px,#009dff 85px,#007eff 116px,#0076ff 121px,#0030ff 143px,#000aff 159px,#0000fd 165px,#0000f0 176px,#0000f1 192px,#0000f7)"></i><i style="background:linear-gradient(90deg,#00daff,#00d4ff 26px,#00c7ff 48px,#00b5ff 68px,#009fff 85px,#0081ff 116px,#0079ff 121px,#0058ff 132px,#003aff 141px,#0024ff 149px,#0005ff 164px,#0000fc 169px,#0000f6 179px,#0000fb)"></i><i style="background:linear-gradient(90deg,#00dcff,#00d6ff 26px,#00caff 48px,#00b7ff 68px,#00a1ff 85px,#0084ff 116px,#007dff 121px,#005dff 132px,#003eff 141px,#0016ff 158px,#0002ff 170px,#0000fc 189px,#0001ff)"></i><i style="background:linear-gradient(90deg,#00deff,#00d8ff 26px,#00ccff 48px,#00b9ff 68px,#00a3ff 85px,#0087ff 116px,#0080ff 121px,#0061ff 132px,#0043ff 141px,#002eff 149px,#0011ff 164px,#0004ff 175px,#0006ff)"></i><i style="background:linear-gradient(90deg,#00e0ff,#00dbff 26px,#00cfff 48px,#00bcff 68px,#00a5ff 85px,#008bff 116px,#0075ff 127px,#0037ff 147px,#001aff 162px,#000cff 173px,#000bff)"></i><i style="background:linear-gradient(90deg,#00e2ff,#00ddff 26px,#00d1ff 48px,#00beff 68px,#00a7ff 85px,#008eff 116px,#0079ff 127px,#003cff 147px,#0021ff 162px,#0013ff 173px,#0011ff)"></i><i style="background:linear-gradient(90deg,#00e4ff,#00dfff 26px,#00d4ff 48px,#00c0ff 68px,#00aaff 85px,#0091ff 116px,#008bff 121px,#006eff 132px,#0052ff 141px,#002fff 158px,#001eff 170px,#001aff 189px,#0019ff)"></i><i style="background:linear-gradient(90deg,#00e5ff,#00e2ff 26px,#00d6ff 48px,#00c3ff 68px,#00acff 85px,#0094ff 116px,#0082ff 127px,#004cff 147px,#0033ff 162px,#0027ff 173px,#0024ff)"></i><i style="background:linear-gradient(90deg,#00e7ff,#00e4ff 26px,#00d8ff 48px,#00c5ff 68px,#00afff 85px,#0098ff 116px,#0086ff 127px,#0056ff 147px,#003fff 162px,#0033ff 173px,#0032ff)"></i><i style="background:linear-gradient(90deg,#00e8ff,#00e6ff 26px,#00dbff 48px,#00afff 88px,#0099ff 118px,#0087ff 129px,#005eff 149px,#0049ff 164px,#0040ff 175px,#0040ff)"></i><i style="background:linear-gradient(90deg,#00eaff,#00e8ff 26px,#00ddff 48px,#00b2ff 88px,#009dff 118px,#008dff 129px,#0069ff 149px,#0056ff 164px,#004eff 175px,#004fff)"></i><i style="background:linear-gradient(90deg,#00ebff,#00eaff 26px,#00e8ff 37px,#00d6ff 58px,#00b0ff 95px,#009bff 123px,#007aff 144px,#0067ff 160px,#005dff 172px,#005eff)"></i><i style="background:linear-gradient(90deg,#00edff,#00edff 26px,#00ebff 37px,#00c1ff 80px,#00a9ff 112px,#0073ff 160px,#0069ff 172px,#006bff)"></i><i style="background:linear-gradient(90deg,#00efff,#00efff 26px,#00edff 37px,#00c5ff 80px,#00acff 112px,#007dff 160px,#0074ff 172px,#0077ff)"></i><i style="background:linear-gradient(90deg,#00f1ff,#00f1ff 26px,#00efff 37px,#00dfff 58px,#00bbff 95px,#00a7ff 123px,#0080ff 166px,#007cff 187px,#007fff)"></i><i style="background:linear-gradient(90deg,#00f4ff,#00f4ff 26px,#00f2ff 37px,#00ccff 80px,#0098ff 144px,#0084ff 176px,#0087ff)"></i><i style="background:linear-gradient(90deg,#00f6ff,#00f6ff 26px,#00edff 48px,#00c8ff 88px,#009bff 148px,#0090ff 163px,#008bff 186px,#008eff)"></i><i style="background:linear-gradient(90deg,#00f9ff,#00f8ff 26px,#00efff 48px,#00aeff 128px,#0094ff 168px,#0094ff)"></i><i style="background:linear-gradient(90deg,#00fcff,#00faff 26px,#00f2ff 48px,#00b2ff 128px,#009aff 168px,#009aff)"></i><i style="background:linear-gradient(90deg,#00ffff,#00fdff 26px,#00f5ff 48px,#00b6ff 128px,#00a1ff 168px,#00a0ff)"></i><i style="background:linear-gradient(90deg,#03fffc,#00ffff 26px,#00f8ff 48px,#00ecff 68px,#00ceff 103px,#00baff 129px,#00a7ff 169px,#00a7ff)"></i><i style="background:linear-gradient(90deg,#06fff9,#03fffc 26px,#00fcff 48px,#00e1ff 88px,#00c7ff 118px,#00b1ff 163px,#00afff)"></i><i style="background:linear-gradient(90deg,#0afff5,#00feff 52px,#00e5ff 91px,#00cbff 120px,#00baff 164px,#00b8ff)"></i><i style="background:linear-gradient(90deg,#0dfff2,#04fffb 52px,#00faff 71px,#00efff 88px,#00d4ff 118px,#00c5ff 163px,#00c3ff)"></i><i style="background:linear-gradient(90deg,#11ffee,#09fff6 52px,#03fffc 71px,#00f8ff 88px,#00deff 118px,#00d2ff 163px,#00d0ff)"></i><i style="background:linear-gradient(90deg,#16ffe9,#0ffff0 52px,#01fffe 91px,#00e9ff 120px,#00e1ff 164px,#00dfff)"></i><i style="background:linear-gradient(90deg,#1affe5,#16ffe9 52px,#0cfff3 91px,#01fffe 105px,#00f3ff 131px,#00eeff)"></i><i style="background:linear-gradient(90deg,#1effe1,#1dffe2 52px,#18ffe7 91px,#06fff9 120px,#01fffe 142px,#00ffff)"></i><i style="background:linear-gradient(90deg,#23ffdc,#24ffdb 52px,#24ffdb 91px,#14ffeb 120px,#13ffec 164px,#15ffea 186px,#10ffef)"></i><i style="background:linear-gradient(90deg,#28ffd7,#27ffd8 26px,#2fffd0 71px,#31ffce 88px,#24ffdb 118px,#24ffdb 163px,#26ffd9 186px,#21ffde)"></i><i style="background:linear-gradient(90deg,#2cffd3,#2cffd3 26px,#39ffc6 71px,#3effc1 88px,#33ffcc 118px,#35ffca 163px,#38ffc7 186px,#32ffcd)"></i><i style="background:linear-gradient(90deg,#31ffce,#31ffce 26px,#38ffc7 48px,#4bffb4 88px,#42ffbd 118px,#46ffb9 163px,#49ffb6 186px,#43ffbc)"></i><i style="background:linear-gradient(90deg,#35ffca,#37ffc8 26px,#3fffc0 48px,#59ffa6 88px,#52ffad 118px,#58ffa7 163px,#5bffa4 186px,#54ffab)"></i><i style="background:linear-gradient(90deg,#3affc5,#3dffc2 26px,#47ffb8 48px,#69ff96 88px,#63ff9c 118px,#6bff94 163px,#6dff92 186px,#66ff99)"></i><i style="background:linear-gradient(90deg,#3fffc0,#44ffbb 26px,#50ffaf 48px,#79ff86 88px,#75ff8a 118px,#7fff80 163px,#80ff7f 186px,#79ff86)"></i><i style="background:linear-gradient(90deg,#44ffbb,#4affb5 26px,#58ffa7 48px,#6fff90 68px,#88ff77 85px,#88ff77 116px,#92ff6d 162px,#93ff6c 185px,#8bff74)"></i><i style="background:linear-gradient(90deg,#48ffb7,#51ffae 26px,#61ff9e 48px,#6cff93 58px,#79ff86 67px,#97ff68 84px,#9bff64 99px,#9dff62 126px,#a4ff5b 146px,#a7ff58 177px,#9eff61)"></i><i style="background:linear-gradient(90deg,#4dffb2,#58ffa7 26px,#6aff95 48px,#75ff8a 58px,#99ff66 76px,#a7ff58 84px,#acff53 99px,#afff50 126px,#b8ff47 146px,#baff45 177px,#b0ff4f)"></i><i style="background:linear-gradient(90deg,#52ffad,#5effa1 26px,#72ff8d 48px,#7fff80 58px,#90ff6f 67px,#b6ff49 84px,#bcff43 99px,#c1ff3e 126px,#cbff34 146px,#ccff33 177px,#c2ff3d)"></i><i style="background:linear-gradient(90deg,#57ffa8,#65ff9a 26px,#7bff84 48px,#89ff76 58px,#9bff64 67px,#c3ff3c 84px,#cbff34 99px,#d2ff2d 126px,#ddff22 146px,#ddff22 177px,#d3ff2c)"></i><i style="background:linear-gradient(90deg,#5cffa3,#6cff93 26px,#83ff7c 48px,#92ff6d 58px,#a5ff5a 67px,#d0ff2f 84px,#d9ff26 99px,#e2ff1d 126px,#eeff11 146px,#eeff11 177px,#e4ff1b)"></i><i style="background:linear-gradient(90deg,#61ff9e,#72ff8d 26px,#8cff73 48px,#9cff63 58px,#afff50 67px,#dcff23 84px,#e7ff18 99px,#f3ff0c 126px,#ffff00 146px,#ffff00 177px,#f4ff0b)"></i><i style="background:linear-gradient(90deg,#67ff98,#79ff86 26px,#95ff6a 48px,#a5ff5a 58px,#baff45 67px,#e7ff18 84px,#f5ff0a 99px,#fbff04 112px,#fffd00 124px,#ffef00 145px,#ffef00 177px,#fff900)"></i><i style="background:linear-gradient(90deg,#6cff93,#80ff7f 26px,#9dff62 48px,#afff50 58px,#c4ff3b 67px,#f3ff0c 84px,#fcff03 91px,#fff000 120px,#ffe000 142px,#ffdf00 175px,#ffe100 192px,#ffe900)"></i><i style="background:linear-gradient(90deg,#71ff8e,#87ff78 26px,#a6ff59 48px,#b9ff46 58px,#ceff31 67px,#feff01 84px,#ffef00 99px,#ffdc00 126px,#ffcf00 146px,#ffcf00 177px,#ffd900)"></i><i style="background:linear-gradient(90deg,#77ff88,#8eff71 26px,#afff50 48px,#c2ff3d 58px,#d8ff27 67px,#f0ff0f 75px,#fffd00 81px,#ffed00 89px,#ffd300 119px,#ffc200 141px,#ffc000 175px,#ffc300 192px,#ffca00)"></i><i style="background:linear-gradient(90deg,#7cff83,#95ff6a 26px,#b7ff48 48px,#cbff34 58px,#feff01 76px,#ffeb00 84px,#ffd600 99px,#ffbf00 126px,#ffb100 146px,#ffb100 177px,#ffbb00)"></i><i style="background:linear-gradient(90deg,#81ff7e,#9cff63 26px,#c0ff3f 48px,#d4ff2b 58px,#ecff13 67px,#fffc00 74px,#ffe500 82px,#ffd600 89px,#ffb800 119px,#ffa600 141px,#ffa400 175px,#ffa600 192px,#ffae00)"></i><i style="background:linear-gradient(90deg,#87ff78,#a3ff5c 26px,#c8ff37 48px,#ddff22 58px,#f5ff0a 67px,#fffc00 71px,#ffe300 79px,#ffce00 87px,#ffba00 102px,#ffa300 128px,#ff9700 148px,#ff9700 178px,#ffa100)"></i><i style="background:linear-gradient(90deg,#8cff73,#aaff55 26px,#d0ff2f 48px,#fffc00 68px,#ffc700 85px,#ffb100 100px,#ff9800 127px,#ff8b00 147px,#ff8b00 178px,#ff9500)"></i><i style="background:linear-gradient(90deg,#92ff6d,#b1ff4e 26px,#d8ff27 48px,#efff10 58px,#f9ff06 62px,#fff900 66px,#ffc200 83px,#ffb300 90px,#ffa100 104px,#ff8900 130px,#ff7f00 149px,#ff7f00 179px,#ff8a00)"></i><i style="background:linear-gradient(90deg,#97ff68,#b9ff46 26px,#e0ff1f 48px,#f7ff08 58px,#fffd00 62px,#ffc000 80px,#ffab00 88px,#ff9600 103px,#ff7f00 129px,#ff7400 149px,#ff7400 179px,#ff7f00)"></i><i style="background:linear-gradient(90deg,#9dff62,#c0ff3f 26px,#e8ff17 48px,#ffff00 58px,#ffe400 67px,#ffa900 84px,#ff9000 99px,#ff7600 126px,#ff6a00 146px,#ff6a00 177px,#ff7400)"></i><i style="background:linear-gradient(90deg,#a3ff5c,#c7ff38 26px,#f0ff0f 48px,#fcff03 53px,#fff900 57px,#ffdf00 66px,#ffa200 83px,#ff9200 90px,#ff7f00 104px,#ff6800 130px,#ff6000 149px,#ff6000 179px,#ff6a00)"></i><i style="background:linear-gradient(90deg,#a8ff57,#ceff31 26px,#f8ff07 48px,#fffb00 53px,#ffe300 62px,#ffa100 80px,#ff8b00 88px,#ff7500 103px,#ff5f00 129px,#ff5600 149px,#ff5600 179px,#ff6000)"></i><i style="background:linear-gradient(90deg,#adff52,#d5ff2a 26px,#fffe00 48px,#ffe600 58px,#ffca00 67px,#ff8b00 84px,#ff7b00 91px,#ff5b00 120px,#ff4d00 142px,#ff4c00 175px,#ff4e00 192px,#ff5600)"></i><i style="background:linear-gradient(90deg,#b3ff4c,#dbff24 26px,#f0ff0f 37px,#faff05 42px,#fff900 47px,#ffe100 57px,#ffc500 66px,#ff8400 83px,#ff7300 90px,#ff6000 104px,#ff4a00 130px,#ff4200 149px,#ff4200 179px,#ff4c00)"></i><i style="background:linear-gradient(90deg,#b8ff47,#e1ff1e 26px,#f6ff09 37px,#fffd00 42px,#ffcc00 62px,#ff8500 80px,#ff6e00 88px,#ff5700 103px,#ff4100 129px,#ff3800 149px,#ff3800 179px,#ff4300)"></i><i style="background:linear-gradient(90deg,#bdff42,#e7ff18 26px,#fdff02 37px,#ffeb00 47px,#ffd200 57px,#ffb600 66px,#ff7200 83px,#ff6100 90px,#ff4d00 104px,#ff3600 130px,#ff2f00 149px,#ff2f00 179px,#ff3900)"></i><i style="background:linear-gradient(90deg,#c2ff3d,#edff12 26px,#f7ff08 31px,#fffd00 36px,#ffcb00 57px,#ffae00 66px,#ff6a00 83px,#ff5800 90px,#ff4300 104px,#ff2d00 130px,#ff2600 149px,#ff2600 179px,#ff3000)"></i><i style="background:linear-gradient(90deg,#c7ff38,#f3ff0c 26px,#fdff02 31px,#ffea00 42px,#ffb500 62px,#ff6c00 80px,#ff5300 88px,#ff3b00 103px,#ff2400 129px,#ff1d00 149px,#ff1d00 179px,#ff2800)"></i><i style="background:linear-gradient(90deg,#cbff34,#f8ff07 26px,#fffc00 31px,#ffc800 53px,#ffae00 62px,#ff6400 80px,#ff4b00 88px,#ff3300 103px,#ff2500 116px,#ff1600 139px,#ff1400 174px,#ff1700 191px,#ff1f00)"></i><i style="background:linear-gradient(90deg,#d0ff2f,#feff01 26px,#ffce00 48px,#ffb300 58px,#ff9300 67px,#ff4e00 84px,#ff3000 99px,#ff1500 126px,#ff0b00 146px,#ff0b00 177px,#ff1700)"></i><i style="background:linear-gradient(90deg,#d5ff2a,#eaff15 13px,#fffd00 25px,#ffc800 48px,#ffac00 58px,#ff8c00 67px,#ff4600 84px,#ff2800 99px,#ff1700 112px,#ff0600 136px,#ff0300 172px,#ff0500 190px,#ff0f00)"></i><i style="background:linear-gradient(90deg,#d9ff26,#efff10 13px,#faff05 19px,#fffa00 24px,#ffc500 47px,#ffa900 57px,#ff8900 66px,#ff4200 83px,#ff3000 90px,#ff1800 104px,#ff0100 130px,#fa0000 149px,#fa0000 179px,#fe0000 194px,#ff0700)"></i></div>
<div class="f" style="left:248.0px;top:19.4px;width:12.0px;height:170.4px;background:linear-gradient(180deg,#800000 0.00%,#bf0000 6.25%,#ff0000 12.50%,#ff4000 18.75%,#ff8000 25.00%,#ffbf00 31.25%,#ffff00 37.50%,#bfff40 43.75%,#80ff80 50.00%,#40ffbf 56.25%,#00ffff 62.50%,#00bfff 68.75%,#0080ff 75.00%,#0040ff 81.25%,#0000ff 87.50%,#0000bf 93.75%,#000080 100.00%)"></div>
<div class="f" style="left:519.5px;top:19.4px;width:12.1px;height:170.4px;background:linear-gradient(180deg,#800000 0.00%,#bf0000 6.25%,#ff0000 12.50%,#ff4000 18.75%,#ff8000 25.00%,#ffbf00 31.25%,#ffff00 37.50%,#bfff40 43.75%,#80ff80 50.00%,#40ffbf 56.25%,#00ffff 62.50%,#00bfff 68.75%,#0080ff 75.00%,#0040ff 81.25%,#0000ff 87.50%,#0000bf 93.75%,#000080 100.00%)"></div>
<div class="f" style="left:248.0px;top:216.4px;width:12.0px;height:170.5px;background:linear-gradient(180deg,#800000 0.00%,#bf0000 6.25%,#ff0000 12.50%,#ff4000 18.75%,#ff8000 25.00%,#ffbf00 31.25%,#ffff00 37.50%,#bfff40 43.75%,#80ff80 50.00%,#40ffbf 56.25%,#00ffff 62.50%,#00bfff 68.75%,#0080ff 75.00%,#0040ff 81.25%,#0000ff 87.50%,#0000bf 93.75%,#000080 100.00%)"></div>
<div class="f" style="left:519.5px;top:216.4px;width:12.3px;height:170.5px;background:linear-gradient(180deg,#800000 0.00%,#bf0000 6.25%,#ff0000 12.50%,#ff4000 18.75%,#ff8000 25.00%,#ffbf00 31.25%,#ffff00 37.50%,#bfff40 43.75%,#80ff80 50.00%,#40ffbf 56.25%,#00ffff 62.50%,#00bfff 68.75%,#0080ff 75.00%,#0040ff 81.25%,#0000ff 87.50%,#0000bf 93.75%,#000080 100.00%)"></div>
<svg width="550" height="419" viewBox="0 0 550 419">
<defs>
<clipPath id="c0"><rect x="30.80" y="19.45" width="208.30" height="170.45"/></clipPath>
<clipPath id="c1"><rect x="305.50" y="19.45" width="207.90" height="170.45"/></clipPath>
<clipPath id="c2"><rect x="30.80" y="216.30" width="208.20" height="170.70"/></clipPath>
<clipPath id="c3"><rect x="305.50" y="216.30" width="207.90" height="170.70"/></clipPath>
</defs>
<path clip-path="url(#c0)" d="M42.6,70.7 41.5,68.9 41.8,66.5 43.6,65.5 46.3,65.0 50.1,64.6 53.1,64.5 56.1,64.4 58.2,64.8 56.4,65.6 53.1,65.6 50.1,66.0 47.8,66.7 45.1,67.0 43.9,67.7 43.4,69.2 42.6,70.7 M131.1,48.3 133.5,47.6 136.4,47.2 138.8,45.2 141.5,43.3 144.5,40.2 146.6,37.5 147.7,35.1 148.6,33.8 149.5,34.8 149.1,37.9 147.7,40.2 145.4,42.6 142.4,44.7 139.7,46.0 137.3,47.6 134.9,48.4 132.6,48.6 131.1,48.3 M240.0,26.9 236.1,29.7 233.7,31.6 231.7,33.4 229.0,35.1 226.3,36.5 225.1,37.5 227.2,37.9 229.6,38.0 230.8,39.6 232.3,40.9 234.0,39.9 235.2,39.1 237.3,39.2 238.5,39.6 240.0,41.3 M231.1,36.5 232.0,36.0 233.0,36.7 232.3,37.3 231.2,37.2 231.1,36.5 M240.9,51.8 239.7,58.7 236.7,62.7 234.6,65.5 232.3,67.9 229.6,70.6 225.7,74.3 222.7,76.7 218.9,78.3 216.2,76.7 214.7,77.4 213.2,78.8 211.4,79.8 209.3,82.5 208.5,84.6 207.0,85.2 204.9,86.9 202.2,88.3 201.9,90.0 204.3,92.4 205.2,94.4 206.7,96.5 207.7,99.6 207.6,101.6 207.0,104.0 205.2,104.7 202.8,105.4 199.2,106.7 198.3,105.7 198.9,103.0 199.8,101.3 198.9,98.5 199.8,96.8 198.0,95.5 195.4,95.5 193.6,94.1 195.1,92.4 194.8,89.7 192.7,88.3 190.0,88.3 186.4,89.7 183.2,91.7 184.3,89.7 185.2,87.6 186.4,85.9 184.3,84.6 182.6,84.9 181.1,86.6 178.1,88.3 176.3,90.4 173.6,90.4 172.4,91.7 172.4,93.4 174.5,94.4 176.3,96.5 178.1,97.5 180.5,95.8 182.6,95.5 185.8,96.2 187.3,97.2 186.4,98.2 182.6,99.2 180.5,100.9 177.8,103.7 177.2,105.7 180.5,107.1 181.4,110.1 182.3,112.9 183.8,114.2 185.2,115.9 184.6,117.6 185.2,118.7 182.6,119.7 180.5,120.7 183.2,121.0 184.3,122.1 185.5,123.4 184.3,126.8 183.2,128.5 181.7,130.2 180.2,132.3 178.4,133.7 178.1,137.1 175.7,139.4 173.9,140.5 171.3,143.5 169.2,145.6 166.2,146.3 163.5,147.3 161.7,148.0 160.2,148.3 159.1,149.0 156.4,149.7 153.4,150.7 151.3,151.7 150.7,153.4 151.3,154.8 149.8,154.8 148.9,152.4 149.2,150.7 146.9,150.4 144.8,150.4 142.4,151.4 140.0,153.4 138.5,155.8 137.0,158.9 137.3,160.9 139.4,164.0 141.5,166.7 144.5,169.1 146.3,171.8 147.4,176.6 148.0,181.0 147.4,184.4 146.3,186.2 143.9,187.5 141.8,188.5 140.3,189.2 139.7,191.6 M117.7,191.6 118.0,186.5 118.9,183.8 119.8,181.0 120.1,178.3 121.6,178.0 122.7,179.7 122.7,181.0 123.9,180.7 126.6,182.4 128.1,183.8 129.0,185.5 130.5,187.9 132.0,188.2 133.5,188.5 134.4,189.6 134.7,191.6 M115.8,191.6 115.9,186.5 116.2,182.4 115.9,179.0 114.7,176.3 113.5,172.9 113.2,169.4 112.3,167.1 110.8,166.0 109.7,167.4 107.6,169.4 105.8,170.1 104.0,169.4 103.1,167.7 103.7,164.3 102.8,160.9 101.3,158.5 99.5,156.2 98.1,153.8 97.2,151.4 96.0,148.7 95.1,146.9 93.9,146.9 92.1,148.3 90.6,149.3 88.8,149.7 87.3,150.0 85.3,150.4 84.1,149.3 82.3,150.4 80.8,152.4 81.1,154.1 79.6,155.8 76.9,157.2 74.8,158.5 73.1,161.3 70.7,163.3 67.4,166.7 67.4,167.7 64.4,169.1 63.2,170.5 61.2,171.5 60.9,174.6 61.2,178.0 61.4,179.7 60.6,183.1 60.0,185.5 60.1,188.9 58.5,189.9 58.2,191.6 M49.5,191.6 49.2,189.9 48.1,185.8 46.9,183.1 45.1,179.7 44.2,176.3 42.7,172.9 41.2,169.4 40.6,166.0 39.7,162.6 39.1,159.2 39.1,155.8 39.4,153.1 38.5,150.7 38.5,148.3 37.6,148.0 36.8,150.4 35.3,152.4 33.5,153.3 31.7,152.1 29.3,150.4 M29.3,147.6 31.1,146.9 32.0,145.9 30.5,145.6 29.3,145.2 M240.0,84.2 239.1,85.6 238.8,87.6 238.2,88.0 238.8,89.3 237.9,91.7 237.0,93.8 235.5,95.1 234.0,96.8 231.4,98.2 230.8,98.5 231.1,96.2 229.6,97.2 229.3,98.5 227.2,100.6 226.3,102.6 225.1,103.0 222.7,102.6 219.2,103.0 217.1,103.3 215.0,105.7 212.3,106.7 212.0,108.1 213.2,108.3 215.3,108.4 216.2,107.4 218.3,106.7 221.2,106.0 224.2,106.0 225.4,106.0 224.5,107.4 224.8,108.8 226.6,110.0 228.1,108.4 229.9,107.1 229.3,105.7 229.9,104.7 231.1,105.9 233.7,105.9 235.5,106.0 236.4,104.3 238.2,103.7 238.5,102.6 240.0,102.3 M212.0,108.4 210.5,109.4 208.7,109.8 208.2,111.2 208.7,112.5 209.9,112.9 209.6,114.6 210.2,116.9 211.4,118.3 212.6,116.9 213.5,116.6 213.8,113.5 214.7,111.8 214.1,110.5 212.9,109.4 212.0,108.4 M217.1,111.8 216.8,110.5 217.7,108.8 219.8,107.4 221.8,107.1 223.3,107.7 223.0,108.8 221.8,110.5 220.4,109.8 218.9,110.5 218.0,112.2 217.1,111.8 M240.0,82.9 239.1,82.5 239.0,81.5 239.4,79.8 238.5,78.8 240.0,76.7 240.9,76.4 M182.6,138.4 184.3,137.7 185.2,138.8 184.9,140.8 184.0,143.9 183.2,146.3 182.3,149.0 181.7,148.0 180.5,147.3 179.9,145.6 180.2,142.9 181.4,140.5 182.6,138.4 M145.7,158.5 146.0,160.9 148.3,161.9 150.1,160.9 151.6,158.9 152.8,156.8 151.6,155.5 149.8,155.8 147.7,156.2 145.7,158.5 M181.4,160.9 182.9,160.6 185.2,161.6 186.4,161.3 186.1,165.4 187.0,167.7 184.3,169.8 184.3,172.9 184.6,175.6 186.4,176.3 187.6,175.2 188.8,176.9 191.2,176.9 191.8,179.7 190.0,180.0 188.2,178.0 187.0,176.9 184.9,176.6 183.5,177.6 182.0,175.9 181.4,174.6 179.9,173.5 179.3,171.2 179.0,168.4 180.5,169.1 180.8,166.0 181.1,162.6 181.4,160.9 M180.8,178.0 182.9,178.3 184.0,180.0 183.5,182.1 182.6,181.7 181.7,180.0 180.8,178.0 M185.2,183.4 187.0,184.4 188.8,185.8 187.3,187.9 185.5,188.2 185.2,186.5 185.2,183.4 M186.7,187.2 188.5,186.8 190.0,187.9 189.1,191.6 187.3,191.6 186.7,187.2 M191.2,185.8 191.6,187.2 191.2,189.2 190.6,191.3 189.7,189.2 190.6,186.8 191.2,185.8 M192.4,181.4 194.8,181.4 196.5,183.1 196.0,185.8 194.5,186.5 193.3,185.5 192.4,183.1 192.4,181.4 M192.4,184.8 194.5,185.5 194.5,189.2 193.6,189.9 192.7,187.9 192.4,184.8 M177.5,185.1 178.4,186.8 177.2,189.2 175.7,191.6 174.8,191.6 176.3,189.2 177.5,185.1 M202.3,135.0 203.1,133.3 204.3,132.5 204.0,133.5 202.8,134.8 202.3,135.0 M207.0,127.9 207.9,126.8 208.5,127.2 207.6,128.2 207.0,127.9 M98.5,177.6 99.4,178.7 99.1,181.4 98.5,184.4 98.1,185.8 97.9,183.4 98.3,180.4 98.5,177.6 M33.5,153.8 33.8,153.4" fill="none" stroke="#111" stroke-width="0.7" stroke-opacity="0.8" stroke-linejoin="round"/>
<path d="M30.80,189.90v-2.2M30.80,19.45v2.2M60.56,189.90v-2.2M60.56,19.45v2.2M90.31,189.90v-2.2M90.31,19.45v2.2M120.07,189.90v-2.2M120.07,19.45v2.2M149.83,189.90v-2.2M149.83,19.45v2.2M179.59,189.90v-2.2M179.59,19.45v2.2M209.34,189.90v-2.2M209.34,19.45v2.2M239.10,189.90v-2.2M239.10,19.45v2.2M30.80,189.90h2.2M239.10,189.90h-2.2M30.80,155.81h2.2M239.10,155.81h-2.2M30.80,121.72h2.2M239.10,121.72h-2.2M30.80,87.63h2.2M239.10,87.63h-2.2M30.80,53.54h2.2M239.10,53.54h-2.2M30.80,19.45h2.2M239.10,19.45h-2.2" stroke="#222" stroke-width="0.7" fill="none"/>
<rect x="30.80" y="19.45" width="208.30" height="170.45" fill="none" stroke="#1c1c1c" stroke-width="1"/>
<path clip-path="url(#c1)" d="M317.2,70.7 316.2,68.9 316.5,66.5 318.3,65.5 320.9,65.0 324.8,64.6 327.8,64.5 330.7,64.4 332.8,64.8 331.0,65.6 327.8,65.6 324.8,66.0 322.4,66.7 319.8,67.0 318.6,67.7 318.1,69.2 317.2,70.7 M405.6,48.3 408.0,47.6 410.9,47.2 413.3,45.2 416.0,43.3 419.0,40.2 421.0,37.5 422.2,35.1 423.1,33.8 424.0,34.8 423.6,37.9 422.2,40.2 419.8,42.6 416.9,44.7 414.2,46.0 411.8,47.6 409.4,48.4 407.1,48.6 405.6,48.3 M514.3,26.9 510.4,29.7 508.1,31.6 506.0,33.4 503.3,35.1 500.6,36.5 499.4,37.5 501.5,37.9 503.9,38.0 505.1,39.6 506.6,40.9 508.4,39.9 509.5,39.1 511.6,39.2 512.8,39.6 514.3,41.3 M505.4,36.5 506.3,36.0 507.3,36.7 506.6,37.3 505.5,37.2 505.4,36.5 M515.2,51.8 514.0,58.7 511.0,62.7 508.9,65.5 506.6,67.9 503.9,70.6 500.0,74.3 497.1,76.7 493.2,78.3 490.5,76.7 489.0,77.4 487.6,78.8 485.8,79.8 483.7,82.5 482.8,84.6 481.3,85.2 479.2,86.9 476.6,88.3 476.3,90.0 478.7,92.4 479.5,94.4 481.0,96.5 482.1,99.6 481.9,101.6 481.3,104.0 479.5,104.7 477.2,105.4 473.6,106.7 472.7,105.7 473.3,103.0 474.2,101.3 473.3,98.5 474.2,96.8 472.4,95.5 469.7,95.5 468.0,94.1 469.4,92.4 469.1,89.7 467.1,88.3 464.4,88.3 460.8,89.7 457.6,91.7 458.8,89.7 459.6,87.6 460.8,85.9 458.8,84.6 457.0,84.9 455.5,86.6 452.5,88.3 450.7,90.4 448.1,90.4 446.9,91.7 446.9,93.4 449.0,94.4 450.7,96.5 452.5,97.5 454.9,95.8 457.0,95.5 460.2,96.2 461.7,97.2 460.8,98.2 457.0,99.2 454.9,100.9 452.2,103.7 451.6,105.7 454.9,107.1 455.8,110.1 456.7,112.9 458.2,114.2 459.6,115.9 459.0,117.6 459.6,118.7 457.0,119.7 454.9,120.7 457.6,121.0 458.8,122.1 459.9,123.4 458.8,126.8 457.6,128.5 456.1,130.2 454.6,132.3 452.8,133.7 452.5,137.1 450.1,139.4 448.4,140.5 445.7,143.5 443.6,145.6 440.6,146.3 438.0,147.3 436.2,148.0 434.7,148.3 433.5,149.0 430.8,149.7 427.9,150.7 425.8,151.7 425.2,153.4 425.8,154.8 424.3,154.8 423.4,152.4 423.7,150.7 421.3,150.4 419.3,150.4 416.9,151.4 414.5,153.4 413.0,155.8 411.5,158.9 411.8,160.9 413.9,164.0 416.0,166.7 419.0,169.1 420.7,171.8 421.9,176.6 422.5,181.0 421.9,184.4 420.7,186.2 418.4,187.5 416.3,188.5 414.8,189.2 414.2,191.6 M392.2,191.6 392.5,186.5 393.4,183.8 394.3,181.0 394.6,178.3 396.1,178.0 397.3,179.7 397.3,181.0 398.5,180.7 401.1,182.4 402.6,183.8 403.5,185.5 405.0,187.9 406.5,188.2 408.0,188.5 408.9,189.6 409.2,191.6 M390.3,191.6 390.4,186.5 390.7,182.4 390.4,179.0 389.3,176.3 388.1,172.9 387.8,169.4 386.9,167.1 385.4,166.0 384.2,167.4 382.1,169.4 380.3,170.1 378.6,169.4 377.7,167.7 378.3,164.3 377.4,160.9 375.9,158.5 374.1,156.2 372.6,153.8 371.7,151.4 370.5,148.7 369.7,146.9 368.5,146.9 366.7,148.3 365.2,149.3 363.4,149.7 361.9,150.0 359.9,150.4 358.7,149.3 356.9,150.4 355.4,152.4 355.7,154.1 354.2,155.8 351.5,157.2 349.5,158.5 347.7,161.3 345.3,163.3 342.0,166.7 342.0,167.7 339.1,169.1 337.9,170.5 335.8,171.5 335.5,174.6 335.8,178.0 336.1,179.7 335.2,183.1 334.6,185.5 334.8,188.9 333.1,189.9 332.8,191.6 M324.2,191.6 323.9,189.9 322.7,185.8 321.5,183.1 319.8,179.7 318.9,176.3 317.4,172.9 315.9,169.4 315.3,166.0 314.4,162.6 313.8,159.2 313.8,155.8 314.1,153.1 313.2,150.7 313.2,148.3 312.3,148.0 311.4,150.4 310.0,152.4 308.2,153.3 306.4,152.1 304.0,150.4 M304.0,147.6 305.8,146.9 306.7,145.9 305.2,145.6 304.0,145.2 M514.3,84.2 513.4,85.6 513.1,87.6 512.5,88.0 513.1,89.3 512.2,91.7 511.3,93.8 509.8,95.1 508.4,96.8 505.7,98.2 505.1,98.5 505.4,96.2 503.9,97.2 503.6,98.5 501.5,100.6 500.6,102.6 499.4,103.0 497.1,102.6 493.5,103.0 491.4,103.3 489.3,105.7 486.7,106.7 486.4,108.1 487.6,108.3 489.6,108.4 490.5,107.4 492.6,106.7 495.6,106.0 498.5,106.0 499.7,106.0 498.8,107.4 499.1,108.8 500.9,110.0 502.4,108.4 504.2,107.1 503.6,105.7 504.2,104.7 505.4,105.9 508.1,105.9 509.8,106.0 510.7,104.3 512.5,103.7 512.8,102.6 514.3,102.3 M486.4,108.4 484.9,109.4 483.1,109.8 482.5,111.2 483.1,112.5 484.3,112.9 484.0,114.6 484.6,116.9 485.8,118.3 487.0,116.9 487.9,116.6 488.2,113.5 489.0,111.8 488.5,110.5 487.3,109.4 486.4,108.4 M491.4,111.8 491.1,110.5 492.0,108.8 494.1,107.4 496.2,107.1 497.7,107.7 497.4,108.8 496.2,110.5 494.7,109.8 493.2,110.5 492.3,112.2 491.4,111.8 M514.3,82.9 513.4,82.5 513.3,81.5 513.7,79.8 512.8,78.8 514.3,76.7 515.2,76.4 M457.0,138.4 458.8,137.7 459.6,138.8 459.3,140.8 458.5,143.9 457.6,146.3 456.7,149.0 456.1,148.0 454.9,147.3 454.3,145.6 454.6,142.9 455.8,140.5 457.0,138.4 M420.1,158.5 420.4,160.9 422.8,161.9 424.6,160.9 426.1,158.9 427.3,156.8 426.1,155.5 424.3,155.8 422.2,156.2 420.1,158.5 M455.8,160.9 457.3,160.6 459.6,161.6 460.8,161.3 460.5,165.4 461.4,167.7 458.8,169.8 458.8,172.9 459.0,175.6 460.8,176.3 462.0,175.2 463.2,176.9 465.6,176.9 466.2,179.7 464.4,180.0 462.6,178.0 461.4,176.9 459.3,176.6 457.9,177.6 456.4,175.9 455.8,174.6 454.3,173.5 453.7,171.2 453.4,168.4 454.9,169.1 455.2,166.0 455.5,162.6 455.8,160.9 M455.2,178.0 457.3,178.3 458.5,180.0 457.9,182.1 457.0,181.7 456.1,180.0 455.2,178.0 M459.6,183.4 461.4,184.4 463.2,185.8 461.7,187.9 459.9,188.2 459.6,186.5 459.6,183.4 M461.1,187.2 462.9,186.8 464.4,187.9 463.5,191.6 461.7,191.6 461.1,187.2 M465.6,185.8 466.0,187.2 465.6,189.2 465.0,191.3 464.1,189.2 465.0,186.8 465.6,185.8 M466.8,181.4 469.1,181.4 470.9,183.1 470.3,185.8 468.9,186.5 467.7,185.5 466.8,183.1 466.8,181.4 M466.8,184.8 468.9,185.5 468.9,189.2 468.0,189.9 467.1,187.9 466.8,184.8 M451.9,185.1 452.8,186.8 451.6,189.2 450.1,191.6 449.2,191.6 450.7,189.2 451.9,185.1 M476.7,135.0 477.5,133.3 478.7,132.5 478.4,133.5 477.2,134.8 476.7,135.0 M481.3,127.9 482.2,126.8 482.8,127.2 481.9,128.2 481.3,127.9 M373.1,177.6 374.0,178.7 373.7,181.4 373.1,184.4 372.6,185.8 372.5,183.4 372.9,180.4 373.1,177.6 M308.2,153.8 308.5,153.4" fill="none" stroke="#111" stroke-width="0.7" stroke-opacity="0.8" stroke-linejoin="round"/>
<path d="M305.50,189.90v-2.2M305.50,19.45v2.2M335.20,189.90v-2.2M335.20,19.45v2.2M364.90,189.90v-2.2M364.90,19.45v2.2M394.60,189.90v-2.2M394.60,19.45v2.2M424.30,189.90v-2.2M424.30,19.45v2.2M454.00,189.90v-2.2M454.00,19.45v2.2M483.70,189.90v-2.2M483.70,19.45v2.2M513.40,189.90v-2.2M513.40,19.45v2.2M305.50,189.90h2.2M513.40,189.90h-2.2M305.50,155.81h2.2M513.40,155.81h-2.2M305.50,121.72h2.2M513.40,121.72h-2.2M305.50,87.63h2.2M513.40,87.63h-2.2M305.50,53.54h2.2M513.40,53.54h-2.2M305.50,19.45h2.2M513.40,19.45h-2.2" stroke="#222" stroke-width="0.7" fill="none"/>
<rect x="305.50" y="19.45" width="207.90" height="170.45" fill="none" stroke="#1c1c1c" stroke-width="1"/>
<path clip-path="url(#c2)" d="M42.5,267.6 41.5,265.8 41.8,263.4 43.6,262.4 46.3,261.9 50.1,261.5 53.1,261.4 56.1,261.4 58.2,261.7 56.4,262.6 53.1,262.6 50.1,262.9 47.8,263.6 45.1,263.9 43.9,264.6 43.4,266.1 42.5,267.6 M131.0,245.1 133.4,244.5 136.4,244.1 138.8,242.1 141.4,240.2 144.4,237.1 146.5,234.4 147.7,232.0 148.6,230.6 149.5,231.7 149.0,234.7 147.7,237.1 145.3,239.5 142.3,241.6 139.7,242.9 137.3,244.5 134.9,245.3 132.5,245.5 131.0,245.1 M239.9,223.8 236.0,226.5 233.6,228.4 231.6,230.3 228.9,232.0 226.2,233.4 225.0,234.4 227.1,234.7 229.5,234.9 230.7,236.4 232.2,237.8 233.9,236.8 235.1,235.9 237.2,236.1 238.4,236.4 239.9,238.1 M231.0,233.4 231.9,232.9 232.9,233.5 232.2,234.2 231.1,234.1 231.0,233.4 M240.8,248.7 239.6,255.6 236.6,259.7 234.5,262.4 232.2,264.8 229.5,267.5 225.6,271.3 222.6,273.7 218.8,275.2 216.1,273.7 214.6,274.3 213.1,275.7 211.3,276.7 209.3,279.5 208.4,281.5 206.9,282.2 204.8,283.9 202.1,285.3 201.8,287.0 204.2,289.4 205.1,291.4 206.6,293.5 207.6,296.5 207.5,298.6 206.9,301.0 205.1,301.6 202.7,302.3 199.1,303.7 198.3,302.7 198.8,299.9 199.7,298.2 198.8,295.5 199.7,293.8 198.0,292.4 195.3,292.4 193.5,291.1 195.0,289.4 194.7,286.6 192.6,285.3 189.9,285.3 186.4,286.6 183.1,288.7 184.3,286.6 185.2,284.6 186.4,282.9 184.3,281.5 182.5,281.8 181.0,283.6 178.0,285.3 176.2,287.3 173.6,287.3 172.4,288.7 172.4,290.4 174.5,291.4 176.2,293.5 178.0,294.5 180.4,292.8 182.5,292.4 185.8,293.1 187.2,294.1 186.4,295.2 182.5,296.2 180.4,297.9 177.7,300.6 177.1,302.7 180.4,304.0 181.3,307.1 182.2,309.8 183.7,311.2 185.2,312.9 184.6,314.6 185.2,315.6 182.5,316.7 180.4,317.7 183.1,318.0 184.3,319.1 185.5,320.4 184.3,323.8 183.1,325.5 181.6,327.3 180.1,329.3 178.3,330.7 178.0,334.1 175.6,336.5 173.9,337.5 171.2,340.6 169.1,342.6 166.1,343.3 163.5,344.3 161.7,345.0 160.2,345.3 159.0,346.0 156.3,346.7 153.3,347.7 151.3,348.8 150.7,350.5 151.3,351.8 149.8,351.8 148.9,349.4 149.2,347.7 146.8,347.4 144.7,347.4 142.3,348.4 140.0,350.5 138.5,352.9 137.0,355.9 137.3,358.0 139.4,361.1 141.4,363.8 144.4,366.2 146.2,368.9 147.4,373.7 148.0,378.1 147.4,381.5 146.2,383.2 143.8,384.6 141.7,385.6 140.3,386.3 139.7,388.7 M117.6,388.7 117.9,383.6 118.8,380.9 119.7,378.1 120.0,375.4 121.5,375.1 122.7,376.8 122.7,378.1 123.9,377.8 126.6,379.5 128.1,380.9 129.0,382.6 130.4,385.0 131.9,385.3 133.4,385.6 134.3,386.7 134.6,388.7 M115.7,388.7 115.9,383.6 116.2,379.5 115.9,376.1 114.7,373.3 113.5,369.9 113.2,366.5 112.3,364.1 110.8,363.1 109.6,364.5 107.5,366.5 105.8,367.2 104.0,366.5 103.1,364.8 103.7,361.4 102.8,358.0 101.3,355.6 99.5,353.2 98.0,350.8 97.1,348.4 95.9,345.7 95.0,344.0 93.9,344.0 92.1,345.3 90.6,346.4 88.8,346.7 87.3,347.1 85.2,347.4 84.0,346.4 82.3,347.4 80.8,349.4 81.1,351.2 79.6,352.9 76.9,354.2 74.8,355.6 73.0,358.3 70.7,360.4 67.4,363.8 67.4,364.8 64.4,366.2 63.2,367.5 61.1,368.6 60.8,371.6 61.1,375.1 61.4,376.8 60.5,380.2 59.9,382.6 60.1,386.0 58.5,387.0 58.2,388.7 M49.5,388.7 49.2,387.0 48.1,382.9 46.9,380.2 45.1,376.8 44.2,373.3 42.7,369.9 41.2,366.5 40.6,363.1 39.7,359.7 39.1,356.3 39.1,352.9 39.4,350.1 38.5,347.7 38.5,345.3 37.6,345.0 36.7,347.4 35.3,349.4 33.5,350.3 31.7,349.1 29.3,347.4 M29.3,344.7 31.1,344.0 32.0,343.0 30.5,342.6 29.3,342.3 M239.9,281.2 239.0,282.5 238.7,284.6 238.1,284.9 238.7,286.3 237.8,288.7 236.9,290.7 235.4,292.1 233.9,293.8 231.3,295.2 230.7,295.5 231.0,293.1 229.5,294.1 229.2,295.5 227.1,297.6 226.2,299.6 225.0,299.9 222.6,299.6 219.1,299.9 217.0,300.3 214.9,302.7 212.2,303.7 211.9,305.1 213.1,305.2 215.2,305.4 216.1,304.4 218.2,303.7 221.2,303.0 224.1,303.0 225.3,303.0 224.4,304.4 224.7,305.7 226.5,306.9 228.0,305.4 229.8,304.0 229.2,302.7 229.8,301.6 231.0,302.8 233.6,302.8 235.4,303.0 236.3,301.3 238.1,300.6 238.4,299.6 239.9,299.3 M211.9,305.4 210.4,306.4 208.7,306.8 208.1,308.1 208.7,309.5 209.9,309.8 209.6,311.6 210.1,313.9 211.3,315.3 212.5,313.9 213.4,313.6 213.7,310.5 214.6,308.8 214.0,307.5 212.8,306.4 211.9,305.4 M217.0,308.8 216.7,307.5 217.6,305.7 219.7,304.4 221.7,304.0 223.2,304.7 222.9,305.7 221.7,307.5 220.3,306.8 218.8,307.5 217.9,309.2 217.0,308.8 M239.9,279.8 239.0,279.5 238.9,278.4 239.3,276.7 238.4,275.7 239.9,273.7 240.8,273.3 M182.5,335.4 184.3,334.8 185.2,335.8 184.9,337.8 184.0,340.9 183.1,343.3 182.2,346.0 181.6,345.0 180.4,344.3 179.8,342.6 180.1,339.9 181.3,337.5 182.5,335.4 M145.6,355.6 145.9,358.0 148.3,359.0 150.1,358.0 151.6,355.9 152.7,353.9 151.6,352.5 149.8,352.9 147.7,353.2 145.6,355.6 M181.3,358.0 182.8,357.6 185.2,358.7 186.4,358.3 186.1,362.4 187.0,364.8 184.3,366.9 184.3,369.9 184.6,372.7 186.4,373.3 187.5,372.3 188.7,374.0 191.1,374.0 191.7,376.8 189.9,377.1 188.1,375.1 187.0,374.0 184.9,373.7 183.4,374.7 181.9,373.0 181.3,371.6 179.8,370.6 179.2,368.2 178.9,365.5 180.4,366.2 180.7,363.1 181.0,359.7 181.3,358.0 M180.7,375.1 182.8,375.4 184.0,377.1 183.4,379.1 182.5,378.8 181.6,377.1 180.7,375.1 M185.2,380.5 187.0,381.5 188.7,382.9 187.2,385.0 185.5,385.3 185.2,383.6 185.2,380.5 M186.7,384.3 188.4,383.9 189.9,385.0 189.0,388.7 187.2,388.7 186.7,384.3 M191.1,382.9 191.6,384.3 191.1,386.3 190.5,388.4 189.6,386.3 190.5,383.9 191.1,382.9 M192.3,378.5 194.7,378.5 196.5,380.2 195.9,382.9 194.4,383.6 193.2,382.6 192.3,380.2 192.3,378.5 M192.3,381.9 194.4,382.6 194.4,386.3 193.5,387.0 192.6,385.0 192.3,381.9 M177.4,382.2 178.3,383.9 177.1,386.3 175.6,388.7 174.8,388.7 176.2,386.3 177.4,382.2 M202.3,332.0 203.0,330.3 204.2,329.5 203.9,330.5 202.7,331.9 202.3,332.0 M206.9,324.9 207.8,323.8 208.4,324.2 207.5,325.2 206.9,324.9 M98.5,374.7 99.4,375.7 99.1,378.5 98.5,381.5 98.0,382.9 97.9,380.5 98.3,377.4 98.5,374.7 M33.5,350.8 33.8,350.5" fill="none" stroke="#111" stroke-width="0.7" stroke-opacity="0.8" stroke-linejoin="round"/>
<path d="M30.80,387.00v-2.2M30.80,216.30v2.2M60.54,387.00v-2.2M60.54,216.30v2.2M90.29,387.00v-2.2M90.29,216.30v2.2M120.03,387.00v-2.2M120.03,216.30v2.2M149.77,387.00v-2.2M149.77,216.30v2.2M179.51,387.00v-2.2M179.51,216.30v2.2M209.26,387.00v-2.2M209.26,216.30v2.2M239.00,387.00v-2.2M239.00,216.30v2.2M30.80,387.00h2.2M239.00,387.00h-2.2M30.80,352.86h2.2M239.00,352.86h-2.2M30.80,318.72h2.2M239.00,318.72h-2.2M30.80,284.58h2.2M239.00,284.58h-2.2M30.80,250.44h2.2M239.00,250.44h-2.2M30.80,216.30h2.2M239.00,216.30h-2.2" stroke="#222" stroke-width="0.7" fill="none"/>
<rect x="30.80" y="216.30" width="208.20" height="170.70" fill="none" stroke="#1c1c1c" stroke-width="1"/>
<path clip-path="url(#c3)" d="M317.2,267.6 316.2,265.8 316.5,263.4 318.3,262.4 320.9,261.9 324.8,261.5 327.8,261.4 330.7,261.4 332.8,261.7 331.0,262.6 327.8,262.6 324.8,262.9 322.4,263.6 319.8,263.9 318.6,264.6 318.1,266.1 317.2,267.6 M405.6,245.1 408.0,244.5 410.9,244.1 413.3,242.1 416.0,240.2 419.0,237.1 421.0,234.4 422.2,232.0 423.1,230.6 424.0,231.7 423.6,234.7 422.2,237.1 419.8,239.5 416.9,241.6 414.2,242.9 411.8,244.5 409.4,245.3 407.1,245.5 405.6,245.1 M514.3,223.8 510.4,226.5 508.1,228.4 506.0,230.3 503.3,232.0 500.6,233.4 499.4,234.4 501.5,234.7 503.9,234.9 505.1,236.4 506.6,237.8 508.4,236.8 509.5,235.9 511.6,236.1 512.8,236.4 514.3,238.1 M505.4,233.4 506.3,232.9 507.3,233.5 506.6,234.2 505.5,234.1 505.4,233.4 M515.2,248.7 514.0,255.6 511.0,259.7 508.9,262.4 506.6,264.8 503.9,267.5 500.0,271.3 497.1,273.7 493.2,275.2 490.5,273.7 489.0,274.3 487.6,275.7 485.8,276.7 483.7,279.5 482.8,281.5 481.3,282.2 479.2,283.9 476.6,285.3 476.3,287.0 478.7,289.4 479.5,291.4 481.0,293.5 482.1,296.5 481.9,298.6 481.3,301.0 479.5,301.6 477.2,302.3 473.6,303.7 472.7,302.7 473.3,299.9 474.2,298.2 473.3,295.5 474.2,293.8 472.4,292.4 469.7,292.4 468.0,291.1 469.4,289.4 469.1,286.6 467.1,285.3 464.4,285.3 460.8,286.6 457.6,288.7 458.8,286.6 459.6,284.6 460.8,282.9 458.8,281.5 457.0,281.8 455.5,283.6 452.5,285.3 450.7,287.3 448.1,287.3 446.9,288.7 446.9,290.4 449.0,291.4 450.7,293.5 452.5,294.5 454.9,292.8 457.0,292.4 460.2,293.1 461.7,294.1 460.8,295.2 457.0,296.2 454.9,297.9 452.2,300.6 451.6,302.7 454.9,304.0 455.8,307.1 456.7,309.8 458.2,311.2 459.6,312.9 459.0,314.6 459.6,315.6 457.0,316.7 454.9,317.7 457.6,318.0 458.8,319.1 459.9,320.4 458.8,323.8 457.6,325.5 456.1,327.3 454.6,329.3 452.8,330.7 452.5,334.1 450.1,336.5 448.4,337.5 445.7,340.6 443.6,342.6 440.6,343.3 438.0,344.3 436.2,345.0 434.7,345.3 433.5,346.0 430.8,346.7 427.9,347.7 425.8,348.8 425.2,350.5 425.8,351.8 424.3,351.8 423.4,349.4 423.7,347.7 421.3,347.4 419.3,347.4 416.9,348.4 414.5,350.5 413.0,352.9 411.5,355.9 411.8,358.0 413.9,361.1 416.0,363.8 419.0,366.2 420.7,368.9 421.9,373.7 422.5,378.1 421.9,381.5 420.7,383.2 418.4,384.6 416.3,385.6 414.8,386.3 414.2,388.7 M392.2,388.7 392.5,383.6 393.4,380.9 394.3,378.1 394.6,375.4 396.1,375.1 397.3,376.8 397.3,378.1 398.5,377.8 401.1,379.5 402.6,380.9 403.5,382.6 405.0,385.0 406.5,385.3 408.0,385.6 408.9,386.7 409.2,388.7 M390.3,388.7 390.4,383.6 390.7,379.5 390.4,376.1 389.3,373.3 388.1,369.9 387.8,366.5 386.9,364.1 385.4,363.1 384.2,364.5 382.1,366.5 380.3,367.2 378.6,366.5 377.7,364.8 378.3,361.4 377.4,358.0 375.9,355.6 374.1,353.2 372.6,350.8 371.7,348.4 370.5,345.7 369.7,344.0 368.5,344.0 366.7,345.3 365.2,346.4 363.4,346.7 361.9,347.1 359.9,347.4 358.7,346.4 356.9,347.4 355.4,349.4 355.7,351.2 354.2,352.9 351.5,354.2 349.5,355.6 347.7,358.3 345.3,360.4 342.0,363.8 342.0,364.8 339.1,366.2 337.9,367.5 335.8,368.6 335.5,371.6 335.8,375.1 336.1,376.8 335.2,380.2 334.6,382.6 334.8,386.0 333.1,387.0 332.8,388.7 M324.2,388.7 323.9,387.0 322.7,382.9 321.5,380.2 319.8,376.8 318.9,373.3 317.4,369.9 315.9,366.5 315.3,363.1 314.4,359.7 313.8,356.3 313.8,352.9 314.1,350.1 313.2,347.7 313.2,345.3 312.3,345.0 311.4,347.4 310.0,349.4 308.2,350.3 306.4,349.1 304.0,347.4 M304.0,344.7 305.8,344.0 306.7,343.0 305.2,342.6 304.0,342.3 M514.3,281.2 513.4,282.5 513.1,284.6 512.5,284.9 513.1,286.3 512.2,288.7 511.3,290.7 509.8,292.1 508.4,293.8 505.7,295.2 505.1,295.5 505.4,293.1 503.9,294.1 503.6,295.5 501.5,297.6 500.6,299.6 499.4,299.9 497.1,299.6 493.5,299.9 491.4,300.3 489.3,302.7 486.7,303.7 486.4,305.1 487.6,305.2 489.6,305.4 490.5,304.4 492.6,303.7 495.6,303.0 498.5,303.0 499.7,303.0 498.8,304.4 499.1,305.7 500.9,306.9 502.4,305.4 504.2,304.0 503.6,302.7 504.2,301.6 505.4,302.8 508.1,302.8 509.8,303.0 510.7,301.3 512.5,300.6 512.8,299.6 514.3,299.3 M486.4,305.4 484.9,306.4 483.1,306.8 482.5,308.1 483.1,309.5 484.3,309.8 484.0,311.6 484.6,313.9 485.8,315.3 487.0,313.9 487.9,313.6 488.2,310.5 489.0,308.8 488.5,307.5 487.3,306.4 486.4,305.4 M491.4,308.8 491.1,307.5 492.0,305.7 494.1,304.4 496.2,304.0 497.7,304.7 497.4,305.7 496.2,307.5 494.7,306.8 493.2,307.5 492.3,309.2 491.4,308.8 M514.3,279.8 513.4,279.5 513.3,278.4 513.7,276.7 512.8,275.7 514.3,273.7 515.2,273.3 M457.0,335.4 458.8,334.8 459.6,335.8 459.3,337.8 458.5,340.9 457.6,343.3 456.7,346.0 456.1,345.0 454.9,344.3 454.3,342.6 454.6,339.9 455.8,337.5 457.0,335.4 M420.1,355.6 420.4,358.0 422.8,359.0 424.6,358.0 426.1,355.9 427.3,353.9 426.1,352.5 424.3,352.9 422.2,353.2 420.1,355.6 M455.8,358.0 457.3,357.6 459.6,358.7 460.8,358.3 460.5,362.4 461.4,364.8 458.8,366.9 458.8,369.9 459.0,372.7 460.8,373.3 462.0,372.3 463.2,374.0 465.6,374.0 466.2,376.8 464.4,377.1 462.6,375.1 461.4,374.0 459.3,373.7 457.9,374.7 456.4,373.0 455.8,371.6 454.3,370.6 453.7,368.2 453.4,365.5 454.9,366.2 455.2,363.1 455.5,359.7 455.8,358.0 M455.2,375.1 457.3,375.4 458.5,377.1 457.9,379.1 457.0,378.8 456.1,377.1 455.2,375.1 M459.6,380.5 461.4,381.5 463.2,382.9 461.7,385.0 459.9,385.3 459.6,383.6 459.6,380.5 M461.1,384.3 462.9,383.9 464.4,385.0 463.5,388.7 461.7,388.7 461.1,384.3 M465.6,382.9 466.0,384.3 465.6,386.3 465.0,388.4 464.1,386.3 465.0,383.9 465.6,382.9 M466.8,378.5 469.1,378.5 470.9,380.2 470.3,382.9 468.9,383.6 467.7,382.6 466.8,380.2 466.8,378.5 M466.8,381.9 468.9,382.6 468.9,386.3 468.0,387.0 467.1,385.0 466.8,381.9 M451.9,382.2 452.8,383.9 451.6,386.3 450.1,388.7 449.2,388.7 450.7,386.3 451.9,382.2 M476.7,332.0 477.5,330.3 478.7,329.5 478.4,330.5 477.2,331.9 476.7,332.0 M481.3,324.9 482.2,323.8 482.8,324.2 481.9,325.2 481.3,324.9 M373.1,374.7 374.0,375.7 373.7,378.5 373.1,381.5 372.6,382.9 372.5,380.5 372.9,377.4 373.1,374.7 M308.2,350.8 308.5,350.5" fill="none" stroke="#111" stroke-width="0.7" stroke-opacity="0.8" stroke-linejoin="round"/>
<path d="M305.50,387.00v-2.2M305.50,216.30v2.2M335.20,387.00v-2.2M335.20,216.30v2.2M364.90,387.00v-2.2M364.90,216.30v2.2M394.60,387.00v-2.2M394.60,216.30v2.2M424.30,387.00v-2.2M424.30,216.30v2.2M454.00,387.00v-2.2M454.00,216.30v2.2M483.70,387.00v-2.2M483.70,216.30v2.2M513.40,387.00v-2.2M513.40,216.30v2.2M305.50,387.00h2.2M513.40,387.00h-2.2M305.50,352.86h2.2M513.40,352.86h-2.2M305.50,318.72h2.2M513.40,318.72h-2.2M305.50,284.58h2.2M513.40,284.58h-2.2M305.50,250.44h2.2M513.40,250.44h-2.2M305.50,216.30h2.2M513.40,216.30h-2.2" stroke="#222" stroke-width="0.7" fill="none"/>
<rect x="305.50" y="216.30" width="207.90" height="170.70" fill="none" stroke="#1c1c1c" stroke-width="1"/>
<rect x="248.00" y="19.40" width="12.00" height="170.40" fill="none" stroke="#333" stroke-width="0.6"/>
<rect x="519.50" y="19.40" width="12.10" height="170.40" fill="none" stroke="#333" stroke-width="0.6"/>
<rect x="248.00" y="216.40" width="12.00" height="170.50" fill="none" stroke="#333" stroke-width="0.6"/>
<rect x="519.50" y="216.40" width="12.30" height="170.50" fill="none" stroke="#333" stroke-width="0.6"/>

<text x="135" y="16.7" text-anchor="middle" style="font-size:11px">MeanTECV&#160;&#160;@UT 06:00:00</text>
<text x="404.2" y="11.6" style="font-size:11px">E</text><text x="411.2" y="16.6" style="font-size:8.5px">1</text>
<text x="129.8" y="209.5" style="font-size:11px">E</text><text x="136.6" y="214" style="font-size:8.5px">2</text>
<text x="404.3" y="209.5" style="font-size:11px">E</text><text x="411.1" y="214.2" style="font-size:8.5px">3</text>

<text x="257.8" y="10.9" text-anchor="middle">TECU</text>
<text x="532.5" y="10.9" text-anchor="middle">TECU</text>
<text x="258.3" y="208.1" text-anchor="middle">TECU</text>
<text x="532.5" y="208.1" text-anchor="middle">TECU</text>
<text x="27.3" y="193.3" text-anchor="end">10</text>
<text x="27.3" y="159.2" text-anchor="end">20</text>
<text x="27.3" y="125.1" text-anchor="end">30</text>
<text x="27.3" y="91.0" text-anchor="end">40</text>
<text x="27.3" y="56.9" text-anchor="end">50</text>
<text x="27.3" y="22.8" text-anchor="end">60</text>
<text x="302.0" y="193.3" text-anchor="end">10</text>
<text x="302.0" y="159.2" text-anchor="end">20</text>
<text x="302.0" y="125.1" text-anchor="end">30</text>
<text x="302.0" y="91.0" text-anchor="end">40</text>
<text x="302.0" y="56.9" text-anchor="end">50</text>
<text x="302.0" y="22.8" text-anchor="end">60</text>
<text x="27.3" y="390.4" text-anchor="end">10</text>
<text x="27.3" y="356.3" text-anchor="end">20</text>
<text x="27.3" y="322.1" text-anchor="end">30</text>
<text x="27.3" y="288.0" text-anchor="end">40</text>
<text x="27.3" y="253.8" text-anchor="end">50</text>
<text x="27.3" y="219.7" text-anchor="end">60</text>
<text x="302.0" y="390.4" text-anchor="end">10</text>
<text x="302.0" y="356.3" text-anchor="end">20</text>
<text x="302.0" y="322.1" text-anchor="end">30</text>
<text x="302.0" y="288.0" text-anchor="end">40</text>
<text x="302.0" y="253.8" text-anchor="end">50</text>
<text x="302.0" y="219.7" text-anchor="end">60</text>
<text x="30.8" y="400.0" text-anchor="middle">70</text>
<text x="60.5" y="400.0" text-anchor="middle">80</text>
<text x="90.3" y="400.0" text-anchor="middle">90</text>
<text x="120.0" y="400.0" text-anchor="middle">100</text>
<text x="149.8" y="400.0" text-anchor="middle">110</text>
<text x="179.5" y="400.0" text-anchor="middle">120</text>
<text x="209.3" y="400.0" text-anchor="middle">130</text>
<text x="239.0" y="400.0" text-anchor="middle">140</text>
<text x="305.5" y="400.0" text-anchor="middle">70</text>
<text x="335.2" y="400.0" text-anchor="middle">80</text>
<text x="364.9" y="400.0" text-anchor="middle">90</text>
<text x="394.6" y="400.0" text-anchor="middle">100</text>
<text x="424.3" y="400.0" text-anchor="middle">110</text>
<text x="454.0" y="400.0" text-anchor="middle">120</text>
<text x="483.7" y="400.0" text-anchor="middle">130</text>
<text x="513.4" y="400.0" text-anchor="middle">140</text>
<text x="264.0" y="193.2">0</text>
<text x="264.0" y="164.8">10</text>
<text x="264.0" y="136.4">20</text>
<text x="264.0" y="108.0">30</text>
<text x="264.0" y="79.6">40</text>
<text x="264.0" y="51.2">50</text>
<text x="264.0" y="22.8">60</text>
<path d="M260.00,189.80h-2M248.00,189.80h2M260.00,161.40h-2M248.00,161.40h2M260.00,133.00h-2M248.00,133.00h2M260.00,104.60h-2M248.00,104.60h2M260.00,76.20h-2M248.00,76.20h2M260.00,47.80h-2M248.00,47.80h2M260.00,19.40h-2M248.00,19.40h2" stroke="#222" stroke-width="0.6"/>
<text x="535.6" y="193.2">0</text>
<text x="535.6" y="171.9">0.5</text>
<text x="535.6" y="150.6">1</text>
<text x="535.6" y="129.3">1.5</text>
<text x="535.6" y="108.0">2</text>
<text x="535.6" y="86.7">2.5</text>
<text x="535.6" y="65.4">3</text>
<text x="535.6" y="44.1">3.5</text>
<text x="535.6" y="22.8">4</text>
<path d="M531.60,189.80h-2M519.50,189.80h2M531.60,168.50h-2M519.50,168.50h2M531.60,147.20h-2M519.50,147.20h2M531.60,125.90h-2M519.50,125.90h2M531.60,104.60h-2M519.50,104.60h2M531.60,83.30h-2M519.50,83.30h2M531.60,62.00h-2M519.50,62.00h2M531.60,40.70h-2M519.50,40.70h2M531.60,19.40h-2M519.50,19.40h2" stroke="#222" stroke-width="0.6"/>
<text x="264.0" y="390.3">&#8722;2.5</text>
<text x="264.0" y="369.0">&#8722;2</text>
<text x="264.0" y="347.7">&#8722;1.5</text>
<text x="264.0" y="326.4">&#8722;1</text>
<text x="264.0" y="305.0">&#8722;0.5</text>
<text x="264.0" y="283.7">0</text>
<text x="264.0" y="262.4">0.5</text>
<text x="264.0" y="241.1">1</text>
<text x="264.0" y="219.8">1.5</text>
<path d="M260.00,386.90h-2M248.00,386.90h2M260.00,365.59h-2M248.00,365.59h2M260.00,344.27h-2M248.00,344.27h2M260.00,322.96h-2M248.00,322.96h2M260.00,301.65h-2M248.00,301.65h2M260.00,280.34h-2M248.00,280.34h2M260.00,259.02h-2M248.00,259.02h2M260.00,237.71h-2M248.00,237.71h2M260.00,216.40h-2M248.00,216.40h2" stroke="#222" stroke-width="0.6"/>
<text x="535.8" y="390.3">&#8722;2</text>
<text x="535.8" y="356.2">&#8722;1</text>
<text x="535.8" y="322.1">0</text>
<text x="535.8" y="288.0">1</text>
<text x="535.8" y="253.9">2</text>
<text x="535.8" y="219.8">3</text>
<path d="M531.80,386.90h-2M519.50,386.90h2M531.80,352.80h-2M519.50,352.80h2M531.80,318.70h-2M519.50,318.70h2M531.80,284.60h-2M519.50,284.60h2M531.80,250.50h-2M519.50,250.50h2M531.80,216.40h-2M519.50,216.40h2" stroke="#222" stroke-width="0.6"/>
<text x="135" y="412.6" text-anchor="middle">Longitude/(°)</text>
<text x="409.5" y="412.6" text-anchor="middle">Longitude/(°)</text>
<text transform="translate(12.4,103.8) rotate(-90)" text-anchor="middle" style="font-size:11px">Latitude/(°)</text>
<text transform="translate(12.4,303) rotate(-90)" text-anchor="middle" style="font-size:11px">Latitude/(°)</text>
</svg></body></html>
